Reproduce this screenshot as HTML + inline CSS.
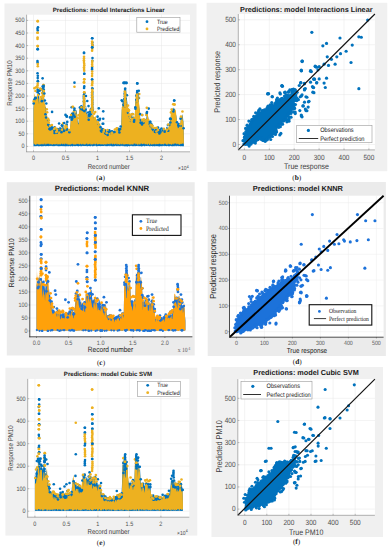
<!DOCTYPE html><html><head><meta charset="utf-8"><style>html,body{margin:0;padding:0;background:#fff;width:392px;height:550px;overflow:hidden}svg{display:block}#w{width:392px;height:550px}text{text-rendering:geometricPrecision}</style></head><body>
<div id="w"><svg width="392" height="550" viewBox="0 0 392 550">
<rect x="4.5" y="3.5" width="192" height="167.5" fill="#f0f0f0"/><rect x="26.6" y="14.7" width="163.4" height="137.1" fill="#ffffff"/><line x1="26.6" y1="146.4" x2="190" y2="146.4" stroke="#e6e6e6" stroke-width="0.5"/><line x1="26.6" y1="133.8" x2="190" y2="133.8" stroke="#e6e6e6" stroke-width="0.5"/><line x1="26.6" y1="121.2" x2="190" y2="121.2" stroke="#e6e6e6" stroke-width="0.5"/><line x1="26.6" y1="108.6" x2="190" y2="108.6" stroke="#e6e6e6" stroke-width="0.5"/><line x1="26.6" y1="96" x2="190" y2="96" stroke="#e6e6e6" stroke-width="0.5"/><line x1="26.6" y1="83.4" x2="190" y2="83.4" stroke="#e6e6e6" stroke-width="0.5"/><line x1="26.6" y1="70.8" x2="190" y2="70.8" stroke="#e6e6e6" stroke-width="0.5"/><line x1="26.6" y1="58.2" x2="190" y2="58.2" stroke="#e6e6e6" stroke-width="0.5"/><line x1="26.6" y1="45.6" x2="190" y2="45.6" stroke="#e6e6e6" stroke-width="0.5"/><line x1="26.6" y1="33" x2="190" y2="33" stroke="#e6e6e6" stroke-width="0.5"/><line x1="26.6" y1="20.4" x2="190" y2="20.4" stroke="#e6e6e6" stroke-width="0.5"/><line x1="33.5" y1="14.7" x2="33.5" y2="151.8" stroke="#e6e6e6" stroke-width="0.5"/><line x1="65.5" y1="14.7" x2="65.5" y2="151.8" stroke="#e6e6e6" stroke-width="0.5"/><line x1="97.5" y1="14.7" x2="97.5" y2="151.8" stroke="#e6e6e6" stroke-width="0.5"/><line x1="129.5" y1="14.7" x2="129.5" y2="151.8" stroke="#e6e6e6" stroke-width="0.5"/><line x1="161.5" y1="14.7" x2="161.5" y2="151.8" stroke="#e6e6e6" stroke-width="0.5"/><path fill="#0072BD" d="M33.5 108.89 L34 97.76 L34.5 96.99 L35 100.12 L35.51 99.04 L36.01 99.33 L36.51 96.24 L37.01 100.05 L37.51 95.55 L38.01 96.77 L38.51 93.26 L39.01 94.94 L39.52 102.43 L40.02 101.27 L40.52 102.94 L41.02 96.5 L41.52 95.28 L42.02 98.46 L42.52 89.51 L43.03 91.64 L43.53 93.8 L44.03 95.23 L44.53 105.32 L45.03 106.15 L45.53 107.12 L46.03 107.97 L46.53 114.47 L47.04 118.58 L47.54 121.54 L48.04 120.16 L48.54 121.81 L49.04 124.76 L49.54 127.15 L50.04 126.39 L50.55 127.97 L51.05 129.68 L51.55 127.76 L52.05 127.35 L52.55 129.11 L53.05 130.57 L53.55 130.26 L54.05 130.82 L54.56 130.78 L55.06 130.11 L55.56 131.32 L56.06 130 L56.56 129.36 L57.06 131.27 L57.56 131.22 L58.07 129.61 L58.57 130.82 L59.07 129.21 L59.57 126.4 L60.07 129.09 L60.57 129.1 L61.07 128.62 L61.57 130.31 L62.08 127.78 L62.58 124.86 L63.08 123.79 L63.58 126.99 L64.08 129.22 L64.58 130.45 L65.08 130.13 L65.59 128.68 L66.09 129 L66.59 127.66 L67.09 127.04 L67.59 124.67 L68.09 128.52 L68.59 130.47 L69.09 128.63 L69.6 128.93 L70.1 129.36 L70.6 124.07 L71.1 114.46 L71.6 117.25 L72.1 113.69 L72.6 113.35 L73.11 113.22 L73.61 110.71 L74.11 114.57 L74.61 115 L75.11 112.24 L75.61 113.42 L76.11 109.81 L76.61 110.9 L77.12 114.33 L77.62 120.78 L78.12 122.98 L78.62 122.43 L79.12 116.03 L79.62 106.02 L80.12 106.07 L80.63 105.83 L81.13 111.32 L81.63 111.42 L82.13 108.05 L82.63 106.3 L83.13 107.64 L83.63 111.93 L84.13 105.46 L84.64 106.6 L85.14 110.94 L85.64 109.65 L86.14 105.59 L86.64 112.69 L87.14 113.36 L87.64 117.82 L88.15 112.92 L88.65 117.7 L89.15 112.44 L89.65 116.41 L90.15 117.79 L90.65 112.5 L91.15 115.3 L91.65 115.88 L92.16 113.41 L92.66 117.03 L93.16 117.1 L93.66 116.98 L94.16 118.51 L94.66 117.9 L95.16 117.33 L95.67 119.04 L96.17 119.36 L96.67 120.03 L97.17 121.24 L97.67 124.1 L98.17 123.69 L98.67 121.47 L99.17 123.84 L99.68 123.23 L100.18 126.12 L100.68 127.62 L101.18 127.93 L101.68 129.51 L102.18 128.55 L102.68 129.71 L103.19 130.21 L103.69 130.58 L104.19 130.68 L104.69 130.18 L105.19 129.63 L105.69 130.97 L106.19 130.32 L106.69 132.61 L107.2 132.92 L107.7 133.08 L108.2 131.25 L108.7 133.18 L109.2 131.78 L109.7 131.15 L110.2 132.88 L110.71 132.26 L111.21 130.46 L111.71 132.71 L112.21 131.57 L112.71 132.39 L113.21 130.72 L113.71 131.1 L114.21 132.59 L114.72 130.65 L115.22 132.23 L115.72 129.9 L116.22 131.89 L116.72 131.98 L117.22 131.11 L117.72 130.47 L118.23 129.03 L118.73 131.04 L119.23 129.51 L119.73 130.94 L120.23 128.78 L120.73 130.71 L121.23 126.46 L121.73 110.28 L122.24 106.99 L122.74 103.12 L123.24 101.79 L123.74 103.97 L124.24 101.16 L124.74 104.63 L125.24 104.79 L125.75 101.9 L126.25 96.72 L126.75 97.99 L127.25 101.85 L127.75 107.21 L128.25 107.97 L128.75 115.56 L129.25 114.64 L129.76 117.23 L130.26 118.91 L130.76 119.36 L131.26 117.59 L131.76 119.42 L132.26 117.24 L132.76 118.84 L133.27 120.73 L133.77 120.53 L134.27 119.36 L134.77 117.38 L135.27 100.85 L135.77 99.83 L136.27 100.05 L136.77 101.72 L137.28 100.99 L137.78 94.39 L138.28 101.82 L138.78 101.52 L139.28 107.11 L139.78 110.31 L140.28 119.37 L140.79 121.95 L141.29 121.68 L141.79 122.13 L142.29 120.9 L142.79 119.6 L143.29 118.94 L143.79 119.34 L144.29 121.26 L144.8 118.39 L145.3 119.96 L145.8 123.62 L146.3 118.18 L146.8 115.08 L147.3 115.23 L147.8 115.08 L148.31 117.66 L148.81 122.4 L149.31 122.66 L149.81 125.41 L150.31 126.49 L150.81 127.26 L151.31 126.08 L151.81 126.53 L152.32 127.76 L152.82 127.36 L153.32 129.12 L153.82 129.31 L154.32 129.1 L154.82 131.3 L155.32 129.21 L155.83 129.21 L156.33 130.05 L156.83 130.14 L157.33 129.25 L157.83 129.69 L158.33 131.32 L158.83 129.46 L159.33 130.06 L159.84 131.71 L160.34 129.81 L160.84 129.84 L161.34 130.38 L161.84 130.58 L162.34 129.28 L162.84 129.01 L163.35 131.75 L163.85 128.87 L164.35 129.78 L164.85 130.29 L165.35 130.01 L165.85 129.97 L166.35 126.79 L166.85 126.95 L167.36 126.38 L167.86 128.52 L168.36 127.26 L168.86 128.84 L169.36 125.53 L169.86 123.25 L170.36 118.64 L170.87 117.02 L171.37 109.33 L171.87 108.42 L172.37 108.31 L172.87 111.86 L173.37 107.01 L173.87 111.42 L174.37 111.8 L174.88 112.84 L175.38 111.21 L175.88 113.67 L176.38 115.9 L176.88 120.71 L177.38 122.37 L177.88 124.67 L178.39 123.61 L178.89 124.78 L179.39 124.97 L179.89 125.14 L180.39 124.44 L180.89 116.89 L181.39 115.71 L181.89 117.4 L182.4 113.92 L182.9 116.49 L183.4 121.99 L183.9 138.71 L183.9 146.3 L183.4 146.15 L182.9 146.21 L182.4 146.24 L181.89 145.93 L181.39 146.18 L180.89 146.32 L180.39 146.37 L179.89 145.99 L179.39 146.12 L178.89 146.37 L178.39 146.05 L177.88 145.82 L177.38 145.89 L176.88 145.8 L176.38 146.28 L175.88 146.23 L175.38 145.81 L174.88 145.87 L174.37 146.37 L173.87 146.13 L173.37 146.03 L172.87 146.15 L172.37 146.22 L171.87 145.95 L171.37 146.32 L170.87 145.93 L170.36 145.87 L169.86 146.18 L169.36 146.21 L168.86 146.09 L168.36 146.38 L167.86 145.83 L167.36 145.96 L166.85 146.08 L166.35 146.32 L165.85 146.07 L165.35 146.03 L164.85 145.8 L164.35 146.23 L163.85 145.79 L163.35 146.11 L162.84 145.81 L162.34 146.27 L161.84 146.33 L161.34 146.11 L160.84 146.22 L160.34 145.96 L159.84 146.23 L159.33 146.39 L158.83 146.21 L158.33 146.24 L157.83 146.35 L157.33 146.01 L156.83 145.97 L156.33 146.16 L155.83 145.79 L155.32 146.27 L154.82 146.23 L154.32 146.24 L153.82 146.36 L153.32 146.06 L152.82 145.93 L152.32 146.4 L151.81 145.97 L151.31 146 L150.81 145.87 L150.31 146.17 L149.81 146.38 L149.31 145.96 L148.81 145.84 L148.31 145.88 L147.8 145.87 L147.3 146.07 L146.8 145.89 L146.3 146 L145.8 145.87 L145.3 145.99 L144.8 146.31 L144.29 146.19 L143.79 145.85 L143.29 145.99 L142.79 146.07 L142.29 146.25 L141.79 146.39 L141.29 146.15 L140.79 146.23 L140.28 146.08 L139.78 146.08 L139.28 146.16 L138.78 146.18 L138.28 145.79 L137.78 146.06 L137.28 145.79 L136.77 146.12 L136.27 146.11 L135.77 146.25 L135.27 145.98 L134.77 145.87 L134.27 146.3 L133.77 145.93 L133.27 146.32 L132.76 146.18 L132.26 146 L131.76 145.88 L131.26 145.78 L130.76 146.08 L130.26 145.87 L129.76 146.13 L129.25 146.33 L128.75 146.1 L128.25 146.05 L127.75 146.39 L127.25 146.39 L126.75 146.29 L126.25 146.22 L125.75 146.21 L125.24 146.27 L124.74 146.3 L124.24 146.25 L123.74 146.32 L123.24 145.82 L122.74 146.19 L122.24 145.86 L121.73 145.86 L121.23 145.89 L120.73 145.81 L120.23 146.13 L119.73 146.36 L119.23 145.96 L118.73 145.82 L118.23 146.24 L117.72 145.83 L117.22 146.32 L116.72 145.91 L116.22 146.23 L115.72 145.79 L115.22 145.78 L114.72 146.08 L114.21 146.19 L113.71 146.12 L113.21 146.39 L112.71 146.2 L112.21 146.19 L111.71 146.13 L111.21 145.88 L110.71 146.09 L110.2 145.8 L109.7 145.79 L109.2 146.31 L108.7 145.95 L108.2 145.83 L107.7 145.98 L107.2 146.25 L106.69 146.12 L106.19 146.31 L105.69 145.81 L105.19 146.24 L104.69 145.85 L104.19 145.81 L103.69 146.06 L103.19 145.96 L102.68 146.08 L102.18 146.12 L101.68 145.92 L101.18 146.08 L100.68 146.23 L100.18 146.05 L99.68 145.91 L99.17 146.07 L98.67 146.05 L98.17 146.1 L97.67 145.9 L97.17 146.28 L96.67 146.39 L96.17 146.06 L95.67 145.82 L95.16 145.83 L94.66 146.11 L94.16 145.83 L93.66 146.14 L93.16 146.03 L92.66 146.22 L92.16 146.27 L91.65 145.85 L91.15 145.81 L90.65 145.99 L90.15 146.39 L89.65 146.05 L89.15 145.99 L88.65 145.88 L88.15 145.89 L87.64 146.3 L87.14 146.29 L86.64 145.8 L86.14 146.15 L85.64 145.9 L85.14 145.9 L84.64 146.1 L84.13 145.91 L83.63 145.98 L83.13 145.9 L82.63 146.1 L82.13 145.83 L81.63 146.27 L81.13 146.26 L80.63 146.17 L80.12 145.78 L79.62 146.12 L79.12 145.96 L78.62 146.22 L78.12 146.38 L77.62 146.07 L77.12 145.93 L76.61 145.89 L76.11 145.78 L75.61 146.26 L75.11 145.91 L74.61 145.91 L74.11 146.17 L73.61 145.96 L73.11 145.78 L72.6 146.38 L72.1 146.31 L71.6 145.8 L71.1 146.3 L70.6 146.23 L70.1 146.34 L69.6 146.1 L69.09 145.77 L68.59 146.32 L68.09 146.18 L67.59 146.31 L67.09 145.85 L66.59 146.17 L66.09 146.3 L65.59 146.37 L65.08 146.3 L64.58 146.36 L64.08 146 L63.58 146.15 L63.08 145.9 L62.58 145.91 L62.08 146.37 L61.57 146.01 L61.07 145.96 L60.57 146.04 L60.07 146.14 L59.57 146.23 L59.07 146.09 L58.57 146.25 L58.07 146.3 L57.56 145.84 L57.06 146.14 L56.56 145.86 L56.06 145.84 L55.56 146.12 L55.06 145.85 L54.56 146.24 L54.05 145.92 L53.55 146.33 L53.05 146.11 L52.55 145.98 L52.05 146.22 L51.55 145.77 L51.05 145.96 L50.55 145.98 L50.04 145.8 L49.54 146.11 L49.04 146.03 L48.54 146.2 L48.04 146.04 L47.54 145.98 L47.04 146.09 L46.53 145.92 L46.03 146.33 L45.53 146.22 L45.03 145.85 L44.53 146.04 L44.03 145.96 L43.53 146.21 L43.03 146.03 L42.52 146.13 L42.02 146.27 L41.52 146.36 L41.02 146.17 L40.52 146.03 L40.02 145.89 L39.52 146.33 L39.01 146.22 L38.51 146.37 L38.01 146.15 L37.51 145.8 L37.01 146.26 L36.51 145.88 L36.01 146.34 L35.51 146.13 L35 146.08 L34.5 146.17 L34 146.35 L33.5 146.3 Z"/><path fill="#EDB120" d="M33.5 110.28 L34 98.9 L34.5 93.08 L35 95.58 L35.51 97.73 L36.01 96.19 L36.51 98.33 L37.01 94.95 L37.51 93.92 L38.01 98.09 L38.51 99 L39.01 104.38 L39.52 94.35 L40.02 99.03 L40.52 96.24 L41.02 100.23 L41.52 96.48 L42.02 88.55 L42.52 86.96 L43.03 97.26 L43.53 88.66 L44.03 96.87 L44.53 103.87 L45.03 103.64 L45.53 105.45 L46.03 115.23 L46.53 113.85 L47.04 114.1 L47.54 118.38 L48.04 122.03 L48.54 127.1 L49.04 127.36 L49.54 127.37 L50.04 130 L50.55 127.85 L51.05 130.5 L51.55 128.7 L52.05 129.45 L52.55 128.85 L53.05 130.24 L53.55 128.19 L54.05 128.64 L54.56 131.16 L55.06 128.88 L55.56 131.24 L56.06 130.73 L56.56 131.21 L57.06 130.62 L57.56 132.4 L58.07 132.14 L58.57 129.69 L59.07 127.71 L59.57 127.19 L60.07 125.99 L60.57 128.06 L61.07 131.74 L61.57 131.69 L62.08 128.93 L62.58 128.26 L63.08 125.08 L63.58 128.85 L64.08 129.56 L64.58 131.09 L65.08 131.85 L65.59 127.23 L66.09 126.65 L66.59 124.83 L67.09 127.12 L67.59 124.53 L68.09 127.45 L68.59 131.04 L69.09 131.73 L69.6 130.24 L70.1 126.76 L70.6 121.7 L71.1 117.61 L71.6 112.15 L72.1 118.39 L72.6 114.67 L73.11 116.08 L73.61 110.69 L74.11 113.66 L74.61 110.95 L75.11 117.43 L75.61 109.51 L76.11 110.31 L76.61 114.59 L77.12 113.82 L77.62 121.09 L78.12 123.65 L78.62 124.67 L79.12 112.01 L79.62 106.3 L80.12 111.79 L80.63 106 L81.13 110.1 L81.63 109.62 L82.13 105.87 L82.63 106.59 L83.13 106.35 L83.63 107.8 L84.13 110.17 L84.64 106.32 L85.14 111.32 L85.64 110.65 L86.14 114.56 L86.64 113.43 L87.14 112.58 L87.64 117.37 L88.15 119.11 L88.65 114.28 L89.15 117.64 L89.65 114.81 L90.15 114.05 L90.65 114.55 L91.15 113.54 L91.65 115.15 L92.16 114.11 L92.66 117.52 L93.16 118.44 L93.66 115.08 L94.16 117.11 L94.66 117.15 L95.16 116.27 L95.67 116.26 L96.17 119.76 L96.67 118.69 L97.17 124.79 L97.67 124.49 L98.17 120.25 L98.67 120.95 L99.17 121.73 L99.68 125.18 L100.18 122.92 L100.68 126.68 L101.18 130.61 L101.68 131.82 L102.18 131.41 L102.68 130.13 L103.19 133.36 L103.69 130.43 L104.19 131.86 L104.69 130.49 L105.19 133.47 L105.69 132.09 L106.19 131.5 L106.69 133.38 L107.2 132.58 L107.7 133.11 L108.2 133.27 L108.7 133.29 L109.2 131.88 L109.7 133.26 L110.2 132.08 L110.71 134.93 L111.21 132.7 L111.71 132.64 L112.21 132.34 L112.71 134.38 L113.21 131.55 L113.71 133.56 L114.21 132.17 L114.72 133.01 L115.22 131.41 L115.72 133 L116.22 130.32 L116.72 132.3 L117.22 129.64 L117.72 130.84 L118.23 129.33 L118.73 129.21 L119.23 129.26 L119.73 129.19 L120.23 130.31 L120.73 128.71 L121.23 128.79 L121.73 106.63 L122.24 107.4 L122.74 100.45 L123.24 108.28 L123.74 99.25 L124.24 98.11 L124.74 99.71 L125.24 99 L125.75 100.62 L126.25 99.68 L126.75 98.18 L127.25 107.17 L127.75 105 L128.25 107.74 L128.75 113.84 L129.25 117.57 L129.76 121.98 L130.26 122.28 L130.76 118.92 L131.26 118.08 L131.76 117.44 L132.26 118.55 L132.76 118.48 L133.27 115.98 L133.77 116.3 L134.27 116.82 L134.77 117.29 L135.27 103.93 L135.77 93.31 L136.27 94.79 L136.77 104.16 L137.28 95.82 L137.78 94.99 L138.28 96.05 L138.78 99.32 L139.28 105.64 L139.78 110.04 L140.28 121.93 L140.79 121.88 L141.29 118.69 L141.79 122.2 L142.29 122.91 L142.79 119.58 L143.29 118.66 L143.79 120.31 L144.29 123.78 L144.8 120.49 L145.3 119.92 L145.8 119.32 L146.3 121.36 L146.8 117.04 L147.3 111.15 L147.8 113.26 L148.31 118.79 L148.81 122.71 L149.31 124.87 L149.81 127.77 L150.31 124.8 L150.81 125.98 L151.31 128.73 L151.81 126.88 L152.32 131.38 L152.82 130.85 L153.32 130.82 L153.82 130.08 L154.32 130.01 L154.82 132.04 L155.32 131.52 L155.83 132.36 L156.33 129.45 L156.83 130.98 L157.33 133.23 L157.83 130.5 L158.33 130.28 L158.83 129.49 L159.33 131.8 L159.84 133.04 L160.34 131.25 L160.84 132.99 L161.34 133.5 L161.84 129.75 L162.34 132.26 L162.84 131.06 L163.35 129.8 L163.85 131.19 L164.35 132.38 L164.85 128.91 L165.35 132.38 L165.85 128.38 L166.35 128.07 L166.85 129.84 L167.36 129.51 L167.86 128.7 L168.36 126.93 L168.86 126.55 L169.36 125.49 L169.86 120.33 L170.36 119.4 L170.87 110.88 L171.37 109.2 L171.87 113.53 L172.37 109.47 L172.87 109.16 L173.37 108.01 L173.87 112.71 L174.37 109.1 L174.88 108.57 L175.38 109.79 L175.88 110.53 L176.38 116.53 L176.88 119.89 L177.38 126.08 L177.88 128.18 L178.39 127.84 L178.89 128.35 L179.39 127.09 L179.89 129.56 L180.39 122.93 L180.89 118.39 L181.39 119.6 L181.89 117.26 L182.4 115.09 L182.9 121.28 L183.4 120.7 L183.9 139.82 L183.9 144.58 L183.4 143.46 L182.9 143.58 L182.4 143.54 L181.89 143.65 L181.39 144 L180.89 143.77 L180.39 143.93 L179.89 144.83 L179.39 144.67 L178.89 143.48 L178.39 144.85 L177.88 143.51 L177.38 143.95 L176.88 144.42 L176.38 143.79 L175.88 143.59 L175.38 143.62 L174.88 143.41 L174.37 143.84 L173.87 143.52 L173.37 144.39 L172.87 144.39 L172.37 143.46 L171.87 144.53 L171.37 144.86 L170.87 144.56 L170.36 143.92 L169.86 144.1 L169.36 144.23 L168.86 144.49 L168.36 143.61 L167.86 143.75 L167.36 144.83 L166.85 144.73 L166.35 144.2 L165.85 144.18 L165.35 143.61 L164.85 143.81 L164.35 143.54 L163.85 144.43 L163.35 144.62 L162.84 143.92 L162.34 143.97 L161.84 144.67 L161.34 144.06 L160.84 143.71 L160.34 144.53 L159.84 144.08 L159.33 143.52 L158.83 143.78 L158.33 144.22 L157.83 144.36 L157.33 143.91 L156.83 144.49 L156.33 143.71 L155.83 143.92 L155.32 144.66 L154.82 143.47 L154.32 144.17 L153.82 144.58 L153.32 144.01 L152.82 144.35 L152.32 144.35 L151.81 144.85 L151.31 144.54 L150.81 143.53 L150.31 144.23 L149.81 144.66 L149.31 144.89 L148.81 143.88 L148.31 143.4 L147.8 144.5 L147.3 144.81 L146.8 144.62 L146.3 143.73 L145.8 144.02 L145.3 144.49 L144.8 144.29 L144.29 143.39 L143.79 143.55 L143.29 144.05 L142.79 144.34 L142.29 144.09 L141.79 143.7 L141.29 143.53 L140.79 143.47 L140.28 144.61 L139.78 144.41 L139.28 144.49 L138.78 143.5 L138.28 144.67 L137.78 144.47 L137.28 144.65 L136.77 144.36 L136.27 143.48 L135.77 144.64 L135.27 143.44 L134.77 143.4 L134.27 143.66 L133.77 143.38 L133.27 144.68 L132.76 144.32 L132.26 144.81 L131.76 143.71 L131.26 144.76 L130.76 144.83 L130.26 144.22 L129.76 144.24 L129.25 144.73 L128.75 144.62 L128.25 143.71 L127.75 144.53 L127.25 143.95 L126.75 144.23 L126.25 143.89 L125.75 144.01 L125.24 144.43 L124.74 144.06 L124.24 144.71 L123.74 144.83 L123.24 144.04 L122.74 143.53 L122.24 144.51 L121.73 144.31 L121.23 144.28 L120.73 144.61 L120.23 143.61 L119.73 144.55 L119.23 144.65 L118.73 143.95 L118.23 144.3 L117.72 144.81 L117.22 143.41 L116.72 144.7 L116.22 143.43 L115.72 144.15 L115.22 143.49 L114.72 144.46 L114.21 144.13 L113.71 143.95 L113.21 143.51 L112.71 144.05 L112.21 144.64 L111.71 143.55 L111.21 143.65 L110.71 143.52 L110.2 144.58 L109.7 144.59 L109.2 143.38 L108.7 144.26 L108.2 144.03 L107.7 143.45 L107.2 144.46 L106.69 143.84 L106.19 144.75 L105.69 144.06 L105.19 144.73 L104.69 144.06 L104.19 144.58 L103.69 144.61 L103.19 144.39 L102.68 144.58 L102.18 143.98 L101.68 144.58 L101.18 144.33 L100.68 143.95 L100.18 144.73 L99.68 143.71 L99.17 144.21 L98.67 144.33 L98.17 144.01 L97.67 144.6 L97.17 144.44 L96.67 143.51 L96.17 143.65 L95.67 144.73 L95.16 143.9 L94.66 144.54 L94.16 143.39 L93.66 144.39 L93.16 143.55 L92.66 144.52 L92.16 144.59 L91.65 144.32 L91.15 144.44 L90.65 144.7 L90.15 143.61 L89.65 143.87 L89.15 144.26 L88.65 144.21 L88.15 144.13 L87.64 144.76 L87.14 143.39 L86.64 143.41 L86.14 144.05 L85.64 144.79 L85.14 143.75 L84.64 144.77 L84.13 144.34 L83.63 144.39 L83.13 143.72 L82.63 143.77 L82.13 144.61 L81.63 144.14 L81.13 144.51 L80.63 143.45 L80.12 144.17 L79.62 144.85 L79.12 143.93 L78.62 143.75 L78.12 144.47 L77.62 143.8 L77.12 143.96 L76.61 144.48 L76.11 143.53 L75.61 144.5 L75.11 144.79 L74.61 144.83 L74.11 143.66 L73.61 144.84 L73.11 144.34 L72.6 143.5 L72.1 144.17 L71.6 144.23 L71.1 143.65 L70.6 144.57 L70.1 144.7 L69.6 144.36 L69.09 144.88 L68.59 144.39 L68.09 144.32 L67.59 144.84 L67.09 143.47 L66.59 144.39 L66.09 143.38 L65.59 143.55 L65.08 144.29 L64.58 144.81 L64.08 143.42 L63.58 144.29 L63.08 143.45 L62.58 144.26 L62.08 144.6 L61.57 143.45 L61.07 143.74 L60.57 144.54 L60.07 144.42 L59.57 144.58 L59.07 143.77 L58.57 144.59 L58.07 144.25 L57.56 144.84 L57.06 143.49 L56.56 144.5 L56.06 143.87 L55.56 144.86 L55.06 143.82 L54.56 144.51 L54.05 144.17 L53.55 143.91 L53.05 144.19 L52.55 144.87 L52.05 144.55 L51.55 144.01 L51.05 144.78 L50.55 143.83 L50.04 144.51 L49.54 144.43 L49.04 143.5 L48.54 143.71 L48.04 144.05 L47.54 143.73 L47.04 143.8 L46.53 143.86 L46.03 144.65 L45.53 144.51 L45.03 143.59 L44.53 143.49 L44.03 144.89 L43.53 144.17 L43.03 143.82 L42.52 144.86 L42.02 143.6 L41.52 144.21 L41.02 144.51 L40.52 144.56 L40.02 143.94 L39.52 144.7 L39.01 144.47 L38.51 144.38 L38.01 144.1 L37.51 144.26 L37.01 143.55 L36.51 144.5 L36.01 144.75 L35.51 144.75 L35 144.68 L34.5 143.38 L34 144.56 L33.5 143.52 Z"/><g fill="#0072BD"></g><g fill="#0072BD"><circle cx="156.65" cy="129.13" r="1.3"/><circle cx="71.7" cy="119.67" r="1.3"/><circle cx="63.73" cy="129.85" r="1.3"/><circle cx="46.08" cy="117.48" r="1.3"/><circle cx="117.33" cy="129.87" r="1.3"/><circle cx="102.43" cy="129.12" r="1.3"/><circle cx="170.35" cy="122.52" r="1.3"/><circle cx="123.45" cy="104.86" r="1.3"/><circle cx="51.54" cy="127.15" r="1.3"/><circle cx="72.18" cy="114.58" r="1.3"/><circle cx="129.85" cy="116.71" r="1.3"/><circle cx="134.23" cy="120.11" r="1.3"/><circle cx="100.93" cy="130.72" r="1.3"/><circle cx="178.75" cy="123.98" r="1.3"/><circle cx="66.85" cy="129.43" r="1.3"/><circle cx="71.98" cy="116.64" r="1.3"/><circle cx="169.27" cy="124.89" r="1.3"/><circle cx="159.42" cy="133.46" r="1.3"/><circle cx="151.77" cy="127.02" r="1.3"/><circle cx="130.76" cy="116.24" r="1.3"/><circle cx="41.89" cy="101.14" r="1.3"/><circle cx="147.04" cy="112.04" r="1.3"/><circle cx="135.3" cy="107.3" r="1.3"/><circle cx="122.46" cy="101.18" r="1.3"/><circle cx="49.36" cy="129.01" r="1.3"/><circle cx="72.15" cy="118.69" r="1.3"/><circle cx="105.89" cy="133.76" r="1.3"/><circle cx="69.36" cy="132.13" r="1.3"/><circle cx="135.42" cy="108.82" r="1.3"/><circle cx="141.37" cy="123.08" r="1.3"/><circle cx="38.92" cy="93.97" r="1.3"/><circle cx="66.67" cy="124.58" r="1.3"/><circle cx="163.86" cy="129.3" r="1.3"/><circle cx="54.52" cy="130.95" r="1.3"/><circle cx="48.09" cy="119.95" r="1.3"/><circle cx="160.17" cy="130.94" r="1.3"/><circle cx="101.53" cy="131.58" r="1.3"/><circle cx="157.29" cy="131.38" r="1.3"/><circle cx="127.98" cy="112.65" r="1.3"/><circle cx="66.84" cy="129.34" r="1.3"/><circle cx="140.84" cy="120.12" r="1.3"/><circle cx="55.26" cy="129.3" r="1.3"/><circle cx="73.57" cy="115.38" r="1.3"/><circle cx="56.92" cy="132.69" r="1.3"/><circle cx="159.77" cy="132.21" r="1.3"/><circle cx="58.74" cy="130.46" r="1.3"/><circle cx="81.34" cy="106.24" r="1.3"/><circle cx="50.67" cy="126.65" r="1.3"/><circle cx="42.05" cy="89.07" r="1.3"/><circle cx="134.01" cy="121.63" r="1.3"/><circle cx="105.31" cy="133.08" r="1.3"/><circle cx="72.27" cy="117.92" r="1.3"/><circle cx="88.29" cy="112.46" r="1.3"/><circle cx="183.61" cy="128.19" r="1.3"/><circle cx="48.17" cy="124.75" r="1.3"/><circle cx="168.29" cy="130.82" r="1.3"/><circle cx="142.76" cy="122.86" r="1.3"/><circle cx="180.69" cy="125.72" r="1.3"/><circle cx="154.88" cy="131.81" r="1.3"/><circle cx="54.58" cy="133.05" r="1.3"/><circle cx="158.67" cy="131.27" r="1.3"/><circle cx="61.45" cy="132.3" r="1.3"/><circle cx="170.66" cy="119.09" r="1.3"/><circle cx="119.43" cy="132.52" r="1.3"/><circle cx="60.59" cy="128.54" r="1.3"/><circle cx="140.53" cy="122.75" r="1.3"/><circle cx="45.42" cy="114.23" r="1.3"/><circle cx="125.03" cy="102.27" r="1.3"/><circle cx="74.69" cy="116.85" r="1.3"/><circle cx="125.61" cy="98.94" r="1.3"/><circle cx="155.56" cy="130.76" r="1.3"/><circle cx="63.92" cy="130.88" r="1.3"/><circle cx="143.7" cy="122.38" r="1.3"/><circle cx="142.04" cy="124.39" r="1.3"/><circle cx="155.42" cy="131.88" r="1.3"/><circle cx="160.12" cy="129.89" r="1.3"/><circle cx="107.65" cy="134.93" r="1.3"/><circle cx="170.4" cy="118.81" r="1.3"/><circle cx="164.65" cy="131.71" r="1.3"/><circle cx="61.48" cy="130.45" r="1.3"/><circle cx="88.71" cy="119.76" r="1.3"/><circle cx="89.32" cy="115.95" r="1.3"/><circle cx="34.2" cy="99.72" r="1.3"/><circle cx="100.54" cy="127.14" r="1.3"/><circle cx="51.66" cy="128.45" r="1.3"/><circle cx="156.31" cy="129.55" r="1.3"/><circle cx="81.78" cy="108.2" r="1.3"/><circle cx="90.86" cy="114.57" r="1.3"/><circle cx="42.71" cy="86.38" r="1.3"/><circle cx="176.99" cy="122.21" r="1.3"/></g><g fill="#0072BD"><circle cx="50.34" cy="129.53" r="1.3"/><circle cx="155.63" cy="128.71" r="1.3"/><circle cx="72.11" cy="113.73" r="1.3"/><circle cx="88.85" cy="115.02" r="1.3"/><circle cx="109.26" cy="130.39" r="1.3"/><circle cx="149.76" cy="123.94" r="1.3"/><circle cx="114.4" cy="131.88" r="1.3"/><circle cx="33.7" cy="103.39" r="1.3"/><circle cx="107.89" cy="132.17" r="1.3"/><circle cx="152" cy="125.26" r="1.3"/><circle cx="102.82" cy="129.37" r="1.3"/><circle cx="82.63" cy="110.05" r="1.3"/><circle cx="99.5" cy="120.1" r="1.3"/><circle cx="52.46" cy="128.11" r="1.3"/><circle cx="61.97" cy="125.62" r="1.3"/><circle cx="91.29" cy="108.75" r="1.3"/><circle cx="124.3" cy="99.06" r="1.3"/><circle cx="170.06" cy="118.77" r="1.3"/><circle cx="142.12" cy="115.02" r="1.3"/><circle cx="138.79" cy="90.81" r="1.3"/><circle cx="151.17" cy="123.79" r="1.3"/><circle cx="126.98" cy="95.29" r="1.3"/><circle cx="173.4" cy="111.47" r="1.3"/><circle cx="57.69" cy="129.02" r="1.3"/><circle cx="111.59" cy="133.06" r="1.3"/><circle cx="136.43" cy="95.72" r="1.3"/><circle cx="67.25" cy="121.91" r="1.3"/><circle cx="112.77" cy="132.26" r="1.3"/><circle cx="150.3" cy="121.74" r="1.3"/><circle cx="178.47" cy="125.33" r="1.3"/><circle cx="158.9" cy="130.35" r="1.3"/><circle cx="158.02" cy="127.62" r="1.3"/><circle cx="54.62" cy="127.25" r="1.3"/><circle cx="35.75" cy="97.9" r="1.3"/><circle cx="54.97" cy="130.39" r="1.3"/><circle cx="85.61" cy="109.53" r="1.3"/><circle cx="152.57" cy="129.08" r="1.3"/><circle cx="125" cy="93.1" r="1.3"/><circle cx="167.94" cy="124.95" r="1.3"/><circle cx="145.08" cy="119.93" r="1.3"/><circle cx="108.43" cy="131.57" r="1.3"/><circle cx="118.11" cy="128.7" r="1.3"/><circle cx="89.89" cy="114.09" r="1.3"/><circle cx="44.84" cy="100.46" r="1.3"/><circle cx="37.79" cy="91.52" r="1.3"/><circle cx="173.6" cy="109.75" r="1.3"/><circle cx="110.3" cy="131.74" r="1.3"/><circle cx="38.6" cy="90.86" r="1.3"/><circle cx="104.87" cy="130.22" r="1.3"/><circle cx="74.36" cy="110.33" r="1.3"/><circle cx="81.19" cy="108.67" r="1.3"/><circle cx="62.07" cy="125.41" r="1.3"/><circle cx="132.47" cy="114.06" r="1.3"/><circle cx="125.51" cy="94.92" r="1.3"/><circle cx="138.24" cy="94.08" r="1.3"/><circle cx="39.06" cy="90.53" r="1.3"/><circle cx="132.12" cy="117.73" r="1.3"/><circle cx="98.27" cy="119.7" r="1.3"/><circle cx="51.37" cy="125.73" r="1.3"/><circle cx="91.73" cy="112.46" r="1.3"/><circle cx="136.34" cy="99.71" r="1.3"/><circle cx="149.91" cy="121.72" r="1.3"/><circle cx="143.25" cy="121.91" r="1.3"/><circle cx="140.17" cy="114.17" r="1.3"/><circle cx="71.71" cy="107.18" r="1.3"/><circle cx="35.21" cy="98.13" r="1.3"/><circle cx="143.21" cy="121.25" r="1.3"/><circle cx="119.97" cy="129.14" r="1.3"/><circle cx="91.51" cy="110.62" r="1.3"/><circle cx="42.62" cy="78.33" r="1.3"/><circle cx="157.94" cy="130.37" r="1.3"/><circle cx="180.51" cy="118.66" r="1.3"/><circle cx="79.91" cy="107.45" r="1.3"/><circle cx="90.15" cy="111.58" r="1.3"/><circle cx="121.73" cy="100.2" r="1.3"/><circle cx="39.86" cy="90.57" r="1.3"/><circle cx="161.52" cy="128.43" r="1.3"/><circle cx="64.57" cy="129.46" r="1.3"/><circle cx="120.67" cy="126.57" r="1.3"/><circle cx="111.99" cy="131.34" r="1.3"/><circle cx="138.94" cy="97.98" r="1.3"/><circle cx="49.46" cy="125.62" r="1.3"/><circle cx="118.8" cy="130.42" r="1.3"/><circle cx="97.56" cy="116.64" r="1.3"/></g><g fill="#EDB120"><circle cx="128.48" cy="111.16" r="1.3"/><circle cx="48.22" cy="118.91" r="1.3"/><circle cx="81.5" cy="107.19" r="1.3"/><circle cx="38.16" cy="94.98" r="1.3"/><circle cx="47.17" cy="112.31" r="1.3"/><circle cx="180.57" cy="124.15" r="1.3"/><circle cx="107.42" cy="130.06" r="1.3"/><circle cx="72.69" cy="106.81" r="1.3"/><circle cx="65.79" cy="125.7" r="1.3"/><circle cx="50.03" cy="126.04" r="1.3"/><circle cx="127.94" cy="105.58" r="1.3"/><circle cx="92.85" cy="109.64" r="1.3"/><circle cx="167.12" cy="129.74" r="1.3"/><circle cx="73.08" cy="107.01" r="1.3"/><circle cx="90.55" cy="109.7" r="1.3"/><circle cx="146.75" cy="113.58" r="1.3"/><circle cx="133.08" cy="114.29" r="1.3"/><circle cx="69.29" cy="130.29" r="1.3"/><circle cx="139.26" cy="94.03" r="1.3"/><circle cx="56.96" cy="131.17" r="1.3"/><circle cx="112.04" cy="132.69" r="1.3"/><circle cx="48.81" cy="120.43" r="1.3"/><circle cx="143.79" cy="119.37" r="1.3"/><circle cx="129.45" cy="120.21" r="1.3"/><circle cx="91.91" cy="117.73" r="1.3"/><circle cx="152.47" cy="126.04" r="1.3"/><circle cx="128.61" cy="110.31" r="1.3"/><circle cx="146.16" cy="120.34" r="1.3"/><circle cx="129.99" cy="117.55" r="1.3"/><circle cx="127.99" cy="109.19" r="1.3"/><circle cx="71.11" cy="114.99" r="1.3"/><circle cx="150.54" cy="124.82" r="1.3"/><circle cx="180.08" cy="127.84" r="1.3"/><circle cx="114.87" cy="129.49" r="1.3"/><circle cx="129.64" cy="114.52" r="1.3"/><circle cx="95.22" cy="112.12" r="1.3"/><circle cx="51.91" cy="125.07" r="1.3"/><circle cx="42.02" cy="92.95" r="1.3"/><circle cx="35.5" cy="90.96" r="1.3"/><circle cx="138.52" cy="97.83" r="1.3"/><circle cx="92.45" cy="116.05" r="1.3"/><circle cx="104.06" cy="129.72" r="1.3"/><circle cx="156.64" cy="127.92" r="1.3"/><circle cx="77.77" cy="118.16" r="1.3"/><circle cx="73.72" cy="111.99" r="1.3"/><circle cx="97.59" cy="122.4" r="1.3"/><circle cx="142.06" cy="119.84" r="1.3"/><circle cx="78.89" cy="115.12" r="1.3"/><circle cx="129.35" cy="114.67" r="1.3"/><circle cx="173.18" cy="104.25" r="1.3"/><circle cx="132.16" cy="118.74" r="1.3"/><circle cx="63.18" cy="123.35" r="1.3"/><circle cx="116.98" cy="131.01" r="1.3"/><circle cx="54.46" cy="128.87" r="1.3"/><circle cx="103.75" cy="131.57" r="1.3"/><circle cx="34.49" cy="88.17" r="1.3"/><circle cx="84.43" cy="101.5" r="1.3"/><circle cx="65.19" cy="128.52" r="1.3"/><circle cx="116.83" cy="128.41" r="1.3"/><circle cx="157.99" cy="130.03" r="1.3"/><circle cx="131.95" cy="114.18" r="1.3"/><circle cx="128.98" cy="110.26" r="1.3"/><circle cx="142.19" cy="115.01" r="1.3"/><circle cx="40.97" cy="97.09" r="1.3"/><circle cx="65.46" cy="126.67" r="1.3"/><circle cx="148.21" cy="120.06" r="1.3"/><circle cx="151.8" cy="125.7" r="1.3"/><circle cx="78.93" cy="115.25" r="1.3"/><circle cx="41.71" cy="89.59" r="1.3"/><circle cx="171.66" cy="109.6" r="1.3"/><circle cx="181.01" cy="116.61" r="1.3"/><circle cx="48.85" cy="122.68" r="1.3"/><circle cx="56.33" cy="132" r="1.3"/><circle cx="46.76" cy="109.32" r="1.3"/><circle cx="36.17" cy="87.19" r="1.3"/><circle cx="143.83" cy="121.34" r="1.3"/><circle cx="156.43" cy="131.47" r="1.3"/><circle cx="106.64" cy="132.97" r="1.3"/><circle cx="55.29" cy="127.76" r="1.3"/><circle cx="130.49" cy="115.95" r="1.3"/><circle cx="151.51" cy="125.22" r="1.3"/><circle cx="168.28" cy="124.6" r="1.3"/><circle cx="33.75" cy="101.15" r="1.3"/><circle cx="163.93" cy="128.88" r="1.3"/><circle cx="170.93" cy="112.38" r="1.3"/><circle cx="116.77" cy="128.57" r="1.3"/><circle cx="146.33" cy="114.93" r="1.3"/><circle cx="124.78" cy="94.78" r="1.3"/><circle cx="152.57" cy="127.48" r="1.3"/><circle cx="154.81" cy="127.96" r="1.3"/><circle cx="61.95" cy="129.78" r="1.3"/><circle cx="94.03" cy="113.81" r="1.3"/><circle cx="40.21" cy="88.59" r="1.3"/><circle cx="56.99" cy="129.54" r="1.3"/><circle cx="111.63" cy="133.39" r="1.3"/><circle cx="182.46" cy="111.57" r="1.3"/></g><g fill="#EDB120"><circle cx="37.73" cy="21.16" r="1.3"/><circle cx="37.74" cy="21.16" r="1.3"/></g><g fill="#0072BD"><circle cx="37.74" cy="30.48" r="1.3"/><circle cx="37.48" cy="28.84" r="1.3"/><circle cx="37.96" cy="27.2" r="1.3"/></g><g fill="#EDB120"><circle cx="37.58" cy="32.75" r="1.3"/><circle cx="37.56" cy="32.75" r="1.3"/></g><g fill="#EDB120"><circle cx="37.52" cy="39.05" r="1.3"/><circle cx="37.6" cy="37.54" r="1.3"/></g><g fill="#EDB120"><circle cx="37.89" cy="46.1" r="1.3"/><circle cx="37.48" cy="46.1" r="1.3"/></g><g fill="#0072BD"><circle cx="37.52" cy="49.13" r="1.3"/><circle cx="37.83" cy="49.13" r="1.3"/></g><g fill="#0072BD"><circle cx="37.57" cy="62.48" r="1.3"/><circle cx="37.48" cy="60.97" r="1.3"/></g><g fill="#EDB120"><circle cx="37.77" cy="66.26" r="1.3"/><circle cx="37.76" cy="64" r="1.3"/></g><g fill="#0072BD"><circle cx="37.74" cy="78.11" r="1.3"/><circle cx="37.83" cy="75.71" r="1.3"/><circle cx="37.52" cy="73.32" r="1.3"/></g><g fill="#0072BD"><circle cx="37.91" cy="81.13" r="1.3"/><circle cx="37.84" cy="81.13" r="1.3"/></g><g fill="#EDB120"><circle cx="37.49" cy="87.43" r="1.3"/><circle cx="37.53" cy="85.54" r="1.3"/><circle cx="37.72" cy="83.65" r="1.3"/></g><g fill="#0072BD"><circle cx="37.72" cy="92.22" r="1.3"/><circle cx="37.61" cy="89.7" r="1.3"/></g><g fill="#EDB120"><circle cx="43.42" cy="85.16" r="1.3"/><circle cx="43.56" cy="85.16" r="1.3"/></g><g fill="#0072BD"><circle cx="43.43" cy="93.48" r="1.3"/><circle cx="43.66" cy="91.59" r="1.3"/><circle cx="43.8" cy="89.7" r="1.3"/><circle cx="43.43" cy="87.81" r="1.3"/><circle cx="43.65" cy="85.92" r="1.3"/></g><g fill="#EDB120"><circle cx="43.74" cy="96" r="1.3"/><circle cx="43.44" cy="94.32" r="1.3"/><circle cx="43.78" cy="92.64" r="1.3"/><circle cx="43.84" cy="90.96" r="1.3"/></g><g fill="#0072BD"><circle cx="84" cy="52.91" r="1.3"/><circle cx="84.02" cy="52.91" r="1.3"/></g><g fill="#EDB120"><circle cx="84.23" cy="70.8" r="1.3"/><circle cx="84.07" cy="69.04" r="1.3"/><circle cx="84.01" cy="67.27" r="1.3"/><circle cx="84.29" cy="65.51" r="1.3"/><circle cx="84.2" cy="63.74" r="1.3"/><circle cx="83.98" cy="61.98" r="1.3"/><circle cx="83.93" cy="60.22" r="1.3"/><circle cx="83.98" cy="58.45" r="1.3"/><circle cx="84.03" cy="56.69" r="1.3"/></g><g fill="#0072BD"><circle cx="84.31" cy="73.82" r="1.3"/><circle cx="84.22" cy="73.82" r="1.3"/></g><g fill="#EDB120"><circle cx="84.27" cy="79.37" r="1.3"/><circle cx="84.22" cy="79.37" r="1.3"/></g><g fill="#EDB120"><circle cx="84.24" cy="82.39" r="1.3"/><circle cx="83.83" cy="82.39" r="1.3"/></g><g fill="#0072BD"><circle cx="84.07" cy="87.94" r="1.3"/><circle cx="84.29" cy="86.42" r="1.3"/></g><g fill="#0072BD"><circle cx="84.28" cy="111.12" r="1.3"/><circle cx="83.93" cy="109.52" r="1.3"/><circle cx="84.02" cy="107.91" r="1.3"/><circle cx="84.13" cy="106.31" r="1.3"/><circle cx="83.99" cy="104.71" r="1.3"/><circle cx="84.08" cy="103.1" r="1.3"/><circle cx="83.84" cy="101.5" r="1.3"/><circle cx="84.03" cy="99.89" r="1.3"/><circle cx="84.06" cy="98.29" r="1.3"/><circle cx="83.81" cy="96.69" r="1.3"/><circle cx="83.88" cy="95.08" r="1.3"/><circle cx="84.3" cy="93.48" r="1.3"/></g><g fill="#EDB120"><circle cx="84.2" cy="92.22" r="1.3"/><circle cx="84.28" cy="92.22" r="1.3"/></g><g fill="#EDB120"><circle cx="84.13" cy="108.6" r="1.3"/><circle cx="84.22" cy="106.8" r="1.3"/><circle cx="84.26" cy="105" r="1.3"/><circle cx="84.26" cy="103.2" r="1.3"/><circle cx="83.82" cy="101.4" r="1.3"/><circle cx="84.13" cy="99.6" r="1.3"/><circle cx="83.94" cy="97.8" r="1.3"/><circle cx="84.15" cy="96" r="1.3"/></g><g fill="#0072BD"><circle cx="92.14" cy="38.29" r="1.3"/><circle cx="92.27" cy="38.29" r="1.3"/></g><g fill="#0072BD"><circle cx="92.47" cy="45.1" r="1.3"/><circle cx="92.31" cy="42.58" r="1.3"/></g><g fill="#EDB120"><circle cx="92.12" cy="50.64" r="1.3"/><circle cx="92.26" cy="48.83" r="1.3"/><circle cx="92.22" cy="47.01" r="1.3"/><circle cx="92.48" cy="45.2" r="1.3"/><circle cx="92.14" cy="43.38" r="1.3"/><circle cx="92.15" cy="41.57" r="1.3"/></g><g fill="#0072BD"><circle cx="92.33" cy="47.36" r="1.3"/><circle cx="92.06" cy="47.36" r="1.3"/></g><g fill="#0072BD"><circle cx="92.3" cy="60.72" r="1.3"/><circle cx="92.49" cy="57.95" r="1.3"/></g><g fill="#EDB120"><circle cx="92.26" cy="66.26" r="1.3"/><circle cx="92.13" cy="64.5" r="1.3"/><circle cx="92.23" cy="62.74" r="1.3"/><circle cx="92.27" cy="60.97" r="1.3"/></g><g fill="#0072BD"><circle cx="92.07" cy="69.54" r="1.3"/><circle cx="92.06" cy="68.03" r="1.3"/></g><g fill="#EDB120"><circle cx="92.06" cy="76.09" r="1.3"/><circle cx="92.15" cy="73.82" r="1.3"/><circle cx="92.2" cy="71.56" r="1.3"/></g><g fill="#0072BD"><circle cx="92.14" cy="79.62" r="1.3"/><circle cx="92.12" cy="79.62" r="1.3"/></g><g fill="#EDB120"><circle cx="92.04" cy="85.16" r="1.3"/><circle cx="92.28" cy="83.4" r="1.3"/><circle cx="92.43" cy="81.64" r="1.3"/></g><g fill="#0072BD"><circle cx="92.31" cy="88.44" r="1.3"/><circle cx="92.29" cy="88.44" r="1.3"/></g><g fill="#0072BD"><circle cx="92.33" cy="111.12" r="1.3"/><circle cx="92.1" cy="109.4" r="1.3"/><circle cx="92.36" cy="107.68" r="1.3"/><circle cx="92.23" cy="105.97" r="1.3"/><circle cx="92.28" cy="104.25" r="1.3"/><circle cx="92.31" cy="102.53" r="1.3"/><circle cx="92.24" cy="100.81" r="1.3"/><circle cx="92.15" cy="99.09" r="1.3"/><circle cx="92.12" cy="97.37" r="1.3"/><circle cx="92.11" cy="95.66" r="1.3"/><circle cx="92.26" cy="93.94" r="1.3"/><circle cx="92.19" cy="92.22" r="1.3"/></g><g fill="#EDB120"><circle cx="92.3" cy="112.38" r="1.3"/><circle cx="92" cy="110.76" r="1.3"/><circle cx="92.18" cy="109.14" r="1.3"/><circle cx="92.44" cy="107.52" r="1.3"/><circle cx="92.12" cy="105.9" r="1.3"/><circle cx="92.28" cy="104.28" r="1.3"/><circle cx="92.25" cy="102.66" r="1.3"/><circle cx="92.14" cy="101.04" r="1.3"/><circle cx="92.5" cy="99.42" r="1.3"/><circle cx="92.15" cy="97.8" r="1.3"/><circle cx="92.39" cy="96.18" r="1.3"/><circle cx="92.08" cy="94.56" r="1.3"/><circle cx="92.03" cy="92.94" r="1.3"/><circle cx="92.44" cy="91.32" r="1.3"/><circle cx="92.22" cy="89.7" r="1.3"/></g><g fill="#0072BD"><circle cx="124.8" cy="82.9" r="1.3"/><circle cx="124.96" cy="82.9" r="1.3"/></g><g fill="#0072BD"><circle cx="124.99" cy="106.08" r="1.3"/><circle cx="125.14" cy="104.48" r="1.3"/><circle cx="124.82" cy="102.87" r="1.3"/><circle cx="124.88" cy="101.27" r="1.3"/><circle cx="125.26" cy="99.67" r="1.3"/><circle cx="125.14" cy="98.06" r="1.3"/><circle cx="124.84" cy="96.46" r="1.3"/><circle cx="124.94" cy="94.85" r="1.3"/><circle cx="124.94" cy="93.25" r="1.3"/><circle cx="125.11" cy="91.65" r="1.3"/><circle cx="125.08" cy="90.04" r="1.3"/><circle cx="125.2" cy="88.44" r="1.3"/></g><g fill="#EDB120"><circle cx="125.18" cy="106.08" r="1.3"/><circle cx="125.03" cy="104.46" r="1.3"/><circle cx="125.14" cy="102.83" r="1.3"/><circle cx="125.14" cy="101.21" r="1.3"/><circle cx="125.15" cy="99.58" r="1.3"/><circle cx="125.01" cy="97.96" r="1.3"/><circle cx="125.17" cy="96.34" r="1.3"/><circle cx="125.13" cy="94.71" r="1.3"/><circle cx="125.23" cy="93.09" r="1.3"/><circle cx="124.83" cy="91.46" r="1.3"/></g><g fill="#0072BD"><circle cx="123.93" cy="82.9" r="1.3"/><circle cx="123.49" cy="82.9" r="1.3"/></g><g fill="#0072BD"><circle cx="126.44" cy="82.9" r="1.3"/><circle cx="126.34" cy="82.9" r="1.3"/></g><g fill="#0072BD"><circle cx="137.18" cy="83.4" r="1.3"/><circle cx="137.42" cy="83.4" r="1.3"/></g><g fill="#0072BD"><circle cx="137.22" cy="101.04" r="1.3"/><circle cx="137.14" cy="99.36" r="1.3"/><circle cx="137.33" cy="97.68" r="1.3"/><circle cx="137.37" cy="96" r="1.3"/><circle cx="137.23" cy="94.32" r="1.3"/><circle cx="137.12" cy="92.64" r="1.3"/><circle cx="137.16" cy="90.96" r="1.3"/></g><g fill="#EDB120"><circle cx="137.16" cy="101.04" r="1.3"/><circle cx="137.29" cy="99.4" r="1.3"/><circle cx="137.07" cy="97.76" r="1.3"/><circle cx="137.12" cy="96.13" r="1.3"/><circle cx="137.21" cy="94.49" r="1.3"/></g><g fill="#0072BD"><circle cx="174.24" cy="100.54" r="1.3"/><circle cx="174.21" cy="100.54" r="1.3"/></g><g fill="#EDB120"><circle cx="174.45" cy="104.57" r="1.3"/><circle cx="174.48" cy="104.57" r="1.3"/></g><g fill="#0072BD"><circle cx="85.98" cy="96" r="1.3"/><circle cx="87.26" cy="101.04" r="1.3"/><circle cx="88.54" cy="106.08" r="1.3"/><circle cx="103.26" cy="111.37" r="1.3"/><circle cx="103.26" cy="118.68" r="1.3"/><circle cx="103.26" cy="123.72" r="1.3"/><circle cx="98.78" cy="108.35" r="1.3"/><circle cx="146.78" cy="112.88" r="1.3"/><circle cx="73.18" cy="113.64" r="1.3"/><circle cx="69.98" cy="117.42" r="1.3"/><circle cx="66.78" cy="116.16" r="1.3"/><circle cx="52.06" cy="111.88" r="1.3"/><circle cx="59.1" cy="123.47" r="1.3"/><circle cx="64.22" cy="122.96" r="1.3"/><circle cx="65.5" cy="114.9" r="1.3"/><circle cx="66.78" cy="116.66" r="1.3"/><circle cx="74.46" cy="82.64" r="1.3"/><circle cx="74.46" cy="108.6" r="1.3"/><circle cx="100.06" cy="118.68" r="1.3"/><circle cx="102.62" cy="123.72" r="1.3"/><circle cx="148.7" cy="108.6" r="1.3"/><circle cx="43.1" cy="86.42" r="1.3"/><circle cx="44.38" cy="93.48" r="1.3"/><circle cx="46.3" cy="103.56" r="1.3"/></g><g fill="#EDB120"><circle cx="74.46" cy="86.68" r="1.3"/><circle cx="146.78" cy="107.84" r="1.3"/></g><line x1="26.6" y1="14.7" x2="26.6" y2="152.1" stroke="#808080" stroke-width="0.6"/><line x1="26.3" y1="151.8" x2="190" y2="151.8" stroke="#808080" stroke-width="0.6"/><line x1="26.6" y1="146.4" x2="28.1" y2="146.4" stroke="#808080" stroke-width="0.5"/><text transform="translate(24.5 148.38) scale(1 1.15)" font-size="5.5" text-anchor="end" fill="#4d4d4d" font-family="Liberation Sans, sans-serif" >0</text><line x1="26.6" y1="133.8" x2="28.1" y2="133.8" stroke="#808080" stroke-width="0.5"/><text transform="translate(24.5 135.78) scale(1 1.15)" font-size="5.5" text-anchor="end" fill="#4d4d4d" font-family="Liberation Sans, sans-serif" >50</text><line x1="26.6" y1="121.2" x2="28.1" y2="121.2" stroke="#808080" stroke-width="0.5"/><text transform="translate(24.5 123.18) scale(1 1.15)" font-size="5.5" text-anchor="end" fill="#4d4d4d" font-family="Liberation Sans, sans-serif" >100</text><line x1="26.6" y1="108.6" x2="28.1" y2="108.6" stroke="#808080" stroke-width="0.5"/><text transform="translate(24.5 110.58) scale(1 1.15)" font-size="5.5" text-anchor="end" fill="#4d4d4d" font-family="Liberation Sans, sans-serif" >150</text><line x1="26.6" y1="96" x2="28.1" y2="96" stroke="#808080" stroke-width="0.5"/><text transform="translate(24.5 97.98) scale(1 1.15)" font-size="5.5" text-anchor="end" fill="#4d4d4d" font-family="Liberation Sans, sans-serif" >200</text><line x1="26.6" y1="83.4" x2="28.1" y2="83.4" stroke="#808080" stroke-width="0.5"/><text transform="translate(24.5 85.38) scale(1 1.15)" font-size="5.5" text-anchor="end" fill="#4d4d4d" font-family="Liberation Sans, sans-serif" >250</text><line x1="26.6" y1="70.8" x2="28.1" y2="70.8" stroke="#808080" stroke-width="0.5"/><text transform="translate(24.5 72.78) scale(1 1.15)" font-size="5.5" text-anchor="end" fill="#4d4d4d" font-family="Liberation Sans, sans-serif" >300</text><line x1="26.6" y1="58.2" x2="28.1" y2="58.2" stroke="#808080" stroke-width="0.5"/><text transform="translate(24.5 60.18) scale(1 1.15)" font-size="5.5" text-anchor="end" fill="#4d4d4d" font-family="Liberation Sans, sans-serif" >350</text><line x1="26.6" y1="45.6" x2="28.1" y2="45.6" stroke="#808080" stroke-width="0.5"/><text transform="translate(24.5 47.58) scale(1 1.15)" font-size="5.5" text-anchor="end" fill="#4d4d4d" font-family="Liberation Sans, sans-serif" >400</text><line x1="26.6" y1="33" x2="28.1" y2="33" stroke="#808080" stroke-width="0.5"/><text transform="translate(24.5 34.98) scale(1 1.15)" font-size="5.5" text-anchor="end" fill="#4d4d4d" font-family="Liberation Sans, sans-serif" >450</text><line x1="26.6" y1="20.4" x2="28.1" y2="20.4" stroke="#808080" stroke-width="0.5"/><text transform="translate(24.5 22.38) scale(1 1.15)" font-size="5.5" text-anchor="end" fill="#4d4d4d" font-family="Liberation Sans, sans-serif" >500</text><line x1="33.5" y1="151.8" x2="33.5" y2="150.3" stroke="#808080" stroke-width="0.5"/><text transform="translate(33.5 160) scale(1 1.15)" font-size="5.5" text-anchor="middle" fill="#4d4d4d" font-family="Liberation Sans, sans-serif" >0</text><line x1="65.5" y1="151.8" x2="65.5" y2="150.3" stroke="#808080" stroke-width="0.5"/><text transform="translate(65.5 160) scale(1 1.15)" font-size="5.5" text-anchor="middle" fill="#4d4d4d" font-family="Liberation Sans, sans-serif" >0.5</text><line x1="97.5" y1="151.8" x2="97.5" y2="150.3" stroke="#808080" stroke-width="0.5"/><text transform="translate(97.5 160) scale(1 1.15)" font-size="5.5" text-anchor="middle" fill="#4d4d4d" font-family="Liberation Sans, sans-serif" >1</text><line x1="129.5" y1="151.8" x2="129.5" y2="150.3" stroke="#808080" stroke-width="0.5"/><text transform="translate(129.5 160) scale(1 1.15)" font-size="5.5" text-anchor="middle" fill="#4d4d4d" font-family="Liberation Sans, sans-serif" >1.5</text><line x1="161.5" y1="151.8" x2="161.5" y2="150.3" stroke="#808080" stroke-width="0.5"/><text transform="translate(161.5 160) scale(1 1.15)" font-size="5.5" text-anchor="middle" fill="#4d4d4d" font-family="Liberation Sans, sans-serif" >2</text><text x="108.7" y="11.6" font-size="6.15" text-anchor="middle" font-weight="bold" fill="#1a1a1a" font-family="Liberation Sans, sans-serif" >Predictions: model Interactions Linear</text><text transform="translate(108.7 169) scale(1 1.15)" font-size="6.1" text-anchor="middle" fill="#404040" font-family="Liberation Sans, sans-serif" >Record number</text><text x="0" y="0" font-size="6.15" text-anchor="middle" fill="#404040" font-family="Liberation Sans, sans-serif" transform="translate(12.2 83) rotate(-90) scale(1 1.15)">Response PM10</text><text transform="translate(178 170) scale(1 1.15)" font-size="5" text-anchor="start" fill="#4d4d4d" font-family="Liberation Sans, sans-serif" >×10</text><text transform="translate(186.75 167.5) scale(1 1.15)" font-size="3.5" text-anchor="start" fill="#4d4d4d" font-family="Liberation Sans, sans-serif" >4</text><rect x="136.8" y="17.6" width="43.2" height="14.6" fill="#ffffff" stroke="#9a9a9a" stroke-width="0.6"/><g fill="#0072BD"><circle cx="147" cy="21.7" r="1.4"/></g><g fill="#EDB120"><circle cx="147" cy="28.9" r="1.4"/></g><text transform="translate(157 23.61) scale(1 1.15)" font-size="5.3" text-anchor="start" fill="#222" font-family="Liberation Sans, sans-serif" >True</text><text transform="translate(157 30.81) scale(1 1.15)" font-size="5.3" text-anchor="start" fill="#222" font-family="Liberation Sans, sans-serif" >Predicted</text><text x="100.6" y="179.8" font-size="7.4" text-anchor="middle" fill="#222" font-family="Liberation Serif, serif">(<tspan font-weight="bold">a</tspan>)</text><rect x="6.8" y="182.2" width="187.9" height="173.3" fill="#ebebeb"/><rect x="29.8" y="195.8" width="162.6" height="141" fill="#ffffff"/><line x1="29.8" y1="331" x2="192.4" y2="331" stroke="#ececec" stroke-width="0.5"/><line x1="29.8" y1="317.98" x2="192.4" y2="317.98" stroke="#ececec" stroke-width="0.5"/><line x1="29.8" y1="304.96" x2="192.4" y2="304.96" stroke="#ececec" stroke-width="0.5"/><line x1="29.8" y1="291.94" x2="192.4" y2="291.94" stroke="#ececec" stroke-width="0.5"/><line x1="29.8" y1="278.92" x2="192.4" y2="278.92" stroke="#ececec" stroke-width="0.5"/><line x1="29.8" y1="265.9" x2="192.4" y2="265.9" stroke="#ececec" stroke-width="0.5"/><line x1="29.8" y1="252.88" x2="192.4" y2="252.88" stroke="#ececec" stroke-width="0.5"/><line x1="29.8" y1="239.86" x2="192.4" y2="239.86" stroke="#ececec" stroke-width="0.5"/><line x1="29.8" y1="226.84" x2="192.4" y2="226.84" stroke="#ececec" stroke-width="0.5"/><line x1="29.8" y1="213.82" x2="192.4" y2="213.82" stroke="#ececec" stroke-width="0.5"/><line x1="29.8" y1="200.8" x2="192.4" y2="200.8" stroke="#ececec" stroke-width="0.5"/><line x1="36.5" y1="195.8" x2="36.5" y2="336.8" stroke="#ececec" stroke-width="0.5"/><line x1="68.6" y1="195.8" x2="68.6" y2="336.8" stroke="#ececec" stroke-width="0.5"/><line x1="100.7" y1="195.8" x2="100.7" y2="336.8" stroke="#ececec" stroke-width="0.5"/><line x1="132.8" y1="195.8" x2="132.8" y2="336.8" stroke="#ececec" stroke-width="0.5"/><line x1="164.9" y1="195.8" x2="164.9" y2="336.8" stroke="#ececec" stroke-width="0.5"/><path fill="#1F74D6" d="M36.5 282.96 L37 285.82 L37.5 285.96 L38 281.31 L38.51 277.6 L39.01 278.08 L39.51 276.6 L40.01 281.78 L40.51 285.82 L41.01 279.84 L41.51 276.94 L42.02 281.61 L42.52 282.57 L43.02 281.67 L43.52 285.6 L44.02 286.38 L44.52 284.07 L45.03 290.13 L45.53 286.6 L46.03 283.58 L46.53 278.32 L47.03 282.15 L47.53 276.29 L48.03 284.79 L48.54 291.65 L49.04 288.74 L49.54 294.8 L50.04 294.41 L50.54 297.31 L51.04 299.31 L51.54 305.75 L52.05 306.05 L52.55 309.77 L53.05 310.07 L53.55 311.42 L54.05 310.46 L54.55 311.53 L55.06 312.11 L55.56 313.45 L56.06 310.38 L56.56 311.23 L57.06 312.05 L57.56 313.08 L58.06 312.27 L58.57 312.28 L59.07 314.1 L59.57 311.97 L60.07 314.49 L60.57 313.14 L61.07 312.95 L61.57 315 L62.08 312.67 L62.58 313 L63.08 314.98 L63.58 315.34 L64.08 313.85 L64.58 314.41 L65.09 315.84 L65.59 314.24 L66.09 314.83 L66.59 315.57 L67.09 313.53 L67.59 315.6 L68.09 313.57 L68.6 312.28 L69.1 310.74 L69.6 311.37 L70.1 309.6 L70.6 311.47 L71.1 310.95 L71.6 312.1 L72.11 311.83 L72.61 309.63 L73.11 311.42 L73.61 311.72 L74.11 312.41 L74.61 310.93 L75.12 304.04 L75.62 299.25 L76.12 298.53 L76.62 295.68 L77.12 299.35 L77.62 299.92 L78.12 294.93 L78.63 297.77 L79.13 295.43 L79.63 298.65 L80.13 298.63 L80.63 301.93 L81.13 302.48 L81.63 304.3 L82.14 303.09 L82.64 302.22 L83.14 305.24 L83.64 304.11 L84.14 302.88 L84.64 304.94 L85.15 306.37 L85.65 299.16 L86.15 292.32 L86.65 293.71 L87.15 295.37 L87.65 294.25 L88.15 295.91 L88.66 293.93 L89.16 294.44 L89.66 294.33 L90.16 295.77 L90.66 294.55 L91.16 289.66 L91.66 289.86 L92.17 297.98 L92.67 301.17 L93.17 298.79 L93.67 300.51 L94.17 298.84 L94.67 298.06 L95.17 299.56 L95.68 302.89 L96.18 299.19 L96.68 303.6 L97.18 302.97 L97.68 302.24 L98.18 303.97 L98.69 300.48 L99.19 299.41 L99.69 301.04 L100.19 304.11 L100.69 305.98 L101.19 303.92 L101.69 307.12 L102.2 304.7 L102.7 309.07 L103.2 309.14 L103.7 309.06 L104.2 306.96 L104.7 307.65 L105.2 307.68 L105.71 303.31 L106.21 306.89 L106.71 314.1 L107.21 315.36 L107.71 316.34 L108.21 318.53 L108.72 317.78 L109.22 316.47 L109.72 316.91 L110.22 317.06 L110.72 318.21 L111.22 316.37 L111.72 317.48 L112.23 318.74 L112.73 317.82 L113.23 318.08 L113.73 317.05 L114.23 318.27 L114.73 317.55 L115.23 316.45 L115.74 318.11 L116.24 318.52 L116.74 318.02 L117.24 317.46 L117.74 318.45 L118.24 317.33 L118.75 316.83 L119.25 318.09 L119.75 316.95 L120.25 317.36 L120.75 316.51 L121.25 315.27 L121.75 315.19 L122.26 314.6 L122.76 315.13 L123.26 311.44 L123.76 314.2 L124.26 280.9 L124.76 288.98 L125.26 285.82 L125.77 284.69 L126.27 281.03 L126.77 283.68 L127.27 283.34 L127.77 287.11 L128.27 289.1 L128.78 281.24 L129.28 287.4 L129.78 280.96 L130.28 288.58 L130.78 296.85 L131.28 302.55 L131.78 299.56 L132.29 302.3 L132.79 302.29 L133.29 303.07 L133.79 301.11 L134.29 299.59 L134.79 299.08 L135.29 301.54 L135.8 280.67 L136.3 276.24 L136.8 275.37 L137.3 278.38 L137.8 282.54 L138.3 279.02 L138.8 276.26 L139.31 275.31 L139.81 276.22 L140.31 281.88 L140.81 279.73 L141.31 281.88 L141.81 279.58 L142.32 293.92 L142.82 301.63 L143.32 300.07 L143.82 302.45 L144.32 301.76 L144.82 297.89 L145.32 298.66 L145.83 298.18 L146.33 299.22 L146.83 300.15 L147.33 302.55 L147.83 298.71 L148.33 300.65 L148.83 302.58 L149.34 304.56 L149.84 300.8 L150.34 304.41 L150.84 302.82 L151.34 302.67 L151.84 301.91 L152.35 304.63 L152.85 300.25 L153.35 304.84 L153.85 304.13 L154.35 306.82 L154.85 312.81 L155.35 318.3 L155.86 318.6 L156.36 317.36 L156.86 317.83 L157.36 317.75 L157.86 317.46 L158.36 316.92 L158.86 316.31 L159.37 318.63 L159.87 317.87 L160.37 316.39 L160.87 316.87 L161.37 316.87 L161.87 318.27 L162.38 318.85 L162.88 318.34 L163.38 317.05 L163.88 316.58 L164.38 316.62 L164.88 316.5 L165.38 318.16 L165.89 317.39 L166.39 316.13 L166.89 317.4 L167.39 315.29 L167.89 315 L168.39 315.03 L168.89 314.87 L169.4 315.95 L169.9 313.81 L170.4 315.08 L170.9 312.58 L171.4 314.76 L171.9 314.47 L172.41 313.91 L172.91 311.18 L173.41 307.03 L173.91 300.42 L174.41 297.47 L174.91 294.88 L175.41 299.1 L175.92 298.17 L176.42 296.32 L176.92 300.56 L177.42 297.41 L177.92 298.89 L178.42 296.61 L178.92 296.58 L179.43 303.56 L179.93 304.97 L180.43 304.76 L180.93 306.94 L181.43 305.39 L181.93 305.8 L182.44 307.79 L182.94 306.09 L183.44 305.43 L183.94 307.59 L184.44 307.7 L184.94 315.01 L185.44 320.56 L185.44 330.44 L184.94 330.48 L184.44 330.6 L183.94 330.66 L183.44 330.23 L182.94 330.73 L182.44 330.44 L181.93 330.56 L181.43 330.44 L180.93 330.55 L180.43 330.72 L179.93 330.27 L179.43 330.57 L178.92 330.42 L178.42 330.53 L177.92 330.66 L177.42 330.54 L176.92 330.31 L176.42 330.72 L175.92 330.28 L175.41 330.66 L174.91 330.73 L174.41 330.32 L173.91 330.46 L173.41 330.66 L172.91 330.38 L172.41 330.45 L171.9 330.32 L171.4 330.73 L170.9 330.44 L170.4 330.51 L169.9 330.61 L169.4 330.26 L168.89 330.32 L168.39 330.69 L167.89 330.72 L167.39 330.25 L166.89 330.55 L166.39 330.31 L165.89 330.34 L165.38 330.35 L164.88 330.29 L164.38 330.45 L163.88 330.42 L163.38 330.52 L162.88 330.58 L162.38 330.43 L161.87 330.55 L161.37 330.71 L160.87 330.67 L160.37 330.45 L159.87 330.65 L159.37 330.31 L158.86 330.36 L158.36 330.68 L157.86 330.37 L157.36 330.29 L156.86 330.7 L156.36 330.7 L155.86 330.47 L155.35 330.44 L154.85 330.45 L154.35 330.61 L153.85 330.69 L153.35 330.29 L152.85 330.45 L152.35 330.65 L151.84 330.53 L151.34 330.46 L150.84 330.44 L150.34 330.4 L149.84 330.51 L149.34 330.64 L148.83 330.28 L148.33 330.58 L147.83 330.49 L147.33 330.44 L146.83 330.42 L146.33 330.71 L145.83 330.42 L145.32 330.23 L144.82 330.27 L144.32 330.5 L143.82 330.7 L143.32 330.56 L142.82 330.51 L142.32 330.65 L141.81 330.31 L141.31 330.51 L140.81 330.52 L140.31 330.4 L139.81 330.52 L139.31 330.29 L138.8 330.74 L138.3 330.64 L137.8 330.72 L137.3 330.23 L136.8 330.65 L136.3 330.7 L135.8 330.58 L135.29 330.48 L134.79 330.25 L134.29 330.37 L133.79 330.41 L133.29 330.72 L132.79 330.31 L132.29 330.45 L131.78 330.57 L131.28 330.64 L130.78 330.35 L130.28 330.33 L129.78 330.26 L129.28 330.41 L128.78 330.59 L128.27 330.34 L127.77 330.67 L127.27 330.61 L126.77 330.25 L126.27 330.4 L125.77 330.74 L125.26 330.64 L124.76 330.48 L124.26 330.45 L123.76 330.37 L123.26 330.35 L122.76 330.73 L122.26 330.65 L121.75 330.5 L121.25 330.68 L120.75 330.37 L120.25 330.59 L119.75 330.63 L119.25 330.59 L118.75 330.31 L118.24 330.5 L117.74 330.39 L117.24 330.34 L116.74 330.31 L116.24 330.45 L115.74 330.28 L115.23 330.56 L114.73 330.51 L114.23 330.61 L113.73 330.39 L113.23 330.67 L112.73 330.63 L112.23 330.55 L111.72 330.61 L111.22 330.41 L110.72 330.46 L110.22 330.32 L109.72 330.72 L109.22 330.67 L108.72 330.47 L108.21 330.38 L107.71 330.5 L107.21 330.31 L106.71 330.38 L106.21 330.52 L105.71 330.69 L105.2 330.31 L104.7 330.53 L104.2 330.69 L103.7 330.26 L103.2 330.33 L102.7 330.61 L102.2 330.42 L101.69 330.72 L101.19 330.34 L100.69 330.74 L100.19 330.38 L99.69 330.61 L99.19 330.44 L98.69 330.65 L98.18 330.58 L97.68 330.54 L97.18 330.64 L96.68 330.72 L96.18 330.37 L95.68 330.26 L95.17 330.64 L94.67 330.56 L94.17 330.61 L93.67 330.4 L93.17 330.56 L92.67 330.39 L92.17 330.6 L91.66 330.29 L91.16 330.34 L90.66 330.53 L90.16 330.37 L89.66 330.62 L89.16 330.71 L88.66 330.48 L88.15 330.45 L87.65 330.39 L87.15 330.3 L86.65 330.69 L86.15 330.58 L85.65 330.4 L85.15 330.34 L84.64 330.46 L84.14 330.68 L83.64 330.63 L83.14 330.61 L82.64 330.43 L82.14 330.6 L81.63 330.67 L81.13 330.62 L80.63 330.24 L80.13 330.24 L79.63 330.36 L79.13 330.66 L78.63 330.3 L78.12 330.67 L77.62 330.6 L77.12 330.37 L76.62 330.56 L76.12 330.72 L75.62 330.59 L75.12 330.61 L74.61 330.31 L74.11 330.71 L73.61 330.54 L73.11 330.68 L72.61 330.59 L72.11 330.64 L71.6 330.65 L71.1 330.33 L70.6 330.28 L70.1 330.62 L69.6 330.54 L69.1 330.24 L68.6 330.24 L68.09 330.58 L67.59 330.27 L67.09 330.29 L66.59 330.72 L66.09 330.42 L65.59 330.24 L65.09 330.28 L64.58 330.54 L64.08 330.56 L63.58 330.27 L63.08 330.6 L62.58 330.56 L62.08 330.57 L61.57 330.73 L61.07 330.32 L60.57 330.31 L60.07 330.65 L59.57 330.68 L59.07 330.66 L58.57 330.53 L58.06 330.22 L57.56 330.4 L57.06 330.45 L56.56 330.64 L56.06 330.43 L55.56 330.58 L55.06 330.38 L54.55 330.33 L54.05 330.72 L53.55 330.22 L53.05 330.43 L52.55 330.64 L52.05 330.48 L51.54 330.59 L51.04 330.52 L50.54 330.22 L50.04 330.38 L49.54 330.68 L49.04 330.31 L48.54 330.57 L48.03 330.31 L47.53 330.56 L47.03 330.41 L46.53 330.49 L46.03 330.28 L45.53 330.45 L45.03 330.54 L44.52 330.47 L44.02 330.25 L43.52 330.43 L43.02 330.54 L42.52 330.47 L42.02 330.22 L41.51 330.34 L41.01 330.48 L40.51 330.71 L40.01 330.27 L39.51 330.63 L39.01 330.3 L38.51 330.57 L38 330.69 L37.5 330.44 L37 330.58 L36.5 330.51 Z"/><path fill="#FFA10A" d="M36.5 286.19 L37 271.54 L37.5 284.71 L38 274.77 L38.51 281.99 L39.01 289.6 L39.51 276.31 L40.01 271.26 L40.51 290.5 L41.01 277.24 L41.51 281.32 L42.02 284.61 L42.52 297.75 L43.02 292.26 L43.52 288.7 L44.02 295.44 L44.52 293.48 L45.03 301.17 L45.53 290.79 L46.03 286.33 L46.53 295.59 L47.03 291.22 L47.53 278.57 L48.03 276.25 L48.54 281.24 L49.04 304.33 L49.54 296.44 L50.04 303.02 L50.54 303.68 L51.04 310.96 L51.54 299.85 L52.05 311.97 L52.55 314.78 L53.05 310.39 L53.55 314.23 L54.05 312.05 L54.55 311.69 L55.06 310.83 L55.56 312.59 L56.06 310.3 L56.56 315.74 L57.06 317.34 L57.56 310.1 L58.06 309.73 L58.57 316.46 L59.07 313.27 L59.57 313.12 L60.07 319.13 L60.57 319.31 L61.07 317.05 L61.57 314.58 L62.08 316.05 L62.58 311.34 L63.08 310.81 L63.58 314.93 L64.08 317.75 L64.58 319.27 L65.09 313.78 L65.59 313.44 L66.09 316.29 L66.59 316.26 L67.09 315.95 L67.59 314.74 L68.09 314.57 L68.6 311.78 L69.1 309.67 L69.6 313.15 L70.1 312.51 L70.6 316.84 L71.1 313.42 L71.6 310.04 L72.11 307.53 L72.61 310.69 L73.11 318.33 L73.61 318.25 L74.11 313.62 L74.61 305.75 L75.12 311.11 L75.62 295.33 L76.12 306.07 L76.62 294.14 L77.12 289.73 L77.62 297.47 L78.12 294.11 L78.63 303.83 L79.13 307.51 L79.63 308.19 L80.13 302.76 L80.63 309.97 L81.13 306.77 L81.63 299.25 L82.14 310.9 L82.64 310.52 L83.14 311.06 L83.64 303.2 L84.14 310.41 L84.64 311.63 L85.15 312.49 L85.65 293.95 L86.15 290.36 L86.65 300.9 L87.15 296.58 L87.65 303.2 L88.15 294.03 L88.66 294.45 L89.16 302.31 L89.66 299.3 L90.16 287.6 L90.66 287.59 L91.16 300.59 L91.66 304.07 L92.17 307.21 L92.67 307.23 L93.17 309.31 L93.67 299.49 L94.17 305.84 L94.67 299.13 L95.17 294.04 L95.68 307.85 L96.18 300.07 L96.68 303.59 L97.18 305.01 L97.68 311.06 L98.18 307.12 L98.69 310.09 L99.19 309.99 L99.69 310.04 L100.19 311.53 L100.69 307.81 L101.19 310.31 L101.69 302.13 L102.2 312.77 L102.7 303.69 L103.2 312.72 L103.7 313.15 L104.2 315.76 L104.7 312.1 L105.2 312.88 L105.71 301.56 L106.21 310.69 L106.71 315.65 L107.21 314.64 L107.71 319.38 L108.21 319.8 L108.72 320.24 L109.22 320.08 L109.72 315.39 L110.22 318.6 L110.72 321.15 L111.22 320.32 L111.72 321.51 L112.23 316.7 L112.73 316.15 L113.23 317.92 L113.73 318.3 L114.23 320.74 L114.73 322.54 L115.23 316.62 L115.74 318.72 L116.24 321.28 L116.74 317.52 L117.24 317.77 L117.74 319.22 L118.24 318.05 L118.75 318.36 L119.25 320.92 L119.75 320.25 L120.25 318.22 L120.75 317.36 L121.25 319.43 L121.75 312.4 L122.26 315.96 L122.76 312.48 L123.26 318.34 L123.76 315.25 L124.26 279.97 L124.76 278.64 L125.26 292.23 L125.77 279.91 L126.27 297.48 L126.77 298.47 L127.27 280 L127.77 289.9 L128.27 291.33 L128.78 282.88 L129.28 288.93 L129.78 280.76 L130.28 284.35 L130.78 301.63 L131.28 306.53 L131.78 306.36 L132.29 309.14 L132.79 311 L133.29 300.46 L133.79 307.28 L134.29 298.29 L134.79 301.96 L135.29 309.12 L135.8 271.39 L136.3 285.54 L136.8 283.64 L137.3 275.16 L137.8 285.24 L138.3 272.47 L138.8 286.45 L139.31 269.24 L139.81 267.99 L140.31 287.62 L140.81 289.09 L141.31 276.35 L141.81 284.66 L142.32 291.3 L142.82 310.53 L143.32 304.05 L143.82 297.1 L144.32 304.05 L144.82 304.74 L145.32 303.58 L145.83 300.81 L146.33 305.67 L146.83 300.86 L147.33 299.31 L147.83 310.21 L148.33 310.79 L148.83 310.57 L149.34 300.08 L149.84 311.27 L150.34 301.08 L150.84 311.43 L151.34 306.35 L151.84 296.08 L152.35 298.6 L152.85 307.95 L153.35 312.25 L153.85 309.02 L154.35 311.97 L154.85 310.94 L155.35 319.34 L155.86 322.33 L156.36 316.5 L156.86 316.59 L157.36 321.49 L157.86 319.14 L158.36 319.69 L158.86 318.78 L159.37 317.05 L159.87 316.06 L160.37 322.33 L160.87 319.17 L161.37 318.93 L161.87 321.03 L162.38 320.91 L162.88 317.04 L163.38 319.76 L163.88 319.83 L164.38 322.3 L164.88 318.35 L165.38 316.18 L165.89 318.06 L166.39 314.88 L166.89 315.61 L167.39 316.41 L167.89 319.31 L168.39 314.16 L168.89 312.98 L169.4 320 L169.9 313.6 L170.4 316.92 L170.9 318.06 L171.4 313.59 L171.9 319.15 L172.41 319.02 L172.91 314.94 L173.41 307.8 L173.91 304.35 L174.41 293.43 L174.91 293.99 L175.41 295.04 L175.92 303.29 L176.42 303.62 L176.92 306.43 L177.42 308.48 L177.92 297.28 L178.42 298.42 L178.92 295.53 L179.43 295.92 L179.93 298.55 L180.43 310.82 L180.93 303.93 L181.43 300.95 L181.93 308.07 L182.44 306.35 L182.94 313.29 L183.44 311.08 L183.94 302.37 L184.44 304.97 L184.94 315.35 L185.44 322.64 L185.44 330.26 L184.94 330.24 L184.44 330.97 L183.94 330.82 L183.44 330.3 L182.94 330.89 L182.44 330.58 L181.93 330.33 L181.43 330.93 L180.93 330.61 L180.43 330.73 L179.93 330.59 L179.43 330.22 L178.92 330.9 L178.42 330.91 L177.92 330.66 L177.42 330.64 L176.92 330.57 L176.42 330.5 L175.92 330.97 L175.41 330.23 L174.91 330.88 L174.41 330.75 L173.91 330.88 L173.41 330.75 L172.91 330.82 L172.41 330.35 L171.9 330.46 L171.4 330.88 L170.9 330.29 L170.4 330.49 L169.9 330.26 L169.4 330.93 L168.89 330.84 L168.39 330.89 L167.89 330.84 L167.39 330.47 L166.89 330.61 L166.39 330.56 L165.89 330.86 L165.38 330.94 L164.88 330.96 L164.38 330.66 L163.88 330.31 L163.38 330.27 L162.88 330.54 L162.38 330.44 L161.87 330.38 L161.37 330.75 L160.87 330.68 L160.37 330.75 L159.87 330.57 L159.37 330.84 L158.86 330.71 L158.36 330.62 L157.86 330.71 L157.36 330.96 L156.86 330.8 L156.36 330.37 L155.86 330.76 L155.35 330.67 L154.85 330.57 L154.35 330.8 L153.85 330.8 L153.35 330.23 L152.85 330.6 L152.35 330.89 L151.84 330.36 L151.34 330.54 L150.84 330.46 L150.34 330.62 L149.84 330.47 L149.34 330.56 L148.83 330.93 L148.33 330.36 L147.83 330.83 L147.33 330.4 L146.83 330.57 L146.33 330.97 L145.83 330.42 L145.32 330.36 L144.82 330.62 L144.32 330.3 L143.82 330.68 L143.32 330.64 L142.82 330.54 L142.32 330.41 L141.81 330.61 L141.31 330.7 L140.81 330.94 L140.31 330.48 L139.81 330.44 L139.31 330.85 L138.8 330.55 L138.3 330.72 L137.8 330.49 L137.3 330.77 L136.8 330.71 L136.3 330.97 L135.8 330.52 L135.29 330.67 L134.79 330.33 L134.29 330.93 L133.79 330.81 L133.29 330.79 L132.79 330.86 L132.29 330.55 L131.78 330.99 L131.28 330.73 L130.78 330.81 L130.28 330.71 L129.78 330.88 L129.28 330.38 L128.78 330.65 L128.27 330.22 L127.77 330.93 L127.27 330.59 L126.77 330.72 L126.27 330.8 L125.77 330.9 L125.26 330.35 L124.76 330.97 L124.26 330.3 L123.76 330.5 L123.26 330.36 L122.76 330.81 L122.26 330.59 L121.75 330.59 L121.25 330.89 L120.75 330.63 L120.25 330.44 L119.75 330.29 L119.25 330.52 L118.75 330.58 L118.24 330.75 L117.74 330.52 L117.24 330.69 L116.74 330.7 L116.24 330.51 L115.74 330.22 L115.23 330.6 L114.73 330.42 L114.23 330.24 L113.73 330.57 L113.23 330.75 L112.73 330.96 L112.23 330.39 L111.72 330.91 L111.22 330.81 L110.72 330.52 L110.22 330.28 L109.72 331 L109.22 330.89 L108.72 330.7 L108.21 330.24 L107.71 330.75 L107.21 330.44 L106.71 330.23 L106.21 330.57 L105.71 330.49 L105.2 330.99 L104.7 330.57 L104.2 330.6 L103.7 330.95 L103.2 330.86 L102.7 330.43 L102.2 330.24 L101.69 330.73 L101.19 330.61 L100.69 330.91 L100.19 330.42 L99.69 330.46 L99.19 330.67 L98.69 330.62 L98.18 330.31 L97.68 330.23 L97.18 330.92 L96.68 330.82 L96.18 330.97 L95.68 330.38 L95.17 330.97 L94.67 330.31 L94.17 330.28 L93.67 330.93 L93.17 330.87 L92.67 330.43 L92.17 330.29 L91.66 330.24 L91.16 330.98 L90.66 330.22 L90.16 330.86 L89.66 330.39 L89.16 330.31 L88.66 330.31 L88.15 330.65 L87.65 330.47 L87.15 330.3 L86.65 330.74 L86.15 330.36 L85.65 330.79 L85.15 330.33 L84.64 330.56 L84.14 330.22 L83.64 330.5 L83.14 330.84 L82.64 330.66 L82.14 330.8 L81.63 330.51 L81.13 330.28 L80.63 330.56 L80.13 330.32 L79.63 330.5 L79.13 330.43 L78.63 330.29 L78.12 330.64 L77.62 330.73 L77.12 330.61 L76.62 330.81 L76.12 330.98 L75.62 330.28 L75.12 330.86 L74.61 330.71 L74.11 330.86 L73.61 330.61 L73.11 330.9 L72.61 330.93 L72.11 330.82 L71.6 330.72 L71.1 330.49 L70.6 330.99 L70.1 330.26 L69.6 330.78 L69.1 330.24 L68.6 330.76 L68.09 330.4 L67.59 330.8 L67.09 330.74 L66.59 330.49 L66.09 330.54 L65.59 330.67 L65.09 330.93 L64.58 330.89 L64.08 330.93 L63.58 330.43 L63.08 330.96 L62.58 330.56 L62.08 330.99 L61.57 330.8 L61.07 330.61 L60.57 330.51 L60.07 330.68 L59.57 330.74 L59.07 330.68 L58.57 330.41 L58.06 330.83 L57.56 330.5 L57.06 330.58 L56.56 330.89 L56.06 330.32 L55.56 330.94 L55.06 330.25 L54.55 330.85 L54.05 330.32 L53.55 330.84 L53.05 330.83 L52.55 330.79 L52.05 330.98 L51.54 330.78 L51.04 330.62 L50.54 330.32 L50.04 330.4 L49.54 330.23 L49.04 330.86 L48.54 330.54 L48.03 330.73 L47.53 330.57 L47.03 330.76 L46.53 330.95 L46.03 330.76 L45.53 330.65 L45.03 330.32 L44.52 330.89 L44.02 330.82 L43.52 330.71 L43.02 330.23 L42.52 330.74 L42.02 330.68 L41.51 330.73 L41.01 330.6 L40.51 330.4 L40.01 330.47 L39.51 330.32 L39.01 330.78 L38.51 330.5 L38 330.4 L37.5 330.4 L37 330.97 L36.5 330.25 Z"/><g fill="#1F74D6"><circle cx="131.28" cy="330.26" r="1.12"/><circle cx="101.98" cy="330.93" r="1.12"/><circle cx="144.41" cy="330.94" r="1.12"/><circle cx="106.6" cy="330.58" r="1.12"/><circle cx="136.72" cy="330.26" r="1.12"/><circle cx="72.22" cy="330.32" r="1.12"/><circle cx="139.57" cy="330.51" r="1.12"/><circle cx="57.62" cy="330.05" r="1.12"/><circle cx="125.73" cy="330.93" r="1.12"/><circle cx="72.04" cy="329.97" r="1.12"/><circle cx="70.57" cy="330.59" r="1.12"/><circle cx="153.88" cy="330.14" r="1.12"/><circle cx="130.92" cy="330.23" r="1.12"/><circle cx="42.2" cy="330.9" r="1.12"/><circle cx="181.89" cy="330.16" r="1.12"/><circle cx="42.17" cy="330.95" r="1.12"/><circle cx="72.31" cy="330.03" r="1.12"/><circle cx="69.21" cy="330.3" r="1.12"/><circle cx="175.07" cy="330.33" r="1.12"/><circle cx="173.42" cy="330.73" r="1.12"/><circle cx="59.35" cy="330.98" r="1.12"/><circle cx="149.27" cy="330.89" r="1.12"/><circle cx="181.45" cy="330.26" r="1.12"/><circle cx="64.34" cy="330.16" r="1.12"/><circle cx="60.75" cy="330.47" r="1.12"/><circle cx="52.26" cy="330.18" r="1.12"/><circle cx="169.01" cy="330.05" r="1.12"/><circle cx="36.84" cy="330.11" r="1.12"/><circle cx="119.3" cy="330.14" r="1.12"/><circle cx="111.34" cy="330.35" r="1.12"/><circle cx="125.06" cy="330.17" r="1.12"/><circle cx="48.06" cy="330.94" r="1.12"/><circle cx="117.74" cy="330.7" r="1.12"/><circle cx="95.62" cy="330.99" r="1.12"/><circle cx="147.46" cy="330.97" r="1.12"/><circle cx="160.07" cy="330.15" r="1.12"/><circle cx="104.71" cy="330.87" r="1.12"/><circle cx="133.32" cy="330.78" r="1.12"/><circle cx="100.4" cy="330.89" r="1.12"/><circle cx="181.94" cy="330.43" r="1.12"/><circle cx="89.01" cy="330.9" r="1.12"/><circle cx="145.25" cy="330.11" r="1.12"/><circle cx="162.85" cy="330.89" r="1.12"/><circle cx="91.25" cy="330.68" r="1.12"/><circle cx="150.06" cy="330.85" r="1.12"/><circle cx="126.82" cy="329.98" r="1.12"/><circle cx="151.01" cy="330.99" r="1.12"/><circle cx="47.67" cy="330.88" r="1.12"/><circle cx="139.64" cy="330.38" r="1.12"/><circle cx="113.97" cy="330.53" r="1.12"/><circle cx="97.18" cy="330.36" r="1.12"/><circle cx="133.1" cy="330.05" r="1.12"/><circle cx="145.63" cy="330.17" r="1.12"/><circle cx="172.47" cy="330.13" r="1.12"/><circle cx="143.24" cy="330.97" r="1.12"/><circle cx="137.91" cy="330.11" r="1.12"/><circle cx="100.66" cy="330.09" r="1.12"/><circle cx="63.28" cy="330.02" r="1.12"/><circle cx="102.29" cy="330.26" r="1.12"/><circle cx="74.13" cy="330.69" r="1.12"/><circle cx="88.4" cy="330.66" r="1.12"/><circle cx="50.61" cy="330.54" r="1.12"/><circle cx="182.6" cy="330.32" r="1.12"/><circle cx="175.35" cy="330.21" r="1.12"/><circle cx="161.14" cy="329.96" r="1.12"/><circle cx="148.61" cy="330.71" r="1.12"/><circle cx="73.7" cy="330.57" r="1.12"/><circle cx="39.62" cy="330.76" r="1.12"/><circle cx="168.51" cy="330.04" r="1.12"/><circle cx="85.46" cy="330.2" r="1.12"/><circle cx="151.93" cy="330.07" r="1.12"/><circle cx="154.85" cy="330.45" r="1.12"/><circle cx="52.12" cy="330.14" r="1.12"/><circle cx="83.22" cy="330.35" r="1.12"/></g><g fill="#1F74D6"><circle cx="91.18" cy="293.88" r="1.4"/><circle cx="180.33" cy="308.99" r="1.4"/><circle cx="115.58" cy="318.21" r="1.4"/><circle cx="116.69" cy="317.16" r="1.4"/><circle cx="97.2" cy="298.72" r="1.4"/><circle cx="139.24" cy="273.48" r="1.4"/><circle cx="49.85" cy="300.54" r="1.4"/><circle cx="79.3" cy="295.07" r="1.4"/><circle cx="38.53" cy="286.79" r="1.4"/><circle cx="143.12" cy="297.51" r="1.4"/><circle cx="62.76" cy="315.29" r="1.4"/><circle cx="138.81" cy="277.37" r="1.4"/><circle cx="147.62" cy="300.59" r="1.4"/><circle cx="73.51" cy="314.34" r="1.4"/><circle cx="40.62" cy="279.47" r="1.4"/><circle cx="67.66" cy="317.3" r="1.4"/><circle cx="180.13" cy="304.59" r="1.4"/><circle cx="124.55" cy="284.8" r="1.4"/><circle cx="125.55" cy="284.08" r="1.4"/><circle cx="81.76" cy="308.73" r="1.4"/><circle cx="46.47" cy="291.33" r="1.4"/><circle cx="90.34" cy="298.2" r="1.4"/><circle cx="53.31" cy="312.03" r="1.4"/><circle cx="180.91" cy="305.16" r="1.4"/><circle cx="77.23" cy="295.76" r="1.4"/><circle cx="63" cy="316.95" r="1.4"/><circle cx="81.65" cy="306.06" r="1.4"/><circle cx="139.2" cy="281.32" r="1.4"/><circle cx="144.98" cy="305.65" r="1.4"/><circle cx="175.36" cy="300.89" r="1.4"/><circle cx="160.46" cy="320.47" r="1.4"/><circle cx="159.94" cy="319.76" r="1.4"/><circle cx="163.85" cy="317.66" r="1.4"/><circle cx="136.4" cy="282.26" r="1.4"/><circle cx="37.96" cy="288.07" r="1.4"/></g><g fill="#1F74D6"><circle cx="103.47" cy="307.98" r="1.4"/><circle cx="118.65" cy="316.2" r="1.4"/><circle cx="176.74" cy="297.8" r="1.4"/><circle cx="169.15" cy="316.62" r="1.4"/><circle cx="109.24" cy="316.19" r="1.4"/><circle cx="139.12" cy="278.89" r="1.4"/><circle cx="169.14" cy="316.3" r="1.4"/><circle cx="71.34" cy="309.45" r="1.4"/><circle cx="128.58" cy="278.03" r="1.4"/><circle cx="173.65" cy="306.84" r="1.4"/><circle cx="72.97" cy="309.36" r="1.4"/><circle cx="181.87" cy="299.77" r="1.4"/><circle cx="107.95" cy="316.7" r="1.4"/><circle cx="171.76" cy="311.13" r="1.4"/><circle cx="66.15" cy="313.48" r="1.4"/><circle cx="153.66" cy="304.36" r="1.4"/><circle cx="88.51" cy="293.95" r="1.4"/><circle cx="159.89" cy="315.62" r="1.4"/><circle cx="147.46" cy="296.38" r="1.4"/><circle cx="124.43" cy="282.63" r="1.4"/><circle cx="179.63" cy="299.75" r="1.4"/><circle cx="53.75" cy="307.12" r="1.4"/><circle cx="109.87" cy="315.73" r="1.4"/><circle cx="142.31" cy="295.22" r="1.4"/><circle cx="154.71" cy="309.07" r="1.4"/><circle cx="125.1" cy="276.82" r="1.4"/><circle cx="68.32" cy="313.79" r="1.4"/><circle cx="138.22" cy="281.4" r="1.4"/><circle cx="63.92" cy="314.59" r="1.4"/><circle cx="90.47" cy="293.22" r="1.4"/><circle cx="183.74" cy="306.08" r="1.4"/><circle cx="51.53" cy="301.65" r="1.4"/><circle cx="113.04" cy="317.81" r="1.4"/><circle cx="129.44" cy="281.4" r="1.4"/><circle cx="90.39" cy="288.1" r="1.4"/><circle cx="92.48" cy="294.35" r="1.4"/><circle cx="181.9" cy="307.12" r="1.4"/><circle cx="148.37" cy="296.09" r="1.4"/><circle cx="56.9" cy="308.56" r="1.4"/><circle cx="58.03" cy="311.07" r="1.4"/><circle cx="43.45" cy="281.9" r="1.4"/><circle cx="132.05" cy="301.53" r="1.4"/><circle cx="182.19" cy="302.5" r="1.4"/><circle cx="137.26" cy="275.24" r="1.4"/><circle cx="60.61" cy="312.11" r="1.4"/><circle cx="171.86" cy="312.66" r="1.4"/><circle cx="119.72" cy="315.49" r="1.4"/><circle cx="77.52" cy="296.08" r="1.4"/><circle cx="115.34" cy="318.16" r="1.4"/><circle cx="46.91" cy="277.12" r="1.4"/><circle cx="137.49" cy="274.86" r="1.4"/><circle cx="53.07" cy="310.85" r="1.4"/><circle cx="180.57" cy="302.61" r="1.4"/><circle cx="151.87" cy="301.35" r="1.4"/><circle cx="111.29" cy="315.95" r="1.4"/><circle cx="122.56" cy="313.68" r="1.4"/><circle cx="77.28" cy="290.99" r="1.4"/><circle cx="161.38" cy="318.69" r="1.4"/><circle cx="148.82" cy="299.7" r="1.4"/><circle cx="170.37" cy="312.23" r="1.4"/><circle cx="141.37" cy="272.84" r="1.4"/><circle cx="77.47" cy="299.13" r="1.4"/><circle cx="69.84" cy="311.89" r="1.4"/><circle cx="140.68" cy="282.34" r="1.4"/><circle cx="84.93" cy="307.43" r="1.4"/><circle cx="102.88" cy="305.25" r="1.4"/><circle cx="154.68" cy="311.58" r="1.4"/><circle cx="99.64" cy="304.11" r="1.4"/><circle cx="165.73" cy="314.72" r="1.4"/><circle cx="179.69" cy="301.84" r="1.4"/><circle cx="104.12" cy="305.51" r="1.4"/><circle cx="76.06" cy="293.58" r="1.4"/><circle cx="181.42" cy="301.72" r="1.4"/><circle cx="173.52" cy="302.34" r="1.4"/><circle cx="165.12" cy="316.29" r="1.4"/><circle cx="152.3" cy="300.78" r="1.4"/><circle cx="74.03" cy="313.88" r="1.4"/><circle cx="142.28" cy="288.34" r="1.4"/><circle cx="38.42" cy="282.22" r="1.4"/><circle cx="92.94" cy="302.01" r="1.4"/><circle cx="84.66" cy="302.45" r="1.4"/><circle cx="66.27" cy="314.33" r="1.4"/></g><g fill="#FFA10A"><circle cx="134.29" cy="303.6" r="1.4"/><circle cx="63.14" cy="311.77" r="1.4"/><circle cx="46.84" cy="277.17" r="1.4"/><circle cx="105.22" cy="310.49" r="1.4"/><circle cx="50.98" cy="298.05" r="1.4"/><circle cx="122.59" cy="313.91" r="1.4"/><circle cx="135.27" cy="302.58" r="1.4"/><circle cx="166.59" cy="316.21" r="1.4"/><circle cx="50.5" cy="293.33" r="1.4"/><circle cx="110.4" cy="317.19" r="1.4"/><circle cx="106.18" cy="309.24" r="1.4"/><circle cx="111.98" cy="317.85" r="1.4"/><circle cx="96.63" cy="301.46" r="1.4"/><circle cx="72.23" cy="308.21" r="1.4"/><circle cx="59.39" cy="313.35" r="1.4"/><circle cx="95.07" cy="298.09" r="1.4"/><circle cx="142.37" cy="300.44" r="1.4"/><circle cx="125.74" cy="274.58" r="1.4"/><circle cx="87.45" cy="286.35" r="1.4"/><circle cx="97.86" cy="299.94" r="1.4"/><circle cx="59.03" cy="312.79" r="1.4"/><circle cx="66.02" cy="315.4" r="1.4"/><circle cx="136.7" cy="268.82" r="1.4"/><circle cx="153.34" cy="297.57" r="1.4"/><circle cx="74.03" cy="309.25" r="1.4"/><circle cx="65.99" cy="314.24" r="1.4"/><circle cx="159.49" cy="317.7" r="1.4"/><circle cx="133.68" cy="296.54" r="1.4"/><circle cx="37.17" cy="278.81" r="1.4"/><circle cx="52.97" cy="307.28" r="1.4"/><circle cx="126.57" cy="281.84" r="1.4"/><circle cx="128.74" cy="283.74" r="1.4"/><circle cx="76.87" cy="292.35" r="1.4"/><circle cx="134.95" cy="296.8" r="1.4"/><circle cx="127.39" cy="275.43" r="1.4"/><circle cx="110.92" cy="315.55" r="1.4"/><circle cx="60.66" cy="312.38" r="1.4"/><circle cx="62.62" cy="310.8" r="1.4"/><circle cx="157.05" cy="318.3" r="1.4"/><circle cx="169.63" cy="313.17" r="1.4"/><circle cx="171.62" cy="312.57" r="1.4"/><circle cx="138.31" cy="273.04" r="1.4"/><circle cx="148.18" cy="303.73" r="1.4"/><circle cx="79.87" cy="294.92" r="1.4"/><circle cx="142.21" cy="288.33" r="1.4"/><circle cx="154.71" cy="311.1" r="1.4"/><circle cx="113.35" cy="315.85" r="1.4"/><circle cx="146.47" cy="302.14" r="1.4"/><circle cx="44.47" cy="284.84" r="1.4"/><circle cx="180.52" cy="300.05" r="1.4"/><circle cx="82.58" cy="299.11" r="1.4"/><circle cx="84.3" cy="303.79" r="1.4"/><circle cx="75.26" cy="300.48" r="1.4"/><circle cx="180.02" cy="304.06" r="1.4"/><circle cx="131.39" cy="297.05" r="1.4"/><circle cx="59.15" cy="310.59" r="1.4"/><circle cx="75.18" cy="298.13" r="1.4"/><circle cx="159.62" cy="317.07" r="1.4"/><circle cx="176.5" cy="298.39" r="1.4"/><circle cx="147.08" cy="300.72" r="1.4"/><circle cx="156.51" cy="317.92" r="1.4"/><circle cx="166.32" cy="316.19" r="1.4"/><circle cx="136.2" cy="265.86" r="1.4"/><circle cx="86.95" cy="295.07" r="1.4"/><circle cx="133.14" cy="296.15" r="1.4"/><circle cx="159.27" cy="318.22" r="1.4"/><circle cx="181.69" cy="301.3" r="1.4"/><circle cx="57.17" cy="312.5" r="1.4"/><circle cx="42.4" cy="273.72" r="1.4"/><circle cx="69.93" cy="308.62" r="1.4"/><circle cx="85.81" cy="291.97" r="1.4"/><circle cx="156.96" cy="317.18" r="1.4"/><circle cx="152.39" cy="304.65" r="1.4"/><circle cx="144.41" cy="297.87" r="1.4"/><circle cx="112.77" cy="316.98" r="1.4"/><circle cx="47.13" cy="277.51" r="1.4"/><circle cx="104.22" cy="307.96" r="1.4"/><circle cx="96.51" cy="300.7" r="1.4"/><circle cx="146.12" cy="298.92" r="1.4"/><circle cx="65.95" cy="313.04" r="1.4"/><circle cx="45.84" cy="285.29" r="1.4"/><circle cx="75.79" cy="295.65" r="1.4"/><circle cx="130.67" cy="288.09" r="1.4"/><circle cx="43.09" cy="284.51" r="1.4"/><circle cx="170.4" cy="311.9" r="1.4"/><circle cx="51.71" cy="306.15" r="1.4"/><circle cx="172.3" cy="310.49" r="1.4"/><circle cx="158.92" cy="318.78" r="1.4"/><circle cx="120.42" cy="315.44" r="1.4"/><circle cx="101.55" cy="302.67" r="1.4"/><circle cx="157.42" cy="316" r="1.4"/><circle cx="153.58" cy="301.14" r="1.4"/><circle cx="168.91" cy="314.32" r="1.4"/><circle cx="108.67" cy="316.78" r="1.4"/><circle cx="72.75" cy="308.26" r="1.4"/><circle cx="51.99" cy="303.68" r="1.4"/></g><g fill="#1F74D6"><circle cx="41.33" cy="199.76" r="1.4"/><circle cx="40.95" cy="199.76" r="1.4"/></g><g fill="#1F74D6"><circle cx="41.2" cy="206.79" r="1.4"/><circle cx="41.17" cy="206.79" r="1.4"/></g><g fill="#FFA10A"><circle cx="41.21" cy="212" r="1.4"/><circle cx="40.96" cy="209.39" r="1.4"/></g><g fill="#1F74D6"><circle cx="40.94" cy="216.42" r="1.4"/><circle cx="40.92" cy="216.42" r="1.4"/></g><g fill="#FFA10A"><circle cx="41.37" cy="217.99" r="1.4"/><circle cx="41.06" cy="217.99" r="1.4"/></g><g fill="#1F74D6"><circle cx="41.2" cy="229.44" r="1.4"/><circle cx="41.16" cy="229.44" r="1.4"/></g><g fill="#FFA10A"><circle cx="40.98" cy="237" r="1.4"/><circle cx="40.9" cy="237" r="1.4"/></g><g fill="#1F74D6"><circle cx="40.87" cy="245.85" r="1.4"/><circle cx="41.3" cy="244.16" r="1.4"/><circle cx="40.93" cy="242.46" r="1.4"/></g><g fill="#1F74D6"><circle cx="41.36" cy="254.44" r="1.4"/><circle cx="41.05" cy="254.44" r="1.4"/></g><g fill="#1F74D6"><circle cx="41.24" cy="258.87" r="1.4"/><circle cx="40.94" cy="258.87" r="1.4"/></g><g fill="#FFA10A"><circle cx="41.27" cy="263.04" r="1.4"/><circle cx="40.99" cy="261.34" r="1.4"/><circle cx="41.05" cy="259.65" r="1.4"/></g><g fill="#FFA10A"><circle cx="41.13" cy="275.27" r="1.4"/><circle cx="40.92" cy="273.32" r="1.4"/><circle cx="40.99" cy="271.37" r="1.4"/><circle cx="41.27" cy="269.42" r="1.4"/><circle cx="41.01" cy="267.46" r="1.4"/></g><g fill="#1F74D6"><circle cx="41.06" cy="268.5" r="1.4"/><circle cx="41.26" cy="268.5" r="1.4"/></g><g fill="#FFA10A"><circle cx="45.99" cy="262.25" r="1.4"/><circle cx="45.97" cy="262.25" r="1.4"/></g><g fill="#1F74D6"><circle cx="45.99" cy="270.07" r="1.4"/><circle cx="46.07" cy="268.37" r="1.4"/><circle cx="46.06" cy="266.68" r="1.4"/></g><g fill="#FFA10A"><circle cx="46.2" cy="280.48" r="1.4"/><circle cx="46.12" cy="278.75" r="1.4"/><circle cx="46.32" cy="277.01" r="1.4"/><circle cx="45.9" cy="275.27" r="1.4"/></g><g fill="#1F74D6"><circle cx="87.17" cy="232.83" r="1.4"/><circle cx="87.26" cy="232.83" r="1.4"/></g><g fill="#1F74D6"><circle cx="86.95" cy="238.56" r="1.4"/><circle cx="86.85" cy="238.56" r="1.4"/></g><g fill="#FFA10A"><circle cx="87.06" cy="246.11" r="1.4"/><circle cx="86.89" cy="244.03" r="1.4"/><circle cx="87.07" cy="241.94" r="1.4"/></g><g fill="#1F74D6"><circle cx="87.2" cy="252.88" r="1.4"/><circle cx="86.88" cy="252.88" r="1.4"/></g><g fill="#FFA10A"><circle cx="86.89" cy="266.16" r="1.4"/><circle cx="87.08" cy="266.16" r="1.4"/></g><g fill="#1F74D6"><circle cx="86.92" cy="271.89" r="1.4"/><circle cx="86.95" cy="270.07" r="1.4"/></g><g fill="#1F74D6"><circle cx="87.06" cy="277.62" r="1.4"/><circle cx="86.89" cy="277.62" r="1.4"/></g><g fill="#FFA10A"><circle cx="86.87" cy="279.18" r="1.4"/><circle cx="87.02" cy="279.18" r="1.4"/></g><g fill="#1F74D6"><circle cx="87.07" cy="281.78" r="1.4"/><circle cx="87.31" cy="281.78" r="1.4"/></g><g fill="#1F74D6"><circle cx="95.34" cy="217.47" r="1.4"/><circle cx="95.09" cy="217.47" r="1.4"/></g><g fill="#1F74D6"><circle cx="95.16" cy="222.93" r="1.4"/><circle cx="95.43" cy="222.93" r="1.4"/></g><g fill="#1F74D6"><circle cx="95.34" cy="228.66" r="1.4"/><circle cx="95.5" cy="228.66" r="1.4"/></g><g fill="#FFA10A"><circle cx="95.54" cy="247.67" r="1.4"/><circle cx="95.49" cy="245.94" r="1.4"/><circle cx="95.11" cy="244.2" r="1.4"/><circle cx="95.54" cy="242.46" r="1.4"/><circle cx="95.32" cy="240.73" r="1.4"/><circle cx="95.17" cy="238.99" r="1.4"/><circle cx="95.14" cy="237.26" r="1.4"/><circle cx="95.49" cy="235.52" r="1.4"/><circle cx="95.16" cy="233.78" r="1.4"/><circle cx="95.09" cy="232.05" r="1.4"/></g><g fill="#1F74D6"><circle cx="95.19" cy="235.43" r="1.4"/><circle cx="95.53" cy="235.43" r="1.4"/></g><g fill="#1F74D6"><circle cx="95.29" cy="242.46" r="1.4"/><circle cx="95.43" cy="242.46" r="1.4"/></g><g fill="#1F74D6"><circle cx="95.09" cy="251.84" r="1.4"/><circle cx="95.28" cy="251.84" r="1.4"/></g><g fill="#FFA10A"><circle cx="95.21" cy="277.62" r="1.4"/><circle cx="95.16" cy="275.96" r="1.4"/><circle cx="95.39" cy="274.29" r="1.4"/><circle cx="95.24" cy="272.63" r="1.4"/><circle cx="95.11" cy="270.97" r="1.4"/><circle cx="95.56" cy="269.31" r="1.4"/><circle cx="95.3" cy="267.64" r="1.4"/><circle cx="95.14" cy="265.98" r="1.4"/><circle cx="95.06" cy="264.32" r="1.4"/><circle cx="95.39" cy="262.66" r="1.4"/><circle cx="95.31" cy="260.99" r="1.4"/><circle cx="95.06" cy="259.33" r="1.4"/><circle cx="95.29" cy="257.67" r="1.4"/><circle cx="95.43" cy="256" r="1.4"/></g><g fill="#1F74D6"><circle cx="95.33" cy="259.39" r="1.4"/><circle cx="95.17" cy="259.39" r="1.4"/></g><g fill="#1F74D6"><circle cx="95.31" cy="280.22" r="1.4"/><circle cx="95.36" cy="280.22" r="1.4"/></g><g fill="#1F74D6"><circle cx="126.46" cy="278.92" r="1.4"/><circle cx="126.2" cy="277.19" r="1.4"/><circle cx="126.54" cy="275.47" r="1.4"/><circle cx="126.61" cy="273.74" r="1.4"/><circle cx="126.5" cy="272.02" r="1.4"/><circle cx="126.56" cy="270.29" r="1.4"/><circle cx="126.31" cy="268.57" r="1.4"/><circle cx="126.59" cy="266.84" r="1.4"/><circle cx="126.22" cy="265.12" r="1.4"/></g><g fill="#FFA10A"><circle cx="126.24" cy="281.52" r="1.4"/><circle cx="126.43" cy="279.9" r="1.4"/><circle cx="126.59" cy="278.27" r="1.4"/><circle cx="126.17" cy="276.64" r="1.4"/><circle cx="126.23" cy="275.01" r="1.4"/></g><g fill="#1F74D6"><circle cx="138.34" cy="278.92" r="1.4"/><circle cx="138.55" cy="277.19" r="1.4"/><circle cx="138.39" cy="275.47" r="1.4"/><circle cx="138.42" cy="273.74" r="1.4"/><circle cx="138.71" cy="272.02" r="1.4"/><circle cx="138.62" cy="270.29" r="1.4"/><circle cx="138.8" cy="268.57" r="1.4"/><circle cx="138.53" cy="266.84" r="1.4"/><circle cx="138.67" cy="265.12" r="1.4"/></g><g fill="#FFA10A"><circle cx="138.33" cy="280.22" r="1.4"/><circle cx="138.81" cy="278.59" r="1.4"/><circle cx="138.44" cy="276.97" r="1.4"/><circle cx="138.57" cy="275.34" r="1.4"/><circle cx="138.58" cy="273.71" r="1.4"/></g><g fill="#1F74D6"><circle cx="177.97" cy="291.94" r="1.4"/><circle cx="177.74" cy="289.99" r="1.4"/><circle cx="177.99" cy="288.03" r="1.4"/><circle cx="177.8" cy="286.08" r="1.4"/><circle cx="177.59" cy="284.13" r="1.4"/></g><g fill="#FFA10A"><circle cx="177.91" cy="289.34" r="1.4"/><circle cx="177.59" cy="289.34" r="1.4"/></g><g fill="#1F74D6"><circle cx="77.97" cy="264.34" r="1.4"/><circle cx="55.76" cy="294.54" r="1.4"/><circle cx="55.12" cy="290.64" r="1.4"/><circle cx="65.39" cy="299.75" r="1.4"/><circle cx="68.6" cy="302.36" r="1.4"/><circle cx="76.3" cy="281.52" r="1.4"/><circle cx="49.34" cy="272.41" r="1.4"/><circle cx="48.06" cy="281.52" r="1.4"/><circle cx="103.91" cy="297.15" r="1.4"/><circle cx="106.48" cy="302.36" r="1.4"/><circle cx="119.96" cy="310.17" r="1.4"/><circle cx="152.06" cy="294.54" r="1.4"/><circle cx="180.95" cy="294.54" r="1.4"/></g><g fill="#FFA10A"><circle cx="77.97" cy="283.35" r="1.4"/><circle cx="46.13" cy="268.5" r="1.4"/><circle cx="47.41" cy="276.32" r="1.4"/></g><line x1="29.8" y1="195.8" x2="29.8" y2="337.25" stroke="#3a3a3a" stroke-width="0.9"/><line x1="29.35" y1="336.8" x2="192.4" y2="336.8" stroke="#3a3a3a" stroke-width="0.9"/><line x1="29.8" y1="331" x2="28.6" y2="331" stroke="#3a3a3a" stroke-width="0.5"/><text transform="translate(27.6 332.98) scale(1 1.15)" font-size="5.5" text-anchor="end" fill="#5a5a5a" font-family="Liberation Sans, sans-serif" >0</text><line x1="29.8" y1="317.98" x2="28.6" y2="317.98" stroke="#3a3a3a" stroke-width="0.5"/><text transform="translate(27.6 319.96) scale(1 1.15)" font-size="5.5" text-anchor="end" fill="#5a5a5a" font-family="Liberation Sans, sans-serif" >50</text><line x1="29.8" y1="304.96" x2="28.6" y2="304.96" stroke="#3a3a3a" stroke-width="0.5"/><text transform="translate(27.6 306.94) scale(1 1.15)" font-size="5.5" text-anchor="end" fill="#5a5a5a" font-family="Liberation Sans, sans-serif" >100</text><line x1="29.8" y1="291.94" x2="28.6" y2="291.94" stroke="#3a3a3a" stroke-width="0.5"/><text transform="translate(27.6 293.92) scale(1 1.15)" font-size="5.5" text-anchor="end" fill="#5a5a5a" font-family="Liberation Sans, sans-serif" >150</text><line x1="29.8" y1="278.92" x2="28.6" y2="278.92" stroke="#3a3a3a" stroke-width="0.5"/><text transform="translate(27.6 280.9) scale(1 1.15)" font-size="5.5" text-anchor="end" fill="#5a5a5a" font-family="Liberation Sans, sans-serif" >200</text><line x1="29.8" y1="265.9" x2="28.6" y2="265.9" stroke="#3a3a3a" stroke-width="0.5"/><text transform="translate(27.6 267.88) scale(1 1.15)" font-size="5.5" text-anchor="end" fill="#5a5a5a" font-family="Liberation Sans, sans-serif" >250</text><line x1="29.8" y1="252.88" x2="28.6" y2="252.88" stroke="#3a3a3a" stroke-width="0.5"/><text transform="translate(27.6 254.86) scale(1 1.15)" font-size="5.5" text-anchor="end" fill="#5a5a5a" font-family="Liberation Sans, sans-serif" >300</text><line x1="29.8" y1="239.86" x2="28.6" y2="239.86" stroke="#3a3a3a" stroke-width="0.5"/><text transform="translate(27.6 241.84) scale(1 1.15)" font-size="5.5" text-anchor="end" fill="#5a5a5a" font-family="Liberation Sans, sans-serif" >350</text><line x1="29.8" y1="226.84" x2="28.6" y2="226.84" stroke="#3a3a3a" stroke-width="0.5"/><text transform="translate(27.6 228.82) scale(1 1.15)" font-size="5.5" text-anchor="end" fill="#5a5a5a" font-family="Liberation Sans, sans-serif" >400</text><line x1="29.8" y1="213.82" x2="28.6" y2="213.82" stroke="#3a3a3a" stroke-width="0.5"/><text transform="translate(27.6 215.8) scale(1 1.15)" font-size="5.5" text-anchor="end" fill="#5a5a5a" font-family="Liberation Sans, sans-serif" >450</text><line x1="29.8" y1="200.8" x2="28.6" y2="200.8" stroke="#3a3a3a" stroke-width="0.5"/><text transform="translate(27.6 202.78) scale(1 1.15)" font-size="5.5" text-anchor="end" fill="#5a5a5a" font-family="Liberation Sans, sans-serif" >500</text><line x1="36.5" y1="336.8" x2="36.5" y2="338" stroke="#3a3a3a" stroke-width="0.5"/><text transform="translate(36.5 345) scale(1 1.15)" font-size="5.5" text-anchor="middle" fill="#5a5a5a" font-family="Liberation Sans, sans-serif" >0.0</text><line x1="68.6" y1="336.8" x2="68.6" y2="338" stroke="#3a3a3a" stroke-width="0.5"/><text transform="translate(68.6 345) scale(1 1.15)" font-size="5.5" text-anchor="middle" fill="#5a5a5a" font-family="Liberation Sans, sans-serif" >0.5</text><line x1="100.7" y1="336.8" x2="100.7" y2="338" stroke="#3a3a3a" stroke-width="0.5"/><text transform="translate(100.7 345) scale(1 1.15)" font-size="5.5" text-anchor="middle" fill="#5a5a5a" font-family="Liberation Sans, sans-serif" >1.0</text><line x1="132.8" y1="336.8" x2="132.8" y2="338" stroke="#3a3a3a" stroke-width="0.5"/><text transform="translate(132.8 345) scale(1 1.15)" font-size="5.5" text-anchor="middle" fill="#5a5a5a" font-family="Liberation Sans, sans-serif" >1.5</text><line x1="164.9" y1="336.8" x2="164.9" y2="338" stroke="#3a3a3a" stroke-width="0.5"/><text transform="translate(164.9 345) scale(1 1.15)" font-size="5.5" text-anchor="middle" fill="#5a5a5a" font-family="Liberation Sans, sans-serif" >2.0</text><text x="102" y="191.3" font-size="7.75" text-anchor="middle" font-weight="bold" fill="#1a1a1a" font-family="Liberation Sans, sans-serif" >Predictions: model KNNR</text><text transform="translate(110.5 352) scale(1 1.15)" font-size="6.6" text-anchor="middle" fill="#222" font-family="Liberation Sans, sans-serif" >Record number</text><text x="0" y="0" font-size="6.6" text-anchor="middle" fill="#222" font-family="Liberation Sans, sans-serif" transform="translate(14.3 262.8) rotate(-90) scale(1 1.15)">Response PM10</text><text transform="translate(177.7 352.3) scale(1 1.15)" font-size="5.6" text-anchor="start" fill="#5a5a5a" font-family="Liberation Serif, serif" >x 10</text><text transform="translate(188.34 349.5) scale(1 1.15)" font-size="3.92" text-anchor="start" fill="#5a5a5a" font-family="Liberation Serif, serif" >4</text><rect x="132.4" y="214.8" width="48.6" height="20.6" fill="#ffffff" stroke="#111" stroke-width="1.1"/><g fill="#1F74D6"><circle cx="140.9" cy="221.3" r="1.4"/></g><g fill="#FFA10A"><circle cx="140.9" cy="228.5" r="1.4"/></g><text transform="translate(146 223.46) scale(1 1.15)" font-size="6" text-anchor="start" fill="#222" font-family="Liberation Serif, serif" >True</text><text transform="translate(146 230.66) scale(1 1.15)" font-size="6" text-anchor="start" fill="#222" font-family="Liberation Serif, serif" >Predicted</text><text x="101" y="364.8" font-size="7.4" text-anchor="middle" fill="#222" font-family="Liberation Serif, serif">(<tspan font-weight="bold">c</tspan>)</text><rect x="5.4" y="367.7" width="191.9" height="167.9" fill="#f0f0f0"/><rect x="27.7" y="378.9" width="161.6" height="138.3" fill="#ffffff"/><line x1="27.7" y1="511.2" x2="189.3" y2="511.2" stroke="#e6e6e6" stroke-width="0.5"/><line x1="27.7" y1="488.7" x2="189.3" y2="488.7" stroke="#e6e6e6" stroke-width="0.5"/><line x1="27.7" y1="466.2" x2="189.3" y2="466.2" stroke="#e6e6e6" stroke-width="0.5"/><line x1="27.7" y1="443.7" x2="189.3" y2="443.7" stroke="#e6e6e6" stroke-width="0.5"/><line x1="27.7" y1="421.2" x2="189.3" y2="421.2" stroke="#e6e6e6" stroke-width="0.5"/><line x1="27.7" y1="398.7" x2="189.3" y2="398.7" stroke="#e6e6e6" stroke-width="0.5"/><line x1="34.9" y1="378.9" x2="34.9" y2="517.2" stroke="#e6e6e6" stroke-width="0.5"/><line x1="66.4" y1="378.9" x2="66.4" y2="517.2" stroke="#e6e6e6" stroke-width="0.5"/><line x1="97.9" y1="378.9" x2="97.9" y2="517.2" stroke="#e6e6e6" stroke-width="0.5"/><line x1="129.4" y1="378.9" x2="129.4" y2="517.2" stroke="#e6e6e6" stroke-width="0.5"/><line x1="160.9" y1="378.9" x2="160.9" y2="517.2" stroke="#e6e6e6" stroke-width="0.5"/><path fill="#0072BD" d="M34.9 474.87 L35.4 477.15 L35.9 473.45 L36.4 470.27 L36.9 470.81 L37.4 469.21 L37.9 470.42 L38.4 467.68 L38.9 464.46 L39.4 468.19 L39.9 468.04 L40.4 468.95 L40.9 466.86 L41.4 465.07 L41.9 471.9 L42.4 468.46 L42.9 469.57 L43.4 466.93 L43.9 463.85 L44.4 463.72 L44.9 472.86 L45.4 473.57 L45.9 473.22 L46.4 469.09 L46.9 474.78 L47.4 474.75 L47.9 479.23 L48.4 485.4 L48.9 485.43 L49.4 487.92 L49.91 489.35 L50.41 493.24 L50.91 491.66 L51.41 491.57 L51.91 493.64 L52.41 492.94 L52.91 494.91 L53.41 493.32 L53.91 493.53 L54.41 496.11 L54.91 494.27 L55.41 494.74 L55.91 494.15 L56.41 496.74 L56.91 494.95 L57.41 496.92 L57.91 495.91 L58.41 496.75 L58.91 496.12 L59.41 496.6 L59.91 495.24 L60.41 495.57 L60.91 494.5 L61.41 495.8 L61.91 493.13 L62.41 495.27 L62.91 495.21 L63.41 495.27 L63.91 494.87 L64.41 496.03 L64.91 495.02 L65.41 495.62 L65.91 495.41 L66.41 496.38 L66.91 495.49 L67.41 493.16 L67.91 492.42 L68.41 492.92 L68.91 495.14 L69.41 492.79 L69.91 495.25 L70.41 495.05 L70.91 495.78 L71.41 495.05 L71.91 486.88 L72.41 485.72 L72.91 477.57 L73.41 481.88 L73.91 482.3 L74.41 481.67 L74.91 484.54 L75.41 484.21 L75.91 482.01 L76.41 485.72 L76.91 484.96 L77.41 487.05 L77.91 485.3 L78.41 489.87 L78.91 487.2 L79.42 487.47 L79.92 487.48 L80.42 490.99 L80.92 490.9 L81.42 488.61 L81.92 487.66 L82.42 480.65 L82.92 480.68 L83.42 477.68 L83.92 477.33 L84.42 479.87 L84.92 478.01 L85.42 481.4 L85.92 480.12 L86.42 477.29 L86.92 477.46 L87.42 480.23 L87.92 477.14 L88.42 480.55 L88.92 476.6 L89.42 477.17 L89.92 476.86 L90.42 480.22 L90.92 482.11 L91.42 482.07 L91.92 479.51 L92.42 477.02 L92.92 480.23 L93.42 482.6 L93.92 480.24 L94.42 479.22 L94.92 479.06 L95.42 483.62 L95.92 481.26 L96.42 480.33 L96.92 483.24 L97.42 482.23 L97.92 485.4 L98.42 483.79 L98.92 486.67 L99.42 488.51 L99.92 490.13 L100.42 487.94 L100.92 492.37 L101.42 491.23 L101.92 494.16 L102.42 492.49 L102.92 495.96 L103.42 496.96 L103.92 498.12 L104.42 496.8 L104.92 498.66 L105.42 498.6 L105.92 496.92 L106.42 498.75 L106.92 498.18 L107.42 499.05 L107.92 496.97 L108.42 498.88 L108.93 497.38 L109.43 498.53 L109.93 498.29 L110.43 498.63 L110.93 497.96 L111.43 499.3 L111.93 499.52 L112.43 498.94 L112.93 499.15 L113.43 497.33 L113.93 497.67 L114.43 499.35 L114.93 498.94 L115.43 498.75 L115.93 497.36 L116.43 499.22 L116.93 497.32 L117.43 496.02 L117.93 495.94 L118.43 497.26 L118.93 496.62 L119.43 496.27 L119.93 496.41 L120.43 495.51 L120.93 493.63 L121.43 495.4 L121.93 485.17 L122.43 465.33 L122.93 464.24 L123.43 465.36 L123.93 463.35 L124.43 465.82 L124.93 462.89 L125.43 462.35 L125.93 461.7 L126.43 460.81 L126.93 462.99 L127.43 468.76 L127.93 476.16 L128.43 483.45 L128.93 480.86 L129.43 484.18 L129.93 483.98 L130.43 483.52 L130.93 480.78 L131.43 485.02 L131.93 481.1 L132.43 482.73 L132.93 480.74 L133.43 483.62 L133.93 480.2 L134.43 480.17 L134.93 465.24 L135.43 462.96 L135.93 463.13 L136.43 464.1 L136.93 465.38 L137.43 463.3 L137.93 466.49 L138.43 461.15 L138.94 469.29 L139.44 470.41 L139.94 467 L140.44 476.38 L140.94 484.54 L141.44 483.17 L141.94 486.28 L142.44 483.22 L142.94 482.85 L143.44 485.31 L143.94 483.89 L144.44 486.65 L144.94 486.03 L145.44 486.84 L145.94 485.24 L146.44 487.17 L146.94 482.72 L147.44 483.86 L147.94 483.32 L148.44 484.17 L148.94 486.3 L149.44 487.15 L149.94 485.68 L150.44 486.17 L150.94 492.67 L151.44 497.21 L151.94 497.12 L152.44 497.68 L152.94 498.13 L153.44 497.69 L153.94 497.56 L154.44 498.81 L154.94 496.89 L155.44 498.18 L155.94 497.43 L156.44 497.2 L156.94 498.28 L157.44 496.88 L157.94 496.9 L158.44 498.09 L158.94 496.33 L159.44 496.28 L159.94 498.59 L160.44 496.67 L160.94 498.42 L161.44 496.83 L161.94 497.43 L162.44 497.46 L162.94 497.47 L163.44 495.89 L163.94 497.02 L164.44 497.03 L164.94 496.09 L165.44 496.27 L165.94 495.22 L166.44 494.83 L166.94 494.64 L167.44 493.99 L167.94 495.19 L168.45 493.12 L168.95 493.92 L169.45 493.6 L169.95 490.12 L170.45 487.6 L170.95 480.27 L171.45 478.42 L171.95 481.75 L172.45 478.5 L172.95 481.74 L173.45 481.24 L173.95 480.4 L174.45 484.16 L174.95 480.23 L175.45 482.13 L175.95 484.82 L176.45 484.94 L176.95 487.31 L177.45 483.5 L177.95 487.95 L178.45 485.49 L178.95 486 L179.45 485.98 L179.95 482.82 L180.45 485.13 L180.95 485.51 L181.45 483.28 L181.95 485.42 L182.45 488.81 L182.95 501.68 L182.95 510.96 L182.45 510.68 L181.95 510.91 L181.45 510.97 L180.95 510.81 L180.45 510.94 L179.95 510.8 L179.45 510.85 L178.95 510.68 L178.45 510.86 L177.95 510.94 L177.45 510.73 L176.95 511.04 L176.45 510.91 L175.95 510.66 L175.45 510.78 L174.95 510.73 L174.45 510.92 L173.95 510.66 L173.45 510.79 L172.95 510.95 L172.45 510.91 L171.95 510.8 L171.45 510.76 L170.95 511.08 L170.45 510.7 L169.95 510.91 L169.45 510.93 L168.95 510.93 L168.45 510.65 L167.94 511.05 L167.44 511.02 L166.94 511 L166.44 510.66 L165.94 510.65 L165.44 510.87 L164.94 510.86 L164.44 511 L163.94 510.99 L163.44 510.95 L162.94 510.9 L162.44 511 L161.94 510.74 L161.44 510.64 L160.94 510.88 L160.44 510.78 L159.94 511.06 L159.44 510.89 L158.94 511.06 L158.44 510.71 L157.94 510.77 L157.44 510.75 L156.94 510.82 L156.44 510.68 L155.94 511.01 L155.44 510.97 L154.94 510.75 L154.44 510.93 L153.94 511.05 L153.44 510.86 L152.94 510.96 L152.44 510.82 L151.94 510.73 L151.44 511.02 L150.94 510.67 L150.44 510.66 L149.94 510.68 L149.44 511.08 L148.94 510.67 L148.44 510.7 L147.94 510.84 L147.44 511 L146.94 510.84 L146.44 510.66 L145.94 510.79 L145.44 510.84 L144.94 510.76 L144.44 510.95 L143.94 510.67 L143.44 510.92 L142.94 510.64 L142.44 510.99 L141.94 510.75 L141.44 510.93 L140.94 510.72 L140.44 511.05 L139.94 510.76 L139.44 510.82 L138.94 510.68 L138.43 510.77 L137.93 510.92 L137.43 510.99 L136.93 510.69 L136.43 510.87 L135.93 510.71 L135.43 511.04 L134.93 510.69 L134.43 510.76 L133.93 510.88 L133.43 510.8 L132.93 510.66 L132.43 510.91 L131.93 511 L131.43 511.06 L130.93 510.99 L130.43 511.08 L129.93 511.04 L129.43 510.93 L128.93 510.7 L128.43 510.74 L127.93 510.88 L127.43 510.7 L126.93 510.79 L126.43 510.75 L125.93 511.02 L125.43 510.71 L124.93 510.93 L124.43 510.94 L123.93 511.03 L123.43 510.92 L122.93 510.97 L122.43 510.75 L121.93 510.64 L121.43 510.67 L120.93 510.75 L120.43 510.8 L119.93 510.68 L119.43 511.04 L118.93 510.93 L118.43 510.92 L117.93 510.72 L117.43 510.94 L116.93 510.68 L116.43 510.74 L115.93 510.83 L115.43 510.72 L114.93 511 L114.43 510.75 L113.93 510.94 L113.43 511.02 L112.93 510.88 L112.43 510.98 L111.93 510.72 L111.43 510.66 L110.93 511.03 L110.43 510.77 L109.93 510.96 L109.43 510.66 L108.93 510.68 L108.42 510.75 L107.92 511.03 L107.42 510.98 L106.92 510.94 L106.42 510.74 L105.92 511.01 L105.42 510.85 L104.92 511.06 L104.42 511.03 L103.92 510.96 L103.42 510.65 L102.92 510.91 L102.42 510.89 L101.92 510.75 L101.42 510.95 L100.92 510.88 L100.42 510.68 L99.92 511.07 L99.42 510.8 L98.92 511.04 L98.42 510.67 L97.92 510.89 L97.42 510.74 L96.92 510.87 L96.42 510.99 L95.92 510.97 L95.42 510.91 L94.92 511.04 L94.42 510.85 L93.92 510.92 L93.42 510.86 L92.92 511 L92.42 510.69 L91.92 511.02 L91.42 511.07 L90.92 510.81 L90.42 510.76 L89.92 510.95 L89.42 510.66 L88.92 510.72 L88.42 510.99 L87.92 510.97 L87.42 510.95 L86.92 510.68 L86.42 510.78 L85.92 510.96 L85.42 510.76 L84.92 510.76 L84.42 510.9 L83.92 510.98 L83.42 511.04 L82.92 511 L82.42 510.83 L81.92 511.05 L81.42 510.73 L80.92 510.77 L80.42 510.82 L79.92 510.73 L79.42 510.98 L78.91 510.91 L78.41 511.02 L77.91 510.84 L77.41 511 L76.91 510.93 L76.41 510.73 L75.91 510.77 L75.41 511.05 L74.91 511.05 L74.41 510.97 L73.91 510.9 L73.41 510.85 L72.91 511.02 L72.41 510.67 L71.91 511.08 L71.41 510.77 L70.91 510.98 L70.41 510.77 L69.91 511.09 L69.41 510.96 L68.91 510.85 L68.41 511 L67.91 510.69 L67.41 510.82 L66.91 510.97 L66.41 510.74 L65.91 510.65 L65.41 510.8 L64.91 510.71 L64.41 510.65 L63.91 511.02 L63.41 511.08 L62.91 511.01 L62.41 510.77 L61.91 510.83 L61.41 510.83 L60.91 510.9 L60.41 511.03 L59.91 510.97 L59.41 510.99 L58.91 510.74 L58.41 510.93 L57.91 510.98 L57.41 510.65 L56.91 510.99 L56.41 510.89 L55.91 510.73 L55.41 511.01 L54.91 510.77 L54.41 510.87 L53.91 510.73 L53.41 510.88 L52.91 510.75 L52.41 510.78 L51.91 510.92 L51.41 510.97 L50.91 511.01 L50.41 510.68 L49.91 511 L49.4 510.68 L48.9 510.82 L48.4 510.98 L47.9 510.86 L47.4 510.72 L46.9 510.85 L46.4 510.7 L45.9 510.96 L45.4 511.08 L44.9 510.68 L44.4 510.9 L43.9 510.97 L43.4 510.7 L42.9 510.69 L42.4 510.88 L41.9 511.01 L41.4 511.06 L40.9 510.83 L40.4 511.03 L39.9 510.66 L39.4 510.98 L38.9 510.77 L38.4 510.88 L37.9 510.81 L37.4 510.71 L36.9 510.92 L36.4 510.79 L35.9 510.9 L35.4 510.65 L34.9 510.88 Z"/><path fill="#EDB120" d="M34.9 483.23 L35.4 483.55 L35.9 483.5 L36.4 480.59 L36.9 476.98 L37.4 478.53 L37.9 462.62 L38.4 457.74 L38.9 466.45 L39.4 476.88 L39.9 468.67 L40.4 462.16 L40.9 472.27 L41.4 462.31 L41.9 469.95 L42.4 481.19 L42.9 479.27 L43.4 466.07 L43.9 478.86 L44.4 477.28 L44.9 467.54 L45.4 475.65 L45.9 475.27 L46.4 479.98 L46.9 466.85 L47.4 475.61 L47.9 487.26 L48.4 487.31 L48.9 493.41 L49.4 488.88 L49.91 493.47 L50.41 492.42 L50.91 489.64 L51.41 495.45 L51.91 489.87 L52.41 490.59 L52.91 498.05 L53.41 496.32 L53.91 499.59 L54.41 493.49 L54.91 500.11 L55.41 497.39 L55.91 496.48 L56.41 498.09 L56.91 494.17 L57.41 497.23 L57.91 499.31 L58.41 495.88 L58.91 495.83 L59.41 492.82 L59.91 497.34 L60.41 497.54 L60.91 498.54 L61.41 496 L61.91 492.39 L62.41 492.57 L62.91 499.26 L63.41 496.1 L63.91 496.2 L64.41 493.54 L64.91 495.08 L65.41 499.17 L65.91 494.53 L66.41 495.05 L66.91 494.37 L67.41 499.05 L67.91 493.16 L68.41 493.36 L68.91 496.13 L69.41 490.98 L69.91 495.94 L70.41 492.65 L70.91 496 L71.41 496.63 L71.91 491.09 L72.41 481.8 L72.91 479.64 L73.41 474.83 L73.91 479.36 L74.41 481.4 L74.91 487.61 L75.41 490.75 L75.91 490.48 L76.41 480.65 L76.91 488.42 L77.41 486 L77.91 491.07 L78.41 493.19 L78.91 485.98 L79.42 493.76 L79.92 492.42 L80.42 485.83 L80.92 487.97 L81.42 486.91 L81.92 482.68 L82.42 476.07 L82.92 478.08 L83.42 474.05 L83.92 486.93 L84.42 474.95 L84.92 476.05 L85.42 481.01 L85.92 472.08 L86.42 485.99 L86.92 479.44 L87.42 485.88 L87.92 480.89 L88.42 484.29 L88.92 479.62 L89.42 479.2 L89.92 474.15 L90.42 473.06 L90.92 487.05 L91.42 473.41 L91.92 480.89 L92.42 489.04 L92.92 487.9 L93.42 480.12 L93.92 474.93 L94.42 484.8 L94.92 480.65 L95.42 477.08 L95.92 485.35 L96.42 486.43 L96.92 487.92 L97.42 491.28 L97.92 485.86 L98.42 487.72 L98.92 484.73 L99.42 487.83 L99.92 485.02 L100.42 489.3 L100.92 496.9 L101.42 488.42 L101.92 493.47 L102.42 495.77 L102.92 495.33 L103.42 500.7 L103.92 500.5 L104.42 501.51 L104.92 500.55 L105.42 498.99 L105.92 495.92 L106.42 497.93 L106.92 497.11 L107.42 501.88 L107.92 501.01 L108.42 500.51 L108.93 496.7 L109.43 496.54 L109.93 498.91 L110.43 498.43 L110.93 500.78 L111.43 501.41 L111.93 501.97 L112.43 499.33 L112.93 501.96 L113.43 499.42 L113.93 500.45 L114.43 502.72 L114.93 500.39 L115.43 498.23 L115.93 497.48 L116.43 501.88 L116.93 499.76 L117.43 496.76 L117.93 497.09 L118.43 498.36 L118.93 494.36 L119.43 499.74 L119.93 500.16 L120.43 499.86 L120.93 497.01 L121.43 495.95 L121.93 491.66 L122.43 474.36 L122.93 459.77 L123.43 471.03 L123.93 479.07 L124.43 460.27 L124.93 476.37 L125.43 478.16 L125.93 471.86 L126.43 461.58 L126.93 467.09 L127.43 462.8 L127.93 475.72 L128.43 478.24 L128.93 488.51 L129.43 488.84 L129.93 481.63 L130.43 486.92 L130.93 481.89 L131.43 485.96 L131.93 485.52 L132.43 490.52 L132.93 476.84 L133.43 490.15 L133.93 484.66 L134.43 481.9 L134.93 458.06 L135.43 455.07 L135.93 467.33 L136.43 467.37 L136.93 462.58 L137.43 465.6 L137.93 478.11 L138.43 460.64 L138.94 472.59 L139.44 466.69 L139.94 472.52 L140.44 480.55 L140.94 489.57 L141.44 487.47 L141.94 491.97 L142.44 481.56 L142.94 491.29 L143.44 483.81 L143.94 488.5 L144.44 493.11 L144.94 488.96 L145.44 480.05 L145.94 481.39 L146.44 482.08 L146.94 480.65 L147.44 481.03 L147.94 491.24 L148.44 487.61 L148.94 489.1 L149.44 486.3 L149.94 490.42 L150.44 489.76 L150.94 492.71 L151.44 498.55 L151.94 496.96 L152.44 496.88 L152.94 500.56 L153.44 498.8 L153.94 500.29 L154.44 497.4 L154.94 498.99 L155.44 500.79 L155.94 499.84 L156.44 499.83 L156.94 497.22 L157.44 500.66 L157.94 497.78 L158.44 497.92 L158.94 500.4 L159.44 499.82 L159.94 495.55 L160.44 497.67 L160.94 496.68 L161.44 499.75 L161.94 496.2 L162.44 498.24 L162.94 499.59 L163.44 496.05 L163.94 494.68 L164.44 497.69 L164.94 498.44 L165.44 499.22 L165.94 498.28 L166.44 493.24 L166.94 492.97 L167.44 496.45 L167.94 493.14 L168.45 498.57 L168.95 495.67 L169.45 494.01 L169.95 497.18 L170.45 489.24 L170.95 484.79 L171.45 485.28 L171.95 480.88 L172.45 490.08 L172.95 481.59 L173.45 488.06 L173.95 477.31 L174.45 482.73 L174.95 486.92 L175.45 487.18 L175.95 484.39 L176.45 491.93 L176.95 489.97 L177.45 489.22 L177.95 492.21 L178.45 490.63 L178.95 490.51 L179.45 488.71 L179.95 482.83 L180.45 489.95 L180.95 487.08 L181.45 492.41 L181.95 490.24 L182.45 486.53 L182.95 502.76 L182.95 510.05 L182.45 509.23 L181.95 509.63 L181.45 510.07 L180.95 508.97 L180.45 509.35 L179.95 509.29 L179.45 510.68 L178.95 509.69 L178.45 509.21 L177.95 508.97 L177.45 509.13 L176.95 510 L176.45 510.37 L175.95 509.83 L175.45 509.59 L174.95 510.68 L174.45 509.72 L173.95 510.33 L173.45 509.21 L172.95 510.22 L172.45 509.54 L171.95 510.41 L171.45 509.53 L170.95 509.38 L170.45 510.73 L169.95 510.05 L169.45 510.29 L168.95 510.03 L168.45 509.12 L167.94 510.08 L167.44 510.4 L166.94 509.15 L166.44 510.15 L165.94 509.09 L165.44 510.47 L164.94 509 L164.44 509.99 L163.94 509.19 L163.44 509.14 L162.94 509.87 L162.44 510.09 L161.94 509.42 L161.44 510.55 L160.94 510.34 L160.44 509.01 L159.94 509.81 L159.44 510.69 L158.94 510.64 L158.44 509.5 L157.94 509.53 L157.44 509.34 L156.94 510.38 L156.44 509.39 L155.94 510.2 L155.44 509.94 L154.94 509.43 L154.44 509.28 L153.94 510.03 L153.44 510.07 L152.94 509.08 L152.44 509.82 L151.94 509.48 L151.44 510.25 L150.94 510.42 L150.44 510 L149.94 509.84 L149.44 510.35 L148.94 509.83 L148.44 510.14 L147.94 509.82 L147.44 509.73 L146.94 509.59 L146.44 509.69 L145.94 509.34 L145.44 510.18 L144.94 509.18 L144.44 510.67 L143.94 509.54 L143.44 510.54 L142.94 509.18 L142.44 509.6 L141.94 509.44 L141.44 510.74 L140.94 508.99 L140.44 509.47 L139.94 509.5 L139.44 509.45 L138.94 510.65 L138.43 510.55 L137.93 509.46 L137.43 508.99 L136.93 509.49 L136.43 510.52 L135.93 510.5 L135.43 509.28 L134.93 510.22 L134.43 509.86 L133.93 510.4 L133.43 509.85 L132.93 509.09 L132.43 509.77 L131.93 510.47 L131.43 509.51 L130.93 510.35 L130.43 510.27 L129.93 508.96 L129.43 510.59 L128.93 510.03 L128.43 510.74 L127.93 510.59 L127.43 509.97 L126.93 510.45 L126.43 509.46 L125.93 510.57 L125.43 509.84 L124.93 509.62 L124.43 509.58 L123.93 510.53 L123.43 510.45 L122.93 509.48 L122.43 510.17 L121.93 510.47 L121.43 509.06 L120.93 510.19 L120.43 509.58 L119.93 510.15 L119.43 510.62 L118.93 509.66 L118.43 509.84 L117.93 509.25 L117.43 510.35 L116.93 510.15 L116.43 509.89 L115.93 510.32 L115.43 510.31 L114.93 510.32 L114.43 510.65 L113.93 509.77 L113.43 509.74 L112.93 509.84 L112.43 509.31 L111.93 510.48 L111.43 510.5 L110.93 509.13 L110.43 509.76 L109.93 510.46 L109.43 509.63 L108.93 508.96 L108.42 509.56 L107.92 510.48 L107.42 509.41 L106.92 508.98 L106.42 510.63 L105.92 510.02 L105.42 510.17 L104.92 509.17 L104.42 509.07 L103.92 509.25 L103.42 510.39 L102.92 509.27 L102.42 509.13 L101.92 510.73 L101.42 510.19 L100.92 509.98 L100.42 510.75 L99.92 509.53 L99.42 509.08 L98.92 509.55 L98.42 510.54 L97.92 510.38 L97.42 510.73 L96.92 509 L96.42 509.01 L95.92 509.66 L95.42 509.54 L94.92 509.77 L94.42 509.04 L93.92 509.52 L93.42 509.74 L92.92 510.24 L92.42 510.38 L91.92 510.19 L91.42 510.06 L90.92 509.7 L90.42 508.98 L89.92 510.09 L89.42 510.46 L88.92 509.38 L88.42 510.09 L87.92 509.86 L87.42 510.5 L86.92 510.02 L86.42 509.52 L85.92 509.09 L85.42 509.27 L84.92 510.33 L84.42 509.52 L83.92 509.11 L83.42 509.95 L82.92 509.79 L82.42 509.36 L81.92 509.65 L81.42 510.35 L80.92 510.3 L80.42 509.9 L79.92 510.46 L79.42 509.85 L78.91 510.53 L78.41 510.5 L77.91 509.07 L77.41 509.44 L76.91 509.91 L76.41 510.69 L75.91 509.22 L75.41 509.89 L74.91 509.28 L74.41 510.07 L73.91 510.51 L73.41 509.78 L72.91 510.65 L72.41 510.49 L71.91 510.54 L71.41 509.04 L70.91 509.2 L70.41 509.38 L69.91 509.72 L69.41 508.95 L68.91 509.09 L68.41 510.25 L67.91 510.36 L67.41 509.86 L66.91 509.58 L66.41 510.29 L65.91 509.95 L65.41 510.55 L64.91 510.56 L64.41 510.59 L63.91 509.98 L63.41 509.12 L62.91 509.38 L62.41 509.39 L61.91 510.6 L61.41 510.25 L60.91 509.21 L60.41 509.65 L59.91 509.39 L59.41 509.51 L58.91 509.27 L58.41 509.32 L57.91 510.27 L57.41 510.18 L56.91 509.08 L56.41 509.02 L55.91 509.44 L55.41 509.55 L54.91 509.31 L54.41 509.82 L53.91 509.31 L53.41 509.51 L52.91 510.43 L52.41 509.74 L51.91 509.2 L51.41 510.04 L50.91 509.67 L50.41 509.94 L49.91 509.33 L49.4 510.69 L48.9 509.8 L48.4 509.42 L47.9 510.48 L47.4 510.43 L46.9 508.96 L46.4 510.33 L45.9 510.05 L45.4 508.99 L44.9 509 L44.4 509.65 L43.9 510.46 L43.4 509.62 L42.9 510.71 L42.4 510.65 L41.9 508.99 L41.4 509.39 L40.9 510.58 L40.4 509.2 L39.9 510.4 L39.4 509.08 L38.9 509.09 L38.4 509.05 L37.9 509.45 L37.4 510.28 L36.9 510.34 L36.4 509.3 L35.9 510.4 L35.4 509.51 L34.9 509.27 Z"/><g fill="#0072BD"></g><g fill="#0072BD"><circle cx="94" cy="484.34" r="1.3"/><circle cx="139.76" cy="466.69" r="1.3"/><circle cx="150.27" cy="486.67" r="1.3"/><circle cx="123.61" cy="462.61" r="1.3"/><circle cx="155.18" cy="498.26" r="1.3"/><circle cx="83.18" cy="475.43" r="1.3"/><circle cx="89.84" cy="483.71" r="1.3"/><circle cx="84.24" cy="477.52" r="1.3"/><circle cx="172.78" cy="481.21" r="1.3"/><circle cx="132.98" cy="480.12" r="1.3"/><circle cx="150.06" cy="487.26" r="1.3"/><circle cx="103.27" cy="495.28" r="1.3"/><circle cx="81.94" cy="490.05" r="1.3"/><circle cx="126.64" cy="462.11" r="1.3"/><circle cx="71.65" cy="492.05" r="1.3"/><circle cx="167.04" cy="497.3" r="1.3"/><circle cx="55" cy="496" r="1.3"/><circle cx="84.4" cy="475.23" r="1.3"/><circle cx="182.46" cy="490" r="1.3"/><circle cx="152.32" cy="498.01" r="1.3"/><circle cx="60.58" cy="492.85" r="1.3"/><circle cx="60.73" cy="497.2" r="1.3"/><circle cx="101.9" cy="496.12" r="1.3"/><circle cx="106.08" cy="499.18" r="1.3"/><circle cx="176.19" cy="486.37" r="1.3"/><circle cx="160.71" cy="497.45" r="1.3"/><circle cx="121.7" cy="496.66" r="1.3"/><circle cx="80.03" cy="490.09" r="1.3"/><circle cx="93.39" cy="480.1" r="1.3"/><circle cx="109.72" cy="500.15" r="1.3"/><circle cx="124.74" cy="460.89" r="1.3"/><circle cx="64.89" cy="497.58" r="1.3"/><circle cx="36.68" cy="473.67" r="1.3"/><circle cx="43.11" cy="470.89" r="1.3"/><circle cx="158.75" cy="497.76" r="1.3"/><circle cx="177.93" cy="484.17" r="1.3"/><circle cx="121.64" cy="495.1" r="1.3"/><circle cx="36.76" cy="469.55" r="1.3"/><circle cx="73.64" cy="481.18" r="1.3"/><circle cx="44.59" cy="468.99" r="1.3"/><circle cx="90.5" cy="480.34" r="1.3"/><circle cx="94.77" cy="485.39" r="1.3"/><circle cx="143.2" cy="483.85" r="1.3"/><circle cx="123.46" cy="473.06" r="1.3"/><circle cx="123.6" cy="463.27" r="1.3"/><circle cx="180.97" cy="484.14" r="1.3"/><circle cx="41.68" cy="466" r="1.3"/><circle cx="133.36" cy="485.54" r="1.3"/><circle cx="171.12" cy="478.79" r="1.3"/><circle cx="167.42" cy="496.57" r="1.3"/><circle cx="120.32" cy="496.89" r="1.3"/><circle cx="78.72" cy="487.37" r="1.3"/><circle cx="126.18" cy="468.76" r="1.3"/><circle cx="115.29" cy="498.08" r="1.3"/><circle cx="118.8" cy="495.67" r="1.3"/><circle cx="118.7" cy="495.43" r="1.3"/><circle cx="39.21" cy="466.75" r="1.3"/><circle cx="116.66" cy="497.98" r="1.3"/><circle cx="178.32" cy="485.66" r="1.3"/><circle cx="105.67" cy="498.29" r="1.3"/><circle cx="113.87" cy="498.86" r="1.3"/><circle cx="175.1" cy="487.57" r="1.3"/><circle cx="82.33" cy="480.51" r="1.3"/><circle cx="43.73" cy="465.81" r="1.3"/><circle cx="39.47" cy="464.05" r="1.3"/><circle cx="153.39" cy="499.5" r="1.3"/><circle cx="91.34" cy="483.09" r="1.3"/><circle cx="139.24" cy="466.95" r="1.3"/><circle cx="124.56" cy="469.75" r="1.3"/><circle cx="121.76" cy="493.25" r="1.3"/><circle cx="150.26" cy="484.34" r="1.3"/><circle cx="71.5" cy="494.62" r="1.3"/><circle cx="92" cy="482.24" r="1.3"/><circle cx="153.84" cy="499.74" r="1.3"/><circle cx="117.59" cy="497.13" r="1.3"/><circle cx="173.4" cy="486.83" r="1.3"/><circle cx="74.98" cy="483.18" r="1.3"/><circle cx="173.53" cy="485.66" r="1.3"/><circle cx="159.38" cy="498.9" r="1.3"/><circle cx="116" cy="497.73" r="1.3"/><circle cx="44.41" cy="471.2" r="1.3"/><circle cx="57.97" cy="499.54" r="1.3"/><circle cx="79.85" cy="488.63" r="1.3"/><circle cx="120.83" cy="497.73" r="1.3"/><circle cx="153.56" cy="498.48" r="1.3"/><circle cx="56.1" cy="495.38" r="1.3"/><circle cx="156.42" cy="499.58" r="1.3"/><circle cx="174" cy="480.44" r="1.3"/></g><g fill="#0072BD"><circle cx="146.34" cy="484.02" r="1.3"/><circle cx="107.99" cy="498.31" r="1.3"/><circle cx="84.57" cy="474.6" r="1.3"/><circle cx="76.94" cy="487.75" r="1.3"/><circle cx="89.59" cy="480.1" r="1.3"/><circle cx="58.88" cy="495.42" r="1.3"/><circle cx="151.85" cy="497.2" r="1.3"/><circle cx="67.43" cy="491.09" r="1.3"/><circle cx="64.14" cy="496.39" r="1.3"/><circle cx="137.62" cy="464.58" r="1.3"/><circle cx="110.34" cy="498.9" r="1.3"/><circle cx="54.74" cy="494.07" r="1.3"/><circle cx="54.85" cy="495.01" r="1.3"/><circle cx="115.76" cy="497.6" r="1.3"/><circle cx="157.8" cy="496.75" r="1.3"/><circle cx="88.79" cy="476.43" r="1.3"/><circle cx="125.49" cy="468.34" r="1.3"/><circle cx="160.12" cy="498.33" r="1.3"/><circle cx="111.99" cy="500" r="1.3"/><circle cx="100.05" cy="485.87" r="1.3"/><circle cx="78.22" cy="487.69" r="1.3"/><circle cx="168.94" cy="490.76" r="1.3"/><circle cx="172.07" cy="475.82" r="1.3"/><circle cx="68.61" cy="494.61" r="1.3"/><circle cx="116.65" cy="496.93" r="1.3"/><circle cx="176.49" cy="485.3" r="1.3"/><circle cx="157.96" cy="498.05" r="1.3"/><circle cx="109.11" cy="499.83" r="1.3"/><circle cx="65.95" cy="496.06" r="1.3"/><circle cx="141.86" cy="484.17" r="1.3"/><circle cx="48.87" cy="486.08" r="1.3"/><circle cx="106.32" cy="497.95" r="1.3"/><circle cx="153.14" cy="498.02" r="1.3"/><circle cx="116.65" cy="496.98" r="1.3"/><circle cx="162.63" cy="494.86" r="1.3"/><circle cx="155.59" cy="497.28" r="1.3"/><circle cx="56.95" cy="497.16" r="1.3"/><circle cx="99.99" cy="487.93" r="1.3"/><circle cx="40.57" cy="458.65" r="1.3"/><circle cx="114.54" cy="499.25" r="1.3"/><circle cx="105.96" cy="499.11" r="1.3"/><circle cx="137.24" cy="465.86" r="1.3"/><circle cx="143.43" cy="486.38" r="1.3"/><circle cx="103.23" cy="495.2" r="1.3"/><circle cx="138.11" cy="457.46" r="1.3"/><circle cx="65.84" cy="497.59" r="1.3"/><circle cx="81.16" cy="491.24" r="1.3"/><circle cx="61.28" cy="494.02" r="1.3"/><circle cx="95.26" cy="477.22" r="1.3"/><circle cx="89.52" cy="472.42" r="1.3"/><circle cx="36.87" cy="460.95" r="1.3"/><circle cx="79.35" cy="485.54" r="1.3"/><circle cx="65.19" cy="494.69" r="1.3"/><circle cx="154.54" cy="498.58" r="1.3"/><circle cx="41.15" cy="464.86" r="1.3"/><circle cx="64.96" cy="495.51" r="1.3"/><circle cx="97.88" cy="479.23" r="1.3"/><circle cx="39.91" cy="461.23" r="1.3"/><circle cx="79.73" cy="486.73" r="1.3"/><circle cx="111.54" cy="499.55" r="1.3"/><circle cx="159.2" cy="498.86" r="1.3"/><circle cx="44.38" cy="461.42" r="1.3"/><circle cx="130.02" cy="484.12" r="1.3"/><circle cx="110.23" cy="498.19" r="1.3"/><circle cx="90.25" cy="477.41" r="1.3"/><circle cx="75.44" cy="475.91" r="1.3"/><circle cx="182.58" cy="489.85" r="1.3"/><circle cx="117.52" cy="498.46" r="1.3"/><circle cx="60.88" cy="494.59" r="1.3"/><circle cx="63.62" cy="494.8" r="1.3"/><circle cx="105.32" cy="496.66" r="1.3"/><circle cx="41.28" cy="468.72" r="1.3"/><circle cx="137.97" cy="457.93" r="1.3"/><circle cx="62.72" cy="492.03" r="1.3"/><circle cx="159.13" cy="498.08" r="1.3"/><circle cx="140.75" cy="479.3" r="1.3"/><circle cx="165.08" cy="495.87" r="1.3"/><circle cx="153.18" cy="495.64" r="1.3"/><circle cx="50.07" cy="492.3" r="1.3"/><circle cx="91.14" cy="481.7" r="1.3"/><circle cx="90.44" cy="481.56" r="1.3"/><circle cx="49.64" cy="488.18" r="1.3"/><circle cx="178.52" cy="484.65" r="1.3"/><circle cx="166.17" cy="496.02" r="1.3"/><circle cx="38.01" cy="458.88" r="1.3"/><circle cx="137.87" cy="460.58" r="1.3"/></g><g fill="#EDB120"><circle cx="153.29" cy="498.63" r="1.3"/><circle cx="48.36" cy="481.33" r="1.3"/><circle cx="35.22" cy="477.95" r="1.3"/><circle cx="89.52" cy="476.9" r="1.3"/><circle cx="77.73" cy="484.24" r="1.3"/><circle cx="180.26" cy="485.92" r="1.3"/><circle cx="65.92" cy="493.71" r="1.3"/><circle cx="113.66" cy="498.85" r="1.3"/><circle cx="160" cy="497.68" r="1.3"/><circle cx="176.57" cy="484.89" r="1.3"/><circle cx="100.98" cy="490.38" r="1.3"/><circle cx="90.41" cy="474.3" r="1.3"/><circle cx="134.94" cy="459.39" r="1.3"/><circle cx="55.06" cy="493.69" r="1.3"/><circle cx="119.51" cy="496.5" r="1.3"/><circle cx="156.62" cy="496.41" r="1.3"/><circle cx="178.81" cy="481.78" r="1.3"/><circle cx="113.77" cy="496.86" r="1.3"/><circle cx="167.93" cy="494.08" r="1.3"/><circle cx="84.73" cy="480.16" r="1.3"/><circle cx="127.31" cy="466.03" r="1.3"/><circle cx="100.07" cy="486.15" r="1.3"/><circle cx="56.15" cy="494.2" r="1.3"/><circle cx="151.28" cy="495.44" r="1.3"/><circle cx="93.54" cy="480.59" r="1.3"/><circle cx="176.15" cy="483.69" r="1.3"/><circle cx="145.22" cy="480.42" r="1.3"/><circle cx="132.32" cy="481.31" r="1.3"/><circle cx="57.71" cy="494.6" r="1.3"/><circle cx="109.93" cy="497.14" r="1.3"/><circle cx="67.14" cy="494.12" r="1.3"/><circle cx="53.47" cy="491.52" r="1.3"/><circle cx="175.96" cy="484.68" r="1.3"/><circle cx="95.89" cy="478.89" r="1.3"/><circle cx="67.65" cy="491.25" r="1.3"/><circle cx="63.02" cy="494.47" r="1.3"/><circle cx="37.38" cy="456.33" r="1.3"/><circle cx="80.26" cy="486.23" r="1.3"/><circle cx="119.71" cy="494.4" r="1.3"/><circle cx="163.76" cy="497.51" r="1.3"/><circle cx="47.35" cy="476.82" r="1.3"/><circle cx="107.35" cy="498.65" r="1.3"/><circle cx="141.9" cy="486.1" r="1.3"/><circle cx="36.12" cy="469.49" r="1.3"/><circle cx="95.86" cy="475" r="1.3"/><circle cx="110.72" cy="498.43" r="1.3"/><circle cx="148.69" cy="481.26" r="1.3"/><circle cx="103.2" cy="494.18" r="1.3"/><circle cx="117.43" cy="495.29" r="1.3"/><circle cx="159.72" cy="497.15" r="1.3"/><circle cx="132.29" cy="484.68" r="1.3"/><circle cx="83.01" cy="474.78" r="1.3"/><circle cx="53.88" cy="492.42" r="1.3"/><circle cx="151.96" cy="497.81" r="1.3"/><circle cx="44.99" cy="460.08" r="1.3"/><circle cx="142.09" cy="484.08" r="1.3"/><circle cx="93.37" cy="477.88" r="1.3"/><circle cx="53.01" cy="492.48" r="1.3"/><circle cx="178.1" cy="484.65" r="1.3"/><circle cx="68.66" cy="489.93" r="1.3"/><circle cx="130.58" cy="477.57" r="1.3"/><circle cx="146.72" cy="485.34" r="1.3"/><circle cx="75.79" cy="483.49" r="1.3"/><circle cx="70.14" cy="492.68" r="1.3"/><circle cx="44.24" cy="458.34" r="1.3"/><circle cx="79.54" cy="485.69" r="1.3"/><circle cx="90.49" cy="480.33" r="1.3"/><circle cx="37.24" cy="467.29" r="1.3"/><circle cx="46.96" cy="476.29" r="1.3"/><circle cx="96.62" cy="481.56" r="1.3"/><circle cx="49.35" cy="484.55" r="1.3"/><circle cx="123.38" cy="458.15" r="1.3"/><circle cx="141.65" cy="484.76" r="1.3"/><circle cx="62.53" cy="494.43" r="1.3"/><circle cx="121.61" cy="494.66" r="1.3"/><circle cx="108.3" cy="498.91" r="1.3"/><circle cx="181.5" cy="479.45" r="1.3"/><circle cx="155.46" cy="496.57" r="1.3"/><circle cx="49.11" cy="484.81" r="1.3"/><circle cx="92.79" cy="478.36" r="1.3"/><circle cx="94.47" cy="477.71" r="1.3"/><circle cx="150" cy="480.18" r="1.3"/><circle cx="105.27" cy="498" r="1.3"/><circle cx="134.01" cy="483.38" r="1.3"/><circle cx="118.99" cy="496.9" r="1.3"/><circle cx="68.01" cy="490.82" r="1.3"/><circle cx="160.57" cy="497.82" r="1.3"/><circle cx="93.35" cy="482.53" r="1.3"/><circle cx="68.72" cy="493.78" r="1.3"/><circle cx="109.52" cy="499.08" r="1.3"/><circle cx="57.76" cy="496.24" r="1.3"/></g><g fill="#EDB120"><circle cx="38.86" cy="385.2" r="1.3"/><circle cx="38.74" cy="385.2" r="1.3"/></g><g fill="#0072BD"><circle cx="39.18" cy="399.38" r="1.3"/><circle cx="39.16" cy="399.38" r="1.3"/></g><g fill="#0072BD"><circle cx="38.79" cy="407.02" r="1.3"/><circle cx="39.13" cy="404.55" r="1.3"/></g><g fill="#EDB120"><circle cx="39.13" cy="406.35" r="1.3"/><circle cx="39.06" cy="406.35" r="1.3"/></g><g fill="#EDB120"><circle cx="39.16" cy="410.4" r="1.3"/><circle cx="39.24" cy="410.4" r="1.3"/></g><g fill="#0072BD"><circle cx="38.91" cy="413.77" r="1.3"/><circle cx="39.16" cy="413.77" r="1.3"/></g><g fill="#EDB120"><circle cx="39.21" cy="419.4" r="1.3"/><circle cx="38.9" cy="419.4" r="1.3"/></g><g fill="#0072BD"><circle cx="39.09" cy="424.35" r="1.3"/><circle cx="39.09" cy="424.35" r="1.3"/></g><g fill="#EDB120"><circle cx="39.17" cy="425.25" r="1.3"/><circle cx="39.03" cy="425.25" r="1.3"/></g><g fill="#EDB120"><circle cx="38.88" cy="429.3" r="1.3"/><circle cx="38.87" cy="429.3" r="1.3"/></g><g fill="#0072BD"><circle cx="39.02" cy="437.4" r="1.3"/><circle cx="38.81" cy="434.92" r="1.3"/></g><g fill="#EDB120"><circle cx="39.18" cy="438.3" r="1.3"/><circle cx="39.19" cy="438.3" r="1.3"/></g><g fill="#0072BD"><circle cx="38.87" cy="447.3" r="1.3"/><circle cx="39.09" cy="445.72" r="1.3"/></g><g fill="#EDB120"><circle cx="39.08" cy="449.1" r="1.3"/><circle cx="38.8" cy="449.1" r="1.3"/></g><g fill="#0072BD"><circle cx="39.14" cy="452.25" r="1.3"/><circle cx="39.13" cy="452.25" r="1.3"/></g><g fill="#EDB120"><circle cx="38.9" cy="453.82" r="1.3"/><circle cx="38.79" cy="453.82" r="1.3"/></g><g fill="#0072BD"><circle cx="38.89" cy="462.15" r="1.3"/><circle cx="39.13" cy="460.46" r="1.3"/><circle cx="38.98" cy="458.77" r="1.3"/></g><g fill="#EDB120"><circle cx="44.95" cy="453.15" r="1.3"/><circle cx="44.62" cy="453.15" r="1.3"/></g><g fill="#0072BD"><circle cx="44.59" cy="462.15" r="1.3"/><circle cx="44.71" cy="460.52" r="1.3"/><circle cx="44.98" cy="458.89" r="1.3"/><circle cx="44.62" cy="457.26" r="1.3"/><circle cx="44.58" cy="455.62" r="1.3"/></g><g fill="#EDB120"><circle cx="44.92" cy="465.52" r="1.3"/><circle cx="44.59" cy="465.52" r="1.3"/></g><g fill="#0072BD"><circle cx="85.01" cy="427.72" r="1.3"/><circle cx="84.71" cy="427.72" r="1.3"/></g><g fill="#0072BD"><circle cx="84.79" cy="432.67" r="1.3"/><circle cx="85" cy="432.67" r="1.3"/></g><g fill="#EDB120"><circle cx="85.11" cy="441.9" r="1.3"/><circle cx="84.88" cy="440.04" r="1.3"/><circle cx="84.9" cy="438.19" r="1.3"/><circle cx="84.69" cy="436.33" r="1.3"/><circle cx="84.84" cy="434.47" r="1.3"/></g><g fill="#0072BD"><circle cx="84.79" cy="445.5" r="1.3"/><circle cx="85.07" cy="443.7" r="1.3"/></g><g fill="#EDB120"><circle cx="85.03" cy="456.3" r="1.3"/><circle cx="85.07" cy="454.5" r="1.3"/><circle cx="84.94" cy="452.7" r="1.3"/><circle cx="85.02" cy="450.9" r="1.3"/><circle cx="84.73" cy="449.1" r="1.3"/></g><g fill="#0072BD"><circle cx="84.86" cy="465.3" r="1.3"/><circle cx="84.82" cy="463.57" r="1.3"/><circle cx="84.81" cy="461.85" r="1.3"/><circle cx="85.04" cy="460.12" r="1.3"/></g><g fill="#EDB120"><circle cx="92.09" cy="389.47" r="1.3"/><circle cx="92.14" cy="389.47" r="1.3"/></g><g fill="#EDB120"><circle cx="92.12" cy="407.7" r="1.3"/><circle cx="92.41" cy="407.7" r="1.3"/></g><g fill="#0072BD"><circle cx="92.3" cy="414.22" r="1.3"/><circle cx="92.22" cy="414.22" r="1.3"/></g><g fill="#EDB120"><circle cx="92.17" cy="419.17" r="1.3"/><circle cx="92.44" cy="419.17" r="1.3"/></g><g fill="#0072BD"><circle cx="92.45" cy="423.67" r="1.3"/><circle cx="92.2" cy="423.67" r="1.3"/></g><g fill="#0072BD"><circle cx="92.26" cy="428.85" r="1.3"/><circle cx="92.41" cy="428.85" r="1.3"/></g><g fill="#EDB120"><circle cx="92.11" cy="445.5" r="1.3"/><circle cx="92.11" cy="443.88" r="1.3"/><circle cx="92.03" cy="442.25" r="1.3"/><circle cx="92.23" cy="440.62" r="1.3"/><circle cx="92.37" cy="439" r="1.3"/><circle cx="92.06" cy="437.38" r="1.3"/><circle cx="92.2" cy="435.75" r="1.3"/><circle cx="92.48" cy="434.12" r="1.3"/><circle cx="92.22" cy="432.5" r="1.3"/><circle cx="92.17" cy="430.88" r="1.3"/></g><g fill="#0072BD"><circle cx="92.4" cy="443.7" r="1.3"/><circle cx="92.43" cy="443.7" r="1.3"/></g><g fill="#EDB120"><circle cx="92.17" cy="456.3" r="1.3"/><circle cx="92.04" cy="454.68" r="1.3"/><circle cx="92.3" cy="453.06" r="1.3"/><circle cx="92.35" cy="451.44" r="1.3"/><circle cx="92.44" cy="449.82" r="1.3"/><circle cx="92.31" cy="448.2" r="1.3"/></g><g fill="#0072BD"><circle cx="92.13" cy="459" r="1.3"/><circle cx="92.24" cy="459" r="1.3"/></g><g fill="#EDB120"><circle cx="92.12" cy="470.93" r="1.3"/><circle cx="92.2" cy="469.08" r="1.3"/><circle cx="92.21" cy="467.24" r="1.3"/><circle cx="92.44" cy="465.39" r="1.3"/><circle cx="92.43" cy="463.54" r="1.3"/><circle cx="92.44" cy="461.7" r="1.3"/></g><g fill="#0072BD"><circle cx="124.98" cy="466.2" r="1.3"/><circle cx="125.22" cy="464.5" r="1.3"/><circle cx="124.81" cy="462.79" r="1.3"/><circle cx="125.2" cy="461.09" r="1.3"/><circle cx="125.06" cy="459.39" r="1.3"/><circle cx="125.18" cy="457.68" r="1.3"/><circle cx="124.95" cy="455.98" r="1.3"/><circle cx="125.24" cy="454.27" r="1.3"/></g><g fill="#EDB120"><circle cx="124.75" cy="461.7" r="1.3"/><circle cx="125.17" cy="461.7" r="1.3"/></g><g fill="#0072BD"><circle cx="136.49" cy="468.45" r="1.3"/><circle cx="136.27" cy="466.68" r="1.3"/><circle cx="136.5" cy="464.91" r="1.3"/><circle cx="136.19" cy="463.13" r="1.3"/><circle cx="136.46" cy="461.36" r="1.3"/><circle cx="136.31" cy="459.59" r="1.3"/><circle cx="136.29" cy="457.82" r="1.3"/><circle cx="136.18" cy="456.05" r="1.3"/><circle cx="136.48" cy="454.27" r="1.3"/></g><g fill="#EDB120"><circle cx="136.45" cy="462.82" r="1.3"/><circle cx="136.12" cy="462.82" r="1.3"/></g><g fill="#0072BD"><circle cx="173.74" cy="477.45" r="1.3"/><circle cx="173.36" cy="475.76" r="1.3"/><circle cx="173.44" cy="474.07" r="1.3"/><circle cx="173.46" cy="472.39" r="1.3"/><circle cx="173.54" cy="470.7" r="1.3"/></g><g fill="#0072BD"><circle cx="75.79" cy="454.27" r="1.3"/><circle cx="53.8" cy="484.2" r="1.3"/><circle cx="60.1" cy="488.7" r="1.3"/><circle cx="64.51" cy="486.45" r="1.3"/><circle cx="66.4" cy="484.2" r="1.3"/><circle cx="69.55" cy="483.07" r="1.3"/><circle cx="47.5" cy="463.95" r="1.3"/><circle cx="46.24" cy="459.45" r="1.3"/><circle cx="101.05" cy="483.07" r="1.3"/><circle cx="116.8" cy="490.95" r="1.3"/><circle cx="148.3" cy="484.2" r="1.3"/></g><g fill="#EDB120"><circle cx="75.79" cy="422.77" r="1.3"/><circle cx="147.04" cy="479.7" r="1.3"/><circle cx="179.8" cy="481.95" r="1.3"/></g><line x1="27.7" y1="378.9" x2="27.7" y2="517.5" stroke="#808080" stroke-width="0.6"/><line x1="27.4" y1="517.2" x2="189.3" y2="517.2" stroke="#808080" stroke-width="0.6"/><line x1="27.7" y1="511.2" x2="29.2" y2="511.2" stroke="#808080" stroke-width="0.5"/><text transform="translate(25.6 513.18) scale(1 1.15)" font-size="5.5" text-anchor="end" fill="#4d4d4d" font-family="Liberation Sans, sans-serif" >0</text><line x1="27.7" y1="488.7" x2="29.2" y2="488.7" stroke="#808080" stroke-width="0.5"/><text transform="translate(25.6 490.68) scale(1 1.15)" font-size="5.5" text-anchor="end" fill="#4d4d4d" font-family="Liberation Sans, sans-serif" >100</text><line x1="27.7" y1="466.2" x2="29.2" y2="466.2" stroke="#808080" stroke-width="0.5"/><text transform="translate(25.6 468.18) scale(1 1.15)" font-size="5.5" text-anchor="end" fill="#4d4d4d" font-family="Liberation Sans, sans-serif" >200</text><line x1="27.7" y1="443.7" x2="29.2" y2="443.7" stroke="#808080" stroke-width="0.5"/><text transform="translate(25.6 445.68) scale(1 1.15)" font-size="5.5" text-anchor="end" fill="#4d4d4d" font-family="Liberation Sans, sans-serif" >300</text><line x1="27.7" y1="421.2" x2="29.2" y2="421.2" stroke="#808080" stroke-width="0.5"/><text transform="translate(25.6 423.18) scale(1 1.15)" font-size="5.5" text-anchor="end" fill="#4d4d4d" font-family="Liberation Sans, sans-serif" >400</text><line x1="27.7" y1="398.7" x2="29.2" y2="398.7" stroke="#808080" stroke-width="0.5"/><text transform="translate(25.6 400.68) scale(1 1.15)" font-size="5.5" text-anchor="end" fill="#4d4d4d" font-family="Liberation Sans, sans-serif" >500</text><line x1="34.9" y1="517.2" x2="34.9" y2="515.7" stroke="#808080" stroke-width="0.5"/><text transform="translate(34.9 525.6) scale(1 1.15)" font-size="5.5" text-anchor="middle" fill="#4d4d4d" font-family="Liberation Sans, sans-serif" >0</text><line x1="66.4" y1="517.2" x2="66.4" y2="515.7" stroke="#808080" stroke-width="0.5"/><text transform="translate(66.4 525.6) scale(1 1.15)" font-size="5.5" text-anchor="middle" fill="#4d4d4d" font-family="Liberation Sans, sans-serif" >0.5</text><line x1="97.9" y1="517.2" x2="97.9" y2="515.7" stroke="#808080" stroke-width="0.5"/><text transform="translate(97.9 525.6) scale(1 1.15)" font-size="5.5" text-anchor="middle" fill="#4d4d4d" font-family="Liberation Sans, sans-serif" >1</text><line x1="129.4" y1="517.2" x2="129.4" y2="515.7" stroke="#808080" stroke-width="0.5"/><text transform="translate(129.4 525.6) scale(1 1.15)" font-size="5.5" text-anchor="middle" fill="#4d4d4d" font-family="Liberation Sans, sans-serif" >1.5</text><line x1="160.9" y1="517.2" x2="160.9" y2="515.7" stroke="#808080" stroke-width="0.5"/><text transform="translate(160.9 525.6) scale(1 1.15)" font-size="5.5" text-anchor="middle" fill="#4d4d4d" font-family="Liberation Sans, sans-serif" >2</text><text x="108" y="375.9" font-size="6.1" text-anchor="middle" font-weight="bold" fill="#1a1a1a" font-family="Liberation Sans, sans-serif" >Predictions: model Cubic SVM</text><text transform="translate(108.5 534) scale(1 1.15)" font-size="6.1" text-anchor="middle" fill="#404040" font-family="Liberation Sans, sans-serif" >Record number</text><text x="0" y="0" font-size="6.15" text-anchor="middle" fill="#404040" font-family="Liberation Sans, sans-serif" transform="translate(12.5 448) rotate(-90) scale(1 1.15)">Response PM10</text><text transform="translate(177 534.5) scale(1 1.15)" font-size="5" text-anchor="start" fill="#4d4d4d" font-family="Liberation Sans, sans-serif" >×10</text><text transform="translate(185.75 532) scale(1 1.15)" font-size="3.5" text-anchor="start" fill="#4d4d4d" font-family="Liberation Sans, sans-serif" >4</text><rect x="137.5" y="381.3" width="43" height="15.1" fill="#ffffff" stroke="#9a9a9a" stroke-width="0.6"/><g fill="#0072BD"><circle cx="147.7" cy="385.3" r="1.4"/></g><g fill="#EDB120"><circle cx="147.7" cy="392.7" r="1.4"/></g><text transform="translate(157.2 387.21) scale(1 1.15)" font-size="5.3" text-anchor="start" fill="#222" font-family="Liberation Sans, sans-serif" >True</text><text transform="translate(157.2 394.61) scale(1 1.15)" font-size="5.3" text-anchor="start" fill="#222" font-family="Liberation Sans, sans-serif" >Predicted</text><text x="100.8" y="544.5" font-size="7.4" text-anchor="middle" fill="#222" font-family="Liberation Serif, serif">(<tspan font-weight="bold">e</tspan>)</text><rect x="206.6" y="2.8" width="180.7" height="168.4" fill="#f0f0f0"/><rect x="238.3" y="14" width="136.6" height="135.9" fill="#ffffff"/><line x1="238.3" y1="144.5" x2="374.9" y2="144.5" stroke="#e6e6e6" stroke-width="0.5"/><line x1="244.4" y1="14" x2="244.4" y2="149.9" stroke="#e6e6e6" stroke-width="0.5"/><line x1="238.3" y1="119.56" x2="374.9" y2="119.56" stroke="#e6e6e6" stroke-width="0.5"/><line x1="269.3" y1="14" x2="269.3" y2="149.9" stroke="#e6e6e6" stroke-width="0.5"/><line x1="238.3" y1="94.62" x2="374.9" y2="94.62" stroke="#e6e6e6" stroke-width="0.5"/><line x1="294.2" y1="14" x2="294.2" y2="149.9" stroke="#e6e6e6" stroke-width="0.5"/><line x1="238.3" y1="69.68" x2="374.9" y2="69.68" stroke="#e6e6e6" stroke-width="0.5"/><line x1="319.1" y1="14" x2="319.1" y2="149.9" stroke="#e6e6e6" stroke-width="0.5"/><line x1="238.3" y1="44.74" x2="374.9" y2="44.74" stroke="#e6e6e6" stroke-width="0.5"/><line x1="344" y1="14" x2="344" y2="149.9" stroke="#e6e6e6" stroke-width="0.5"/><line x1="238.3" y1="19.8" x2="374.9" y2="19.8" stroke="#e6e6e6" stroke-width="0.5"/><line x1="368.9" y1="14" x2="368.9" y2="149.9" stroke="#e6e6e6" stroke-width="0.5"/><path fill="#0072BD" d="M244.32 142.82 L244.72 137.12 L246.42 132.22 L247.22 127.72 L250.42 124.82 L252.12 120.72 L256.22 116.62 L258.62 111.72 L261.92 110.92 L265.02 109.22 L269.42 107.02 L273.72 104.82 L275.92 102.62 L278.12 100.42 L282.42 98.32 L286.82 97.22 L291.22 95.02 L294.42 91.72 L295.68 94.08 L294.58 99.48 L292.38 108.28 L289.18 112.58 L286.98 116.98 L282.58 122.38 L277.18 126.78 L273.88 132.28 L269.48 137.68 L262.98 139.88 L261.48 137.48 L255.78 140.78 L249.28 143.68 L243.48 144.08 Z"/><g fill="#0072BD"><circle cx="244.94" cy="141.71" r="1.6"/><circle cx="243.98" cy="140.35" r="1.6"/><circle cx="244.67" cy="139.17" r="1.6"/><circle cx="244.61" cy="136.96" r="1.6"/><circle cx="244.5" cy="137.13" r="1.6"/><circle cx="245.45" cy="135.08" r="1.6"/><circle cx="245.45" cy="134.35" r="1.6"/><circle cx="246.76" cy="132.97" r="1.6"/><circle cx="245.94" cy="131.5" r="1.6"/><circle cx="247.12" cy="130.67" r="1.6"/><circle cx="247.35" cy="128.79" r="1.6"/><circle cx="247.83" cy="126.65" r="1.6"/><circle cx="248.56" cy="126.91" r="1.6"/><circle cx="250.26" cy="125.8" r="1.6"/><circle cx="250.07" cy="124.47" r="1.6"/><circle cx="251.02" cy="122.01" r="1.6"/><circle cx="251.27" cy="121.7" r="1.6"/><circle cx="252.49" cy="120.01" r="1.6"/><circle cx="253.01" cy="119.07" r="1.6"/><circle cx="254.95" cy="118.09" r="1.6"/><circle cx="255.92" cy="117.4" r="1.6"/><circle cx="256.48" cy="115.89" r="1.6"/><circle cx="257.5" cy="115.37" r="1.6"/><circle cx="257.9" cy="113.04" r="1.6"/><circle cx="257.9" cy="112.95" r="1.6"/><circle cx="258.57" cy="112.16" r="1.6"/><circle cx="261.82" cy="110.77" r="1.6"/><circle cx="262.52" cy="110.48" r="1.6"/><circle cx="264.41" cy="109.77" r="1.6"/><circle cx="266.03" cy="109.49" r="1.6"/><circle cx="267.12" cy="107.87" r="1.6"/><circle cx="267.62" cy="107.69" r="1.6"/><circle cx="269.07" cy="107.13" r="1.6"/><circle cx="269.98" cy="106.96" r="1.6"/><circle cx="271.29" cy="105.5" r="1.6"/><circle cx="272.06" cy="105.46" r="1.6"/><circle cx="272.35" cy="105.57" r="1.6"/><circle cx="274.72" cy="103.91" r="1.6"/><circle cx="275.83" cy="102.56" r="1.6"/><circle cx="276.62" cy="102.3" r="1.6"/><circle cx="277.01" cy="101.11" r="1.6"/><circle cx="278.07" cy="100.63" r="1.6"/><circle cx="279.99" cy="99.59" r="1.6"/><circle cx="281.45" cy="98.51" r="1.6"/><circle cx="282.26" cy="98.3" r="1.6"/><circle cx="284.74" cy="98.38" r="1.6"/><circle cx="286.07" cy="97.72" r="1.6"/><circle cx="287.14" cy="97.45" r="1.6"/><circle cx="288.39" cy="95.94" r="1.6"/><circle cx="289.01" cy="95.86" r="1.6"/><circle cx="290.53" cy="95.48" r="1.6"/><circle cx="290.96" cy="95.16" r="1.6"/><circle cx="292.23" cy="93.16" r="1.6"/><circle cx="293.29" cy="92.03" r="1.6"/><circle cx="243.94" cy="143.99" r="1.6"/><circle cx="245.41" cy="144.28" r="1.6"/><circle cx="247.24" cy="144.31" r="1.6"/><circle cx="249.05" cy="143.67" r="1.6"/><circle cx="249.27" cy="143.95" r="1.6"/><circle cx="250.89" cy="143.26" r="1.6"/><circle cx="252.48" cy="142.25" r="1.6"/><circle cx="253.53" cy="142.2" r="1.6"/><circle cx="254.94" cy="141.36" r="1.6"/><circle cx="256.15" cy="140.57" r="1.6"/><circle cx="257.67" cy="139.73" r="1.6"/><circle cx="257.84" cy="138.98" r="1.6"/><circle cx="259.41" cy="138.31" r="1.6"/><circle cx="260.76" cy="137.76" r="1.6"/><circle cx="261.68" cy="138.18" r="1.6"/><circle cx="262.77" cy="140.12" r="1.6"/><circle cx="263.3" cy="140.28" r="1.6"/><circle cx="265.29" cy="139.76" r="1.6"/><circle cx="265.9" cy="139.44" r="1.6"/><circle cx="267.45" cy="138.84" r="1.6"/><circle cx="269.28" cy="137.31" r="1.6"/><circle cx="269.85" cy="136.99" r="1.6"/><circle cx="270.78" cy="136.04" r="1.6"/><circle cx="271.9" cy="134.53" r="1.6"/><circle cx="272.8" cy="133.8" r="1.6"/><circle cx="273.79" cy="132.61" r="1.6"/><circle cx="273.67" cy="131.67" r="1.6"/><circle cx="275.03" cy="131.31" r="1.6"/><circle cx="276.05" cy="130.15" r="1.6"/><circle cx="275.99" cy="128.17" r="1.6"/><circle cx="277.13" cy="126.5" r="1.6"/><circle cx="278.11" cy="126.08" r="1.6"/><circle cx="278.87" cy="124.62" r="1.6"/><circle cx="280.06" cy="123.66" r="1.6"/><circle cx="281.16" cy="124.31" r="1.6"/><circle cx="281.3" cy="123.55" r="1.6"/><circle cx="283.27" cy="121.22" r="1.6"/><circle cx="284.36" cy="120.26" r="1.6"/><circle cx="284.18" cy="120.37" r="1.6"/><circle cx="285.86" cy="119.44" r="1.6"/><circle cx="286.2" cy="117.51" r="1.6"/><circle cx="287.24" cy="116.01" r="1.6"/><circle cx="288.18" cy="114.88" r="1.6"/><circle cx="288.47" cy="113.54" r="1.6"/><circle cx="288.72" cy="113.6" r="1.6"/><circle cx="290.11" cy="111.98" r="1.6"/><circle cx="290.98" cy="110.61" r="1.6"/><circle cx="290.59" cy="110.19" r="1.6"/><circle cx="291.58" cy="108.67" r="1.6"/><circle cx="292.65" cy="107.58" r="1.6"/><circle cx="293.19" cy="106.46" r="1.6"/><circle cx="293.38" cy="105.04" r="1.6"/><circle cx="293.61" cy="104.14" r="1.6"/><circle cx="293.5" cy="103.43" r="1.6"/><circle cx="294.78" cy="100.53" r="1.6"/><circle cx="293.86" cy="100.74" r="1.6"/><circle cx="294.96" cy="98.81" r="1.6"/><circle cx="295.07" cy="97.94" r="1.6"/><circle cx="295.5" cy="96.01" r="1.6"/><circle cx="295.85" cy="94.85" r="1.6"/></g><g fill="#0072BD"><circle cx="243" cy="140.71" r="1.6"/><circle cx="244.05" cy="133.67" r="1.6"/><circle cx="245.6" cy="128.42" r="1.6"/><circle cx="247.1" cy="125.21" r="1.6"/><circle cx="248.83" cy="121.08" r="1.6"/><circle cx="251.76" cy="119.61" r="1.6"/><circle cx="253.75" cy="116.44" r="1.6"/><circle cx="255.67" cy="112.79" r="1.6"/><circle cx="258.75" cy="110.35" r="1.6"/><circle cx="259.9" cy="108.83" r="1.6"/><circle cx="268" cy="106" r="1.6"/><circle cx="270.21" cy="104.78" r="1.6"/><circle cx="271.75" cy="102.59" r="1.6"/><circle cx="276.68" cy="99.7" r="1.6"/><circle cx="277.42" cy="98.09" r="1.6"/><circle cx="284.49" cy="96" r="1.6"/><circle cx="287.45" cy="95.3" r="1.6"/><circle cx="291.72" cy="90.33" r="1.6"/><circle cx="249.34" cy="144.62" r="1.6"/><circle cx="249.17" cy="146.08" r="1.6"/><circle cx="255.35" cy="143.03" r="1.6"/><circle cx="251.03" cy="144.06" r="1.6"/><circle cx="260.77" cy="139.18" r="1.6"/><circle cx="262.14" cy="139.85" r="1.6"/><circle cx="264.29" cy="140.71" r="1.6"/><circle cx="270.71" cy="139.5" r="1.6"/><circle cx="265.25" cy="141.29" r="1.6"/><circle cx="272.43" cy="136.5" r="1.6"/><circle cx="275.41" cy="134.51" r="1.6"/><circle cx="275.35" cy="132.68" r="1.6"/><circle cx="276.61" cy="132" r="1.6"/><circle cx="280.33" cy="126.74" r="1.6"/><circle cx="282.56" cy="124.19" r="1.6"/><circle cx="286.97" cy="119.71" r="1.6"/><circle cx="288.93" cy="119.47" r="1.6"/><circle cx="289.35" cy="117.19" r="1.6"/><circle cx="290.88" cy="113.45" r="1.6"/><circle cx="295.45" cy="104.5" r="1.6"/><circle cx="293.9" cy="106.03" r="1.6"/><circle cx="294.23" cy="108.77" r="1.6"/><circle cx="295.95" cy="99.74" r="1.6"/></g><g fill="#0072BD"><circle cx="281.99" cy="85.82" r="1.6"/><circle cx="267.82" cy="94" r="1.6"/><circle cx="272.18" cy="96.72" r="1.6"/><circle cx="280.36" cy="94" r="1.6"/><circle cx="284.72" cy="92.36" r="1.6"/><circle cx="289.08" cy="91.81" r="1.6"/><circle cx="293.44" cy="89.09" r="1.6"/><circle cx="294.53" cy="108.17" r="1.6"/><circle cx="293.44" cy="111.99" r="1.6"/><circle cx="286.9" cy="121.8" r="1.6"/><circle cx="279.81" cy="134.89" r="1.6"/><circle cx="274.91" cy="133.25" r="1.6"/><circle cx="267.27" cy="139.8" r="1.6"/><circle cx="296.72" cy="97.81" r="1.6"/><circle cx="367.68" cy="20.12" r="1.6"/><circle cx="311.84" cy="32.37" r="1.6"/><circle cx="340" cy="38" r="1.6"/><circle cx="358.86" cy="36.78" r="1.6"/><circle cx="361.31" cy="37.27" r="1.6"/><circle cx="326.53" cy="43.39" r="1.6"/><circle cx="322.86" cy="45.84" r="1.6"/><circle cx="352.25" cy="45.1" r="1.6"/><circle cx="346.13" cy="51.23" r="1.6"/><circle cx="340.49" cy="53.68" r="1.6"/><circle cx="336.82" cy="56.86" r="1.6"/><circle cx="331.43" cy="59.31" r="1.6"/><circle cx="327.27" cy="56.86" r="1.6"/><circle cx="302.04" cy="61.02" r="1.6"/><circle cx="351.03" cy="62.49" r="1.6"/><circle cx="335.11" cy="64.21" r="1.6"/><circle cx="328.49" cy="65.43" r="1.6"/><circle cx="324.09" cy="64.21" r="1.6"/><circle cx="319.19" cy="66.66" r="1.6"/><circle cx="315.51" cy="66.66" r="1.6"/><circle cx="317.96" cy="69.84" r="1.6"/><circle cx="311.35" cy="71.56" r="1.6"/><circle cx="301.31" cy="70.82" r="1.6"/><circle cx="304.49" cy="83.8" r="1.6"/><circle cx="300.82" cy="82.58" r="1.6"/><circle cx="314.29" cy="78.9" r="1.6"/><circle cx="319.19" cy="78.9" r="1.6"/><circle cx="326.53" cy="78.17" r="1.6"/><circle cx="324.09" cy="83.07" r="1.6"/><circle cx="316.74" cy="82.58" r="1.6"/><circle cx="325.31" cy="87.48" r="1.6"/><circle cx="313.06" cy="87.48" r="1.6"/><circle cx="304.49" cy="89.92" r="1.6"/><circle cx="358.86" cy="88.7" r="1.6"/><circle cx="282.45" cy="86.25" r="1.6"/><circle cx="289.8" cy="89.92" r="1.6"/><circle cx="292.25" cy="92.37" r="1.6"/><circle cx="294.7" cy="89.92" r="1.6"/><circle cx="297.14" cy="92.37" r="1.6"/><circle cx="286.12" cy="94.82" r="1.6"/><circle cx="302.04" cy="94.82" r="1.6"/><circle cx="306.94" cy="97.27" r="1.6"/><circle cx="298.37" cy="99.72" r="1.6"/><circle cx="304.49" cy="102.17" r="1.6"/><circle cx="308.17" cy="107.07" r="1.6"/><circle cx="293.47" cy="107.07" r="1.6"/><circle cx="302.04" cy="116.87" r="1.6"/><circle cx="306.94" cy="110.74" r="1.6"/><circle cx="279.91" cy="92.92" r="1.6"/><circle cx="285.27" cy="92.16" r="1.6"/><circle cx="288.33" cy="92.16" r="1.6"/><circle cx="292.16" cy="89.86" r="1.6"/><circle cx="295.22" cy="89.86" r="1.6"/><circle cx="282.21" cy="86.03" r="1.6"/><circle cx="267.66" cy="93.69" r="1.6"/><circle cx="272.25" cy="96.75" r="1.6"/><circle cx="276.85" cy="99.82" r="1.6"/><circle cx="282.97" cy="99.05" r="1.6"/><circle cx="290.63" cy="99.82" r="1.6"/><circle cx="296.75" cy="100.58" r="1.6"/><circle cx="301.35" cy="95.99" r="1.6"/><circle cx="305.94" cy="96.75" r="1.6"/><circle cx="309" cy="101.35" r="1.6"/><circle cx="302.88" cy="105.94" r="1.6"/><circle cx="305.94" cy="110.54" r="1.6"/><circle cx="299.82" cy="110.54" r="1.6"/><circle cx="292.16" cy="107.47" r="1.6"/><circle cx="295.22" cy="113.6" r="1.6"/><circle cx="301.35" cy="115.9" r="1.6"/><circle cx="310.54" cy="70.72" r="1.6"/><circle cx="315.13" cy="66.13" r="1.6"/><circle cx="313.6" cy="79.14" r="1.6"/><circle cx="316.66" cy="82.97" r="1.6"/><circle cx="310.54" cy="82.21" r="1.6"/><circle cx="313.6" cy="87.57" r="1.6"/><circle cx="312.83" cy="92.16" r="1.6"/><circle cx="304.41" cy="89.1" r="1.6"/><circle cx="300.58" cy="82.97" r="1.6"/><circle cx="301.35" cy="70.72" r="1.6"/><circle cx="302.11" cy="61.53" r="1.6"/><circle cx="302.29" cy="61.02" r="1.6"/><circle cx="301.27" cy="70.2" r="1.6"/><circle cx="310.45" cy="71.22" r="1.6"/><circle cx="316.57" cy="67.14" r="1.6"/><circle cx="314.53" cy="79.39" r="1.6"/><circle cx="281.88" cy="85.51" r="1.6"/><circle cx="268.61" cy="93.67" r="1.6"/><circle cx="284.94" cy="92.65" r="1.6"/><circle cx="288.61" cy="91.63" r="1.6"/><circle cx="292.08" cy="89.59" r="1.6"/><circle cx="295.14" cy="90.61" r="1.6"/><circle cx="299.22" cy="85.51" r="1.6"/><circle cx="304.33" cy="83.47" r="1.6"/><circle cx="305.35" cy="88.57" r="1.6"/><circle cx="312.49" cy="86.53" r="1.6"/><circle cx="313.92" cy="92.65" r="1.6"/><circle cx="308.41" cy="101.84" r="1.6"/><circle cx="303.31" cy="105.92" r="1.6"/><circle cx="300.24" cy="96.73" r="1.6"/><circle cx="297.18" cy="98.78" r="1.6"/><circle cx="305.35" cy="108.98" r="1.6"/><circle cx="293.1" cy="108.98" r="1.6"/><circle cx="295.14" cy="112.04" r="1.6"/><circle cx="289.02" cy="121.22" r="1.6"/><circle cx="301.27" cy="115.1" r="1.6"/><circle cx="291.06" cy="117.14" r="1.6"/><circle cx="278.82" cy="127.35" r="1.6"/><circle cx="280.86" cy="133.47" r="1.6"/><circle cx="266.57" cy="139.59" r="1.6"/><circle cx="274.73" cy="132.45" r="1.6"/></g><line x1="238.3" y1="149.9" x2="374.9" y2="14" stroke="#141414" stroke-width="1.2"/><line x1="238.3" y1="14" x2="238.3" y2="150.2" stroke="#808080" stroke-width="0.6"/><line x1="238" y1="149.9" x2="374.9" y2="149.9" stroke="#808080" stroke-width="0.6"/><line x1="238.3" y1="144.5" x2="239.8" y2="144.5" stroke="#808080" stroke-width="0.5"/><line x1="244.4" y1="149.9" x2="244.4" y2="148.4" stroke="#808080" stroke-width="0.5"/><text transform="translate(236 146.84) scale(1 1.15)" font-size="6.5" text-anchor="end" fill="#4d4d4d" font-family="Liberation Sans, sans-serif" >0</text><text transform="translate(244.4 159.6) scale(1 1.15)" font-size="6.5" text-anchor="middle" fill="#4d4d4d" font-family="Liberation Sans, sans-serif" >0</text><line x1="238.3" y1="119.56" x2="239.8" y2="119.56" stroke="#808080" stroke-width="0.5"/><line x1="269.3" y1="149.9" x2="269.3" y2="148.4" stroke="#808080" stroke-width="0.5"/><text transform="translate(236 121.9) scale(1 1.15)" font-size="6.5" text-anchor="end" fill="#4d4d4d" font-family="Liberation Sans, sans-serif" >100</text><text transform="translate(269.3 159.6) scale(1 1.15)" font-size="6.5" text-anchor="middle" fill="#4d4d4d" font-family="Liberation Sans, sans-serif" >100</text><line x1="238.3" y1="94.62" x2="239.8" y2="94.62" stroke="#808080" stroke-width="0.5"/><line x1="294.2" y1="149.9" x2="294.2" y2="148.4" stroke="#808080" stroke-width="0.5"/><text transform="translate(236 96.96) scale(1 1.15)" font-size="6.5" text-anchor="end" fill="#4d4d4d" font-family="Liberation Sans, sans-serif" >200</text><text transform="translate(294.2 159.6) scale(1 1.15)" font-size="6.5" text-anchor="middle" fill="#4d4d4d" font-family="Liberation Sans, sans-serif" >200</text><line x1="238.3" y1="69.68" x2="239.8" y2="69.68" stroke="#808080" stroke-width="0.5"/><line x1="319.1" y1="149.9" x2="319.1" y2="148.4" stroke="#808080" stroke-width="0.5"/><text transform="translate(236 72.02) scale(1 1.15)" font-size="6.5" text-anchor="end" fill="#4d4d4d" font-family="Liberation Sans, sans-serif" >300</text><text transform="translate(319.1 159.6) scale(1 1.15)" font-size="6.5" text-anchor="middle" fill="#4d4d4d" font-family="Liberation Sans, sans-serif" >300</text><line x1="238.3" y1="44.74" x2="239.8" y2="44.74" stroke="#808080" stroke-width="0.5"/><line x1="344" y1="149.9" x2="344" y2="148.4" stroke="#808080" stroke-width="0.5"/><text transform="translate(236 47.08) scale(1 1.15)" font-size="6.5" text-anchor="end" fill="#4d4d4d" font-family="Liberation Sans, sans-serif" >400</text><text transform="translate(344 159.6) scale(1 1.15)" font-size="6.5" text-anchor="middle" fill="#4d4d4d" font-family="Liberation Sans, sans-serif" >400</text><line x1="238.3" y1="19.8" x2="239.8" y2="19.8" stroke="#808080" stroke-width="0.5"/><line x1="368.9" y1="149.9" x2="368.9" y2="148.4" stroke="#808080" stroke-width="0.5"/><text transform="translate(236 22.14) scale(1 1.15)" font-size="6.5" text-anchor="end" fill="#4d4d4d" font-family="Liberation Sans, sans-serif" >500</text><text transform="translate(368.9 159.6) scale(1 1.15)" font-size="6.5" text-anchor="middle" fill="#4d4d4d" font-family="Liberation Sans, sans-serif" >500</text><text x="306.3" y="12" font-size="7.27" text-anchor="middle" font-weight="bold" fill="#1a1a1a" font-family="Liberation Sans, sans-serif" >Predictions: model Interactions Linear</text><text transform="translate(306.5 168.8) scale(1 1.15)" font-size="7" text-anchor="middle" fill="#404040" font-family="Liberation Sans, sans-serif" >True response</text><text x="0" y="0" font-size="7.17" text-anchor="middle" fill="#404040" font-family="Liberation Sans, sans-serif" transform="translate(220.4 81.8) rotate(-90) scale(1 1.15)">Predicted response</text><rect x="296.7" y="125.3" width="75.3" height="17.4" fill="#ffffff" stroke="#9a9a9a" stroke-width="0.6"/><g fill="#0072BD"><circle cx="308.4" cy="130.4" r="1.6"/></g><line x1="298.8" y1="138.5" x2="318.2" y2="138.5" stroke="#303030" stroke-width="1"/><text transform="translate(320.2 132.45) scale(1 1.15)" font-size="5.7" text-anchor="start" fill="#222" font-family="Liberation Sans, sans-serif" >Observations</text><text transform="translate(320.2 140.55) scale(1 1.15)" font-size="5.7" text-anchor="start" fill="#222" font-family="Liberation Sans, sans-serif" >Perfect prediction</text><text x="296.7" y="179.8" font-size="7.4" text-anchor="middle" fill="#222" font-family="Liberation Serif, serif">(<tspan font-weight="bold">b</tspan>)</text><rect x="207.7" y="182" width="178.2" height="174" fill="#ebebeb"/><rect x="229.5" y="195.7" width="154.1" height="141.5" fill="#ffffff"/><line x1="229.5" y1="331.7" x2="383.6" y2="331.7" stroke="#ececec" stroke-width="0.5"/><line x1="236.4" y1="195.7" x2="236.4" y2="337.2" stroke="#ececec" stroke-width="0.5"/><line x1="229.5" y1="305.9" x2="383.6" y2="305.9" stroke="#ececec" stroke-width="0.5"/><line x1="264.4" y1="195.7" x2="264.4" y2="337.2" stroke="#ececec" stroke-width="0.5"/><line x1="229.5" y1="280.1" x2="383.6" y2="280.1" stroke="#ececec" stroke-width="0.5"/><line x1="292.4" y1="195.7" x2="292.4" y2="337.2" stroke="#ececec" stroke-width="0.5"/><line x1="229.5" y1="254.3" x2="383.6" y2="254.3" stroke="#ececec" stroke-width="0.5"/><line x1="320.4" y1="195.7" x2="320.4" y2="337.2" stroke="#ececec" stroke-width="0.5"/><line x1="229.5" y1="228.5" x2="383.6" y2="228.5" stroke="#ececec" stroke-width="0.5"/><line x1="348.4" y1="195.7" x2="348.4" y2="337.2" stroke="#ececec" stroke-width="0.5"/><line x1="229.5" y1="202.7" x2="383.6" y2="202.7" stroke="#ececec" stroke-width="0.5"/><line x1="376.4" y1="195.7" x2="376.4" y2="337.2" stroke="#ececec" stroke-width="0.5"/><path fill="#1C72DA" d="M235.99 330.99 L236.89 322.79 L239.19 317.39 L242.79 312.79 L245.49 310.09 L249.19 307.39 L252.79 303.69 L255.49 300.99 L259.19 298.29 L262.79 296.49 L264.99 294.59 L268.39 290.19 L273.29 287.69 L278.29 285.19 L283.19 281.49 L286.89 280.29 L291.89 278.99 L295.59 275.29 L297.99 271.59 L298.51 274.61 L296.01 279.51 L293.61 285.71 L292.31 291.91 L288.61 295.61 L283.71 300.51 L278.81 307.91 L275.01 312.91 L270.11 317.81 L263.91 322.71 L259.91 324.51 L256.31 325.41 L252.61 327.61 L247.21 329.01 L240.81 330.41 L234.51 331.71 Z"/><g fill="#1C72DA"><circle cx="236.56" cy="330.16" r="1.55"/><circle cx="236.28" cy="329" r="1.55"/><circle cx="235.99" cy="326.9" r="1.55"/><circle cx="236.99" cy="325.89" r="1.55"/><circle cx="236.17" cy="324.91" r="1.55"/><circle cx="236.66" cy="324.01" r="1.55"/><circle cx="237.09" cy="322.12" r="1.55"/><circle cx="238.39" cy="320.3" r="1.55"/><circle cx="238.27" cy="319.42" r="1.55"/><circle cx="239.13" cy="317.88" r="1.55"/><circle cx="238.99" cy="317.54" r="1.55"/><circle cx="240.65" cy="315.78" r="1.55"/><circle cx="241.11" cy="314.09" r="1.55"/><circle cx="242.41" cy="313.6" r="1.55"/><circle cx="243.04" cy="312.7" r="1.55"/><circle cx="243.46" cy="311.48" r="1.55"/><circle cx="245.39" cy="310.04" r="1.55"/><circle cx="245.54" cy="309.6" r="1.55"/><circle cx="247.5" cy="309.22" r="1.55"/><circle cx="249.28" cy="307.84" r="1.55"/><circle cx="248.74" cy="306.88" r="1.55"/><circle cx="250.35" cy="306.61" r="1.55"/><circle cx="251.43" cy="304.69" r="1.55"/><circle cx="253.07" cy="303.51" r="1.55"/><circle cx="253.41" cy="303.35" r="1.55"/><circle cx="253.99" cy="302.21" r="1.55"/><circle cx="255.37" cy="301.32" r="1.55"/><circle cx="255.25" cy="301.26" r="1.55"/><circle cx="258.1" cy="299.42" r="1.55"/><circle cx="258.03" cy="298.44" r="1.55"/><circle cx="259.82" cy="297.83" r="1.55"/><circle cx="260.43" cy="297.4" r="1.55"/><circle cx="262.4" cy="296.13" r="1.55"/><circle cx="263.67" cy="295.9" r="1.55"/><circle cx="264.53" cy="294.9" r="1.55"/><circle cx="264.82" cy="294.41" r="1.55"/><circle cx="266.31" cy="293.23" r="1.55"/><circle cx="267.41" cy="290.85" r="1.55"/><circle cx="267.66" cy="290.15" r="1.55"/><circle cx="268.68" cy="290.44" r="1.55"/><circle cx="269.52" cy="289.9" r="1.55"/><circle cx="271.21" cy="288.73" r="1.55"/><circle cx="272.92" cy="287.4" r="1.55"/><circle cx="273.89" cy="286.84" r="1.55"/><circle cx="274.63" cy="286.51" r="1.55"/><circle cx="276.33" cy="286.26" r="1.55"/><circle cx="277.9" cy="285.06" r="1.55"/><circle cx="279.13" cy="285.38" r="1.55"/><circle cx="280.49" cy="283.81" r="1.55"/><circle cx="281.11" cy="282.66" r="1.55"/><circle cx="280.99" cy="283.23" r="1.55"/><circle cx="282.41" cy="282.03" r="1.55"/><circle cx="283.56" cy="281.8" r="1.55"/><circle cx="285.86" cy="280.55" r="1.55"/><circle cx="286.15" cy="280.86" r="1.55"/><circle cx="287.16" cy="279.75" r="1.55"/><circle cx="289.13" cy="280.07" r="1.55"/><circle cx="289.6" cy="279.54" r="1.55"/><circle cx="292.03" cy="278.89" r="1.55"/><circle cx="292.41" cy="278.78" r="1.55"/><circle cx="293.58" cy="277.19" r="1.55"/><circle cx="294.45" cy="277.24" r="1.55"/><circle cx="294.45" cy="275.56" r="1.55"/><circle cx="295.8" cy="274.47" r="1.55"/><circle cx="296.87" cy="273.45" r="1.55"/><circle cx="297.58" cy="271.82" r="1.55"/><circle cx="235.2" cy="331.04" r="1.55"/><circle cx="236.79" cy="331.65" r="1.55"/><circle cx="238.42" cy="330.48" r="1.55"/><circle cx="237.99" cy="331.27" r="1.55"/><circle cx="239.78" cy="330.96" r="1.55"/><circle cx="241.05" cy="330.85" r="1.55"/><circle cx="242.93" cy="329.9" r="1.55"/><circle cx="244.28" cy="330.11" r="1.55"/><circle cx="245.29" cy="329.66" r="1.55"/><circle cx="246.91" cy="328.99" r="1.55"/><circle cx="248.63" cy="328.65" r="1.55"/><circle cx="249.69" cy="328.5" r="1.55"/><circle cx="250.62" cy="328.45" r="1.55"/><circle cx="252.21" cy="328.13" r="1.55"/><circle cx="252.6" cy="327.76" r="1.55"/><circle cx="254.71" cy="326.87" r="1.55"/><circle cx="255.33" cy="325.22" r="1.55"/><circle cx="256.49" cy="325.18" r="1.55"/><circle cx="257.76" cy="324.53" r="1.55"/><circle cx="260.21" cy="324.61" r="1.55"/><circle cx="260.28" cy="324.37" r="1.55"/><circle cx="262.28" cy="324.25" r="1.55"/><circle cx="263.94" cy="322.37" r="1.55"/><circle cx="263.86" cy="322.16" r="1.55"/><circle cx="265.97" cy="321.95" r="1.55"/><circle cx="266.64" cy="319.96" r="1.55"/><circle cx="266.77" cy="319.71" r="1.55"/><circle cx="268.35" cy="319.22" r="1.55"/><circle cx="269.78" cy="317.93" r="1.55"/><circle cx="271.06" cy="317.35" r="1.55"/><circle cx="271.51" cy="316.12" r="1.55"/><circle cx="272.07" cy="315.95" r="1.55"/><circle cx="273.67" cy="315.15" r="1.55"/><circle cx="275.25" cy="313.04" r="1.55"/><circle cx="274.87" cy="313.02" r="1.55"/><circle cx="276.06" cy="310.34" r="1.55"/><circle cx="276.62" cy="310.68" r="1.55"/><circle cx="277.79" cy="309.61" r="1.55"/><circle cx="278.54" cy="307.77" r="1.55"/><circle cx="279.5" cy="307.84" r="1.55"/><circle cx="279.57" cy="306.04" r="1.55"/><circle cx="281.31" cy="305.55" r="1.55"/><circle cx="280.83" cy="305.23" r="1.55"/><circle cx="282.54" cy="302.82" r="1.55"/><circle cx="282.87" cy="302.32" r="1.55"/><circle cx="283.24" cy="301.07" r="1.55"/><circle cx="285.16" cy="300.05" r="1.55"/><circle cx="285.33" cy="298.7" r="1.55"/><circle cx="286.61" cy="297.85" r="1.55"/><circle cx="287.11" cy="296.9" r="1.55"/><circle cx="288.51" cy="295.41" r="1.55"/><circle cx="288.95" cy="295" r="1.55"/><circle cx="289.43" cy="293.86" r="1.55"/><circle cx="291.75" cy="292.79" r="1.55"/><circle cx="292.69" cy="292.62" r="1.55"/><circle cx="292.18" cy="291.28" r="1.55"/><circle cx="293.11" cy="289.66" r="1.55"/><circle cx="292.94" cy="288.46" r="1.55"/><circle cx="292.95" cy="287.57" r="1.55"/><circle cx="293.4" cy="287.01" r="1.55"/><circle cx="294.19" cy="285.46" r="1.55"/><circle cx="294.08" cy="284.35" r="1.55"/><circle cx="294.18" cy="282.21" r="1.55"/><circle cx="294.95" cy="280.82" r="1.55"/><circle cx="296.36" cy="280.21" r="1.55"/><circle cx="295.53" cy="279.6" r="1.55"/><circle cx="296.85" cy="276.98" r="1.55"/><circle cx="297.22" cy="276.64" r="1.55"/><circle cx="298.15" cy="274.13" r="1.55"/></g><g fill="#1C72DA"><circle cx="235.74" cy="324.42" r="1.55"/><circle cx="234.8" cy="327.77" r="1.55"/><circle cx="237.94" cy="316.25" r="1.55"/><circle cx="236.17" cy="319.63" r="1.55"/><circle cx="238.44" cy="315.31" r="1.55"/><circle cx="240.5" cy="312.95" r="1.55"/><circle cx="243.94" cy="309.64" r="1.55"/><circle cx="244.18" cy="308.13" r="1.55"/><circle cx="248.68" cy="303.58" r="1.55"/><circle cx="251.2" cy="301.53" r="1.55"/><circle cx="256.68" cy="297.89" r="1.55"/><circle cx="257.99" cy="296.4" r="1.55"/><circle cx="263.01" cy="293.6" r="1.55"/><circle cx="264.82" cy="290.73" r="1.55"/><circle cx="270.01" cy="287.3" r="1.55"/><circle cx="272.79" cy="285.79" r="1.55"/><circle cx="278.88" cy="281.05" r="1.55"/><circle cx="281.59" cy="279.93" r="1.55"/><circle cx="283.35" cy="280.04" r="1.55"/><circle cx="288.18" cy="277.61" r="1.55"/><circle cx="291.02" cy="276.29" r="1.55"/><circle cx="296.67" cy="270.27" r="1.55"/><circle cx="241.81" cy="331.88" r="1.55"/><circle cx="240.68" cy="332.92" r="1.55"/><circle cx="243.36" cy="331.37" r="1.55"/><circle cx="247.92" cy="329.84" r="1.55"/><circle cx="250.32" cy="330.03" r="1.55"/><circle cx="257.06" cy="327.66" r="1.55"/><circle cx="261.41" cy="326.33" r="1.55"/><circle cx="260.74" cy="325.33" r="1.55"/><circle cx="265.52" cy="323.91" r="1.55"/><circle cx="265.61" cy="324.11" r="1.55"/><circle cx="274.24" cy="315.74" r="1.55"/><circle cx="275.66" cy="314.97" r="1.55"/><circle cx="279.93" cy="309.38" r="1.55"/><circle cx="278.92" cy="311.36" r="1.55"/><circle cx="282.02" cy="307.89" r="1.55"/><circle cx="279.93" cy="308.98" r="1.55"/><circle cx="282.46" cy="307.62" r="1.55"/><circle cx="286.93" cy="298.82" r="1.55"/><circle cx="286.83" cy="300.7" r="1.55"/><circle cx="292.48" cy="293.5" r="1.55"/><circle cx="294.64" cy="288.4" r="1.55"/><circle cx="294.36" cy="290.03" r="1.55"/><circle cx="296.91" cy="285.24" r="1.55"/><circle cx="297.95" cy="282.15" r="1.55"/><circle cx="299.65" cy="277.7" r="1.55"/></g><g fill="#1C72DA"><circle cx="244.09" cy="307.27" r="1.55"/><circle cx="250.91" cy="298.64" r="1.55"/><circle cx="252.27" cy="296.36" r="1.55"/><circle cx="257.27" cy="290.91" r="1.55"/><circle cx="259.55" cy="294.09" r="1.55"/><circle cx="262.73" cy="293.64" r="1.55"/><circle cx="261.36" cy="327.27" r="1.55"/><circle cx="273.58" cy="281.14" r="1.55"/><circle cx="272.96" cy="284.84" r="1.55"/><circle cx="282.22" cy="277.43" r="1.55"/><circle cx="290.25" cy="265.7" r="1.55"/><circle cx="285.93" cy="270.64" r="1.55"/><circle cx="293.95" cy="270.64" r="1.55"/><circle cx="297.04" cy="267.56" r="1.55"/><circle cx="286.54" cy="308.91" r="1.55"/><circle cx="279.14" cy="308.91" r="1.55"/><circle cx="276.05" cy="323.11" r="1.55"/><circle cx="261.23" cy="326.81" r="1.55"/><circle cx="299.51" cy="302.12" r="1.55"/><circle cx="292.1" cy="296.57" r="1.55"/><circle cx="312.36" cy="214.59" r="1.55"/><circle cx="357.45" cy="214.59" r="1.55"/><circle cx="365.68" cy="220.69" r="1.55"/><circle cx="374.96" cy="220.69" r="1.55"/><circle cx="337.03" cy="234.48" r="1.55"/><circle cx="329.6" cy="241.11" r="1.55"/><circle cx="343.66" cy="239.79" r="1.55"/><circle cx="344.46" cy="241.11" r="1.55"/><circle cx="350.29" cy="241.91" r="1.55"/><circle cx="356.92" cy="240.58" r="1.55"/><circle cx="368.33" cy="239.79" r="1.55"/><circle cx="338.89" cy="243.77" r="1.55"/><circle cx="334.38" cy="244.3" r="1.55"/><circle cx="301.22" cy="244.3" r="1.55"/><circle cx="323.77" cy="246.42" r="1.55"/><circle cx="319.26" cy="249.07" r="1.55"/><circle cx="327.75" cy="250.4" r="1.55"/><circle cx="321.11" cy="251.72" r="1.55"/><circle cx="315.81" cy="257.03" r="1.55"/><circle cx="311.83" cy="259.68" r="1.55"/><circle cx="318.46" cy="264.99" r="1.55"/><circle cx="299.89" cy="263.66" r="1.55"/><circle cx="303.87" cy="264.99" r="1.55"/><circle cx="290.61" cy="266.31" r="1.55"/><circle cx="295.92" cy="268.97" r="1.55"/><circle cx="285.31" cy="271.09" r="1.55"/><circle cx="293.26" cy="271.09" r="1.55"/><circle cx="313.16" cy="271.09" r="1.55"/><circle cx="321.11" cy="269.5" r="1.55"/><circle cx="327.75" cy="270.29" r="1.55"/><circle cx="330.4" cy="267.64" r="1.55"/><circle cx="364.88" cy="268.17" r="1.55"/><circle cx="305.2" cy="275.6" r="1.55"/><circle cx="306.53" cy="279.58" r="1.55"/><circle cx="295.92" cy="278.25" r="1.55"/><circle cx="287.96" cy="278.25" r="1.55"/><circle cx="282.65" cy="276.92" r="1.55"/><circle cx="293.26" cy="282.23" r="1.55"/><circle cx="301.22" cy="286.21" r="1.55"/><circle cx="289.28" cy="288.86" r="1.55"/><circle cx="301.22" cy="292.84" r="1.55"/><circle cx="306.53" cy="295.49" r="1.55"/><circle cx="299.89" cy="302.12" r="1.55"/><circle cx="326.42" cy="298.14" r="1.55"/><circle cx="286.63" cy="298.14" r="1.55"/><circle cx="291.94" cy="294.16" r="1.55"/><circle cx="257.3" cy="290.58" r="1.55"/><circle cx="261.89" cy="292.11" r="1.55"/><circle cx="265.72" cy="289.82" r="1.55"/><circle cx="269.55" cy="291.35" r="1.55"/><circle cx="273.38" cy="286.75" r="1.55"/><circle cx="273.38" cy="281.39" r="1.55"/><circle cx="277.97" cy="282.92" r="1.55"/><circle cx="281.8" cy="277.57" r="1.55"/><circle cx="285.63" cy="280.63" r="1.55"/><circle cx="285.63" cy="269.91" r="1.55"/><circle cx="290.22" cy="266.08" r="1.55"/><circle cx="294.05" cy="270.67" r="1.55"/><circle cx="295.58" cy="267.61" r="1.55"/><circle cx="299.41" cy="269.14" r="1.55"/><circle cx="300.18" cy="263.02" r="1.55"/><circle cx="304" cy="264.55" r="1.55"/><circle cx="304" cy="275.27" r="1.55"/><circle cx="306.3" cy="276.03" r="1.55"/><circle cx="307.83" cy="280.63" r="1.55"/><circle cx="300.94" cy="279.86" r="1.55"/><circle cx="297.11" cy="279.86" r="1.55"/><circle cx="293.28" cy="279.1" r="1.55"/><circle cx="290.22" cy="282.16" r="1.55"/><circle cx="294.82" cy="285.22" r="1.55"/><circle cx="300.94" cy="285.99" r="1.55"/><circle cx="300.94" cy="292.11" r="1.55"/><circle cx="307.07" cy="295.94" r="1.55"/><circle cx="300.18" cy="299" r="1.55"/><circle cx="299.41" cy="302.83" r="1.55"/><circle cx="291.75" cy="296.71" r="1.55"/><circle cx="287.16" cy="300.54" r="1.55"/><circle cx="290.22" cy="294.41" r="1.55"/><circle cx="311.66" cy="259.95" r="1.55"/><circle cx="313.96" cy="270.67" r="1.55"/><circle cx="243.29" cy="307.76" r="1.55"/><circle cx="249.41" cy="296.53" r="1.55"/><circle cx="256.55" cy="290.41" r="1.55"/><circle cx="265.73" cy="289.39" r="1.55"/><circle cx="275.94" cy="324.08" r="1.55"/><circle cx="261.65" cy="327.14" r="1.55"/><circle cx="269.82" cy="323.06" r="1.55"/><circle cx="286.14" cy="308.78" r="1.55"/><circle cx="300.43" cy="300.61" r="1.55"/><circle cx="300.43" cy="292.45" r="1.55"/><circle cx="306.55" cy="296.53" r="1.55"/><circle cx="302.47" cy="285.31" r="1.55"/></g><line x1="229.5" y1="337.2" x2="383.6" y2="195.7" stroke="#000" stroke-width="1.9"/><line x1="229.5" y1="195.7" x2="229.5" y2="337.65" stroke="#3a3a3a" stroke-width="0.9"/><line x1="229.05" y1="337.2" x2="383.6" y2="337.2" stroke="#3a3a3a" stroke-width="0.9"/><line x1="229.5" y1="331.7" x2="228.3" y2="331.7" stroke="#3a3a3a" stroke-width="0.5"/><line x1="236.4" y1="337.2" x2="236.4" y2="338.4" stroke="#3a3a3a" stroke-width="0.5"/><text transform="translate(227.6 333.61) scale(1 1.15)" font-size="5.3" text-anchor="end" fill="#5a5a5a" font-family="Liberation Sans, sans-serif" >0</text><text transform="translate(236.4 344.8) scale(1 1.15)" font-size="5.3" text-anchor="middle" fill="#5a5a5a" font-family="Liberation Sans, sans-serif" >0</text><line x1="229.5" y1="305.9" x2="228.3" y2="305.9" stroke="#3a3a3a" stroke-width="0.5"/><line x1="264.4" y1="337.2" x2="264.4" y2="338.4" stroke="#3a3a3a" stroke-width="0.5"/><text transform="translate(227.6 307.81) scale(1 1.15)" font-size="5.3" text-anchor="end" fill="#5a5a5a" font-family="Liberation Sans, sans-serif" >100</text><text transform="translate(264.4 344.8) scale(1 1.15)" font-size="5.3" text-anchor="middle" fill="#5a5a5a" font-family="Liberation Sans, sans-serif" >100</text><line x1="229.5" y1="280.1" x2="228.3" y2="280.1" stroke="#3a3a3a" stroke-width="0.5"/><line x1="292.4" y1="337.2" x2="292.4" y2="338.4" stroke="#3a3a3a" stroke-width="0.5"/><text transform="translate(227.6 282.01) scale(1 1.15)" font-size="5.3" text-anchor="end" fill="#5a5a5a" font-family="Liberation Sans, sans-serif" >200</text><text transform="translate(292.4 344.8) scale(1 1.15)" font-size="5.3" text-anchor="middle" fill="#5a5a5a" font-family="Liberation Sans, sans-serif" >200</text><line x1="229.5" y1="254.3" x2="228.3" y2="254.3" stroke="#3a3a3a" stroke-width="0.5"/><line x1="320.4" y1="337.2" x2="320.4" y2="338.4" stroke="#3a3a3a" stroke-width="0.5"/><text transform="translate(227.6 256.21) scale(1 1.15)" font-size="5.3" text-anchor="end" fill="#5a5a5a" font-family="Liberation Sans, sans-serif" >300</text><text transform="translate(320.4 344.8) scale(1 1.15)" font-size="5.3" text-anchor="middle" fill="#5a5a5a" font-family="Liberation Sans, sans-serif" >300</text><line x1="229.5" y1="228.5" x2="228.3" y2="228.5" stroke="#3a3a3a" stroke-width="0.5"/><line x1="348.4" y1="337.2" x2="348.4" y2="338.4" stroke="#3a3a3a" stroke-width="0.5"/><text transform="translate(227.6 230.41) scale(1 1.15)" font-size="5.3" text-anchor="end" fill="#5a5a5a" font-family="Liberation Sans, sans-serif" >400</text><text transform="translate(348.4 344.8) scale(1 1.15)" font-size="5.3" text-anchor="middle" fill="#5a5a5a" font-family="Liberation Sans, sans-serif" >400</text><line x1="229.5" y1="202.7" x2="228.3" y2="202.7" stroke="#3a3a3a" stroke-width="0.5"/><line x1="376.4" y1="337.2" x2="376.4" y2="338.4" stroke="#3a3a3a" stroke-width="0.5"/><text transform="translate(227.6 204.61) scale(1 1.15)" font-size="5.3" text-anchor="end" fill="#5a5a5a" font-family="Liberation Sans, sans-serif" >500</text><text transform="translate(376.4 344.8) scale(1 1.15)" font-size="5.3" text-anchor="middle" fill="#5a5a5a" font-family="Liberation Sans, sans-serif" >500</text><text x="297.9" y="191.2" font-size="7.41" text-anchor="middle" font-weight="bold" fill="#1a1a1a" font-family="Liberation Sans, sans-serif" >Predictions: model KNNR</text><text transform="translate(306.9 353.2) scale(1 1.15)" font-size="6.3" text-anchor="middle" fill="#222" font-family="Liberation Sans, sans-serif" >True response</text><text x="0" y="0" font-size="7.5" text-anchor="middle" fill="#222" font-family="Liberation Sans, sans-serif" transform="translate(215.5 266.4) rotate(-90) scale(1 1.15)">Predicted response</text><rect x="309.2" y="304.7" width="62.6" height="20.4" fill="#ffffff" stroke="#111" stroke-width="1.1"/><g fill="#1C72DA"><circle cx="319.4" cy="311.4" r="1.4"/></g><line x1="313.9" y1="318.6" x2="326.1" y2="318.6" stroke="#222" stroke-width="0.9"/><text transform="translate(329 313.42) scale(1 1.15)" font-size="5.6" text-anchor="start" fill="#222" font-family="Liberation Serif, serif" >Observation</text><text transform="translate(329 320.62) scale(1 1.15)" font-size="5.6" text-anchor="start" fill="#222" font-family="Liberation Serif, serif" >Perfect prediction</text><text x="297.3" y="364" font-size="7.4" text-anchor="middle" fill="#222" font-family="Liberation Serif, serif">(<tspan font-weight="bold">d</tspan>)</text><rect x="211.5" y="367" width="171.5" height="170" fill="#f0f0f0"/><rect x="237.8" y="379.1" width="137.1" height="136.2" fill="#ffffff"/><line x1="237.8" y1="509.1" x2="374.9" y2="509.1" stroke="#e6e6e6" stroke-width="0.5"/><line x1="244.7" y1="379.1" x2="244.7" y2="515.3" stroke="#e6e6e6" stroke-width="0.5"/><line x1="237.8" y1="486.94" x2="374.9" y2="486.94" stroke="#e6e6e6" stroke-width="0.5"/><line x1="266.8" y1="379.1" x2="266.8" y2="515.3" stroke="#e6e6e6" stroke-width="0.5"/><line x1="237.8" y1="464.78" x2="374.9" y2="464.78" stroke="#e6e6e6" stroke-width="0.5"/><line x1="288.9" y1="379.1" x2="288.9" y2="515.3" stroke="#e6e6e6" stroke-width="0.5"/><line x1="237.8" y1="442.62" x2="374.9" y2="442.62" stroke="#e6e6e6" stroke-width="0.5"/><line x1="311" y1="379.1" x2="311" y2="515.3" stroke="#e6e6e6" stroke-width="0.5"/><line x1="237.8" y1="420.46" x2="374.9" y2="420.46" stroke="#e6e6e6" stroke-width="0.5"/><line x1="333.1" y1="379.1" x2="333.1" y2="515.3" stroke="#e6e6e6" stroke-width="0.5"/><line x1="237.8" y1="398.3" x2="374.9" y2="398.3" stroke="#e6e6e6" stroke-width="0.5"/><line x1="355.2" y1="379.1" x2="355.2" y2="515.3" stroke="#e6e6e6" stroke-width="0.5"/><path fill="#0072BD" d="M244.99 502.09 L247.49 496.29 L249.89 491.39 L253.19 488.59 L255.59 486.49 L258.89 483.29 L261.39 480.79 L264.59 478.39 L268.69 475.09 L272.79 472.59 L274.29 467.79 L277.49 463.39 L281.89 462.39 L287.39 462.39 L292.79 461.29 L294.39 457.99 L296.31 460.41 L294.01 465.81 L290.81 469.11 L288.61 475.61 L285.41 480.01 L281.01 487.61 L276.61 492.01 L273.41 497.41 L269.21 501.71 L264.31 503.31 L259.41 505.01 L255.31 506.61 L249.51 508.21 L244.61 509.11 Z"/><g fill="#0072BD"><circle cx="244.5" cy="502.32" r="1.55"/><circle cx="245.98" cy="499.92" r="1.55"/><circle cx="246.62" cy="499.5" r="1.55"/><circle cx="246.3" cy="498.4" r="1.55"/><circle cx="247.59" cy="497.85" r="1.55"/><circle cx="247.38" cy="495.19" r="1.55"/><circle cx="248.42" cy="495.3" r="1.55"/><circle cx="249.51" cy="492.41" r="1.55"/><circle cx="248.81" cy="493.01" r="1.55"/><circle cx="250.82" cy="490.29" r="1.55"/><circle cx="251.47" cy="489.44" r="1.55"/><circle cx="252.67" cy="489.42" r="1.55"/><circle cx="254.47" cy="487.87" r="1.55"/><circle cx="255.9" cy="487.01" r="1.55"/><circle cx="256.14" cy="485.76" r="1.55"/><circle cx="256.72" cy="484.99" r="1.55"/><circle cx="258.35" cy="483.22" r="1.55"/><circle cx="259.64" cy="483.12" r="1.55"/><circle cx="261.04" cy="481.48" r="1.55"/><circle cx="261.64" cy="480.81" r="1.55"/><circle cx="263.67" cy="479.2" r="1.55"/><circle cx="264.71" cy="478.6" r="1.55"/><circle cx="265.09" cy="477.54" r="1.55"/><circle cx="265.48" cy="477.03" r="1.55"/><circle cx="266.95" cy="476.97" r="1.55"/><circle cx="267.94" cy="475.67" r="1.55"/><circle cx="269.68" cy="474.24" r="1.55"/><circle cx="270.16" cy="473.83" r="1.55"/><circle cx="271.33" cy="473.9" r="1.55"/><circle cx="272.32" cy="472.35" r="1.55"/><circle cx="272.45" cy="471.74" r="1.55"/><circle cx="273.34" cy="471.23" r="1.55"/><circle cx="273.92" cy="469.6" r="1.55"/><circle cx="274.05" cy="467.44" r="1.55"/><circle cx="275.42" cy="466.26" r="1.55"/><circle cx="274.84" cy="466.75" r="1.55"/><circle cx="275.42" cy="465.44" r="1.55"/><circle cx="276.4" cy="464.34" r="1.55"/><circle cx="277.19" cy="463.03" r="1.55"/><circle cx="279.1" cy="462.87" r="1.55"/><circle cx="280.74" cy="462.02" r="1.55"/><circle cx="283.32" cy="462.38" r="1.55"/><circle cx="282.95" cy="462.87" r="1.55"/><circle cx="284.91" cy="462.77" r="1.55"/><circle cx="286.78" cy="462.39" r="1.55"/><circle cx="287.68" cy="462.02" r="1.55"/><circle cx="289.78" cy="462.1" r="1.55"/><circle cx="290.78" cy="461.15" r="1.55"/><circle cx="291.86" cy="461.99" r="1.55"/><circle cx="292.76" cy="460.61" r="1.55"/><circle cx="293.23" cy="459.64" r="1.55"/><circle cx="294.69" cy="458.54" r="1.55"/><circle cx="245.6" cy="508.74" r="1.55"/><circle cx="246.75" cy="508.44" r="1.55"/><circle cx="247.05" cy="508.93" r="1.55"/><circle cx="248.08" cy="508.13" r="1.55"/><circle cx="250.42" cy="508.04" r="1.55"/><circle cx="251.97" cy="507.27" r="1.55"/><circle cx="252.06" cy="507.09" r="1.55"/><circle cx="252.66" cy="507.03" r="1.55"/><circle cx="255.37" cy="506.16" r="1.55"/><circle cx="255.72" cy="506.53" r="1.55"/><circle cx="256.23" cy="506.15" r="1.55"/><circle cx="258.36" cy="505.55" r="1.55"/><circle cx="259.82" cy="504.95" r="1.55"/><circle cx="261.59" cy="504.32" r="1.55"/><circle cx="262.43" cy="504.39" r="1.55"/><circle cx="264.62" cy="503.37" r="1.55"/><circle cx="265.36" cy="503.58" r="1.55"/><circle cx="267.04" cy="502.19" r="1.55"/><circle cx="267.39" cy="501.96" r="1.55"/><circle cx="268.61" cy="502.05" r="1.55"/><circle cx="269.54" cy="501.54" r="1.55"/><circle cx="271.25" cy="500.83" r="1.55"/><circle cx="271.28" cy="499.51" r="1.55"/><circle cx="272.68" cy="498.64" r="1.55"/><circle cx="272.3" cy="497.93" r="1.55"/><circle cx="273.52" cy="496.36" r="1.55"/><circle cx="273.85" cy="495.42" r="1.55"/><circle cx="274.8" cy="494.77" r="1.55"/><circle cx="275.54" cy="493.16" r="1.55"/><circle cx="276.06" cy="493.64" r="1.55"/><circle cx="276.68" cy="491.55" r="1.55"/><circle cx="278.14" cy="490.84" r="1.55"/><circle cx="277.94" cy="489.9" r="1.55"/><circle cx="279.46" cy="488.91" r="1.55"/><circle cx="280.91" cy="487.73" r="1.55"/><circle cx="281.79" cy="486.68" r="1.55"/><circle cx="281.96" cy="485.07" r="1.55"/><circle cx="282.91" cy="484.5" r="1.55"/><circle cx="283.24" cy="484.13" r="1.55"/><circle cx="283.67" cy="483.07" r="1.55"/><circle cx="284.12" cy="482.26" r="1.55"/><circle cx="284.65" cy="480.84" r="1.55"/><circle cx="285.74" cy="478.59" r="1.55"/><circle cx="286.34" cy="477.94" r="1.55"/><circle cx="287.9" cy="477.3" r="1.55"/><circle cx="288.38" cy="476.41" r="1.55"/><circle cx="288.94" cy="475.02" r="1.55"/><circle cx="288.97" cy="473.27" r="1.55"/><circle cx="289.17" cy="471.97" r="1.55"/><circle cx="290.41" cy="471.01" r="1.55"/><circle cx="290.42" cy="470.18" r="1.55"/><circle cx="290.64" cy="469.5" r="1.55"/><circle cx="292.66" cy="467.35" r="1.55"/><circle cx="294.41" cy="466.08" r="1.55"/><circle cx="294.49" cy="465.34" r="1.55"/><circle cx="294.29" cy="464.15" r="1.55"/><circle cx="295.45" cy="462.29" r="1.55"/><circle cx="296.08" cy="461.62" r="1.55"/></g><g fill="#0072BD"><circle cx="243.75" cy="498.29" r="1.55"/><circle cx="245.19" cy="494.5" r="1.55"/><circle cx="249.04" cy="490.65" r="1.55"/><circle cx="249.76" cy="488.89" r="1.55"/><circle cx="251.94" cy="486.18" r="1.55"/><circle cx="257.65" cy="482.67" r="1.55"/><circle cx="257.94" cy="479.81" r="1.55"/><circle cx="262.82" cy="477.25" r="1.55"/><circle cx="263.6" cy="476.62" r="1.55"/><circle cx="268.88" cy="471.86" r="1.55"/><circle cx="271.92" cy="470.55" r="1.55"/><circle cx="276.71" cy="462.73" r="1.55"/><circle cx="279.32" cy="461.92" r="1.55"/><circle cx="284.65" cy="461.02" r="1.55"/><circle cx="291.33" cy="460.31" r="1.55"/><circle cx="293.13" cy="457.33" r="1.55"/><circle cx="245.69" cy="509.91" r="1.55"/><circle cx="251.27" cy="509.4" r="1.55"/><circle cx="256.41" cy="507.92" r="1.55"/><circle cx="259.01" cy="506.23" r="1.55"/><circle cx="263.49" cy="505.68" r="1.55"/><circle cx="266.4" cy="504.77" r="1.55"/><circle cx="272.3" cy="501.01" r="1.55"/><circle cx="274.48" cy="499.93" r="1.55"/><circle cx="274.67" cy="497.64" r="1.55"/><circle cx="274.7" cy="498.25" r="1.55"/><circle cx="281.63" cy="491.43" r="1.55"/><circle cx="282.93" cy="489.8" r="1.55"/><circle cx="283.5" cy="488.61" r="1.55"/><circle cx="285.81" cy="483.26" r="1.55"/><circle cx="287.03" cy="481.69" r="1.55"/><circle cx="286.84" cy="480.54" r="1.55"/><circle cx="290.56" cy="476.43" r="1.55"/><circle cx="292.03" cy="473.6" r="1.55"/><circle cx="291.57" cy="469.8" r="1.55"/><circle cx="297.37" cy="461.68" r="1.55"/><circle cx="296.68" cy="466.44" r="1.55"/></g><g fill="#0072BD"><circle cx="280.36" cy="491.89" r="1.55"/><circle cx="295.08" cy="482.62" r="1.55"/><circle cx="296.17" cy="488.08" r="1.55"/><circle cx="294.54" cy="471.17" r="1.55"/><circle cx="296.17" cy="472.26" r="1.55"/><circle cx="298.35" cy="476.62" r="1.55"/><circle cx="293.45" cy="447.18" r="1.55"/><circle cx="295.08" cy="451.54" r="1.55"/><circle cx="297.81" cy="452.63" r="1.55"/><circle cx="293.99" cy="455.91" r="1.55"/><circle cx="299.44" cy="458.09" r="1.55"/><circle cx="271.09" cy="448.27" r="1.55"/><circle cx="257.08" cy="478.18" r="1.55"/><circle cx="255.45" cy="482.26" r="1.55"/><circle cx="264.44" cy="506.79" r="1.55"/><circle cx="259.13" cy="508.43" r="1.55"/><circle cx="260.76" cy="470.82" r="1.55"/><circle cx="325.14" cy="389.43" r="1.55"/><circle cx="354.29" cy="384.86" r="1.55"/><circle cx="318" cy="407.14" r="1.55"/><circle cx="348.57" cy="405.71" r="1.55"/><circle cx="347.14" cy="410" r="1.55"/><circle cx="324.29" cy="418" r="1.55"/><circle cx="330" cy="418.57" r="1.55"/><circle cx="340" cy="418" r="1.55"/><circle cx="304.29" cy="424.29" r="1.55"/><circle cx="310" cy="428.57" r="1.55"/><circle cx="330" cy="428.57" r="1.55"/><circle cx="276.85" cy="462.92" r="1.55"/><circle cx="280.67" cy="462.92" r="1.55"/><circle cx="286.8" cy="462.16" r="1.55"/><circle cx="291.39" cy="460.63" r="1.55"/><circle cx="293.69" cy="455.27" r="1.55"/><circle cx="296.75" cy="451.44" r="1.55"/><circle cx="298.28" cy="458.33" r="1.55"/><circle cx="299.82" cy="461.39" r="1.55"/><circle cx="295.99" cy="465.99" r="1.55"/><circle cx="301.35" cy="468.28" r="1.55"/><circle cx="295.22" cy="472.11" r="1.55"/><circle cx="300.58" cy="475.94" r="1.55"/><circle cx="294.46" cy="482.83" r="1.55"/><circle cx="288.33" cy="476.71" r="1.55"/><circle cx="282.97" cy="482.07" r="1.55"/><circle cx="281.44" cy="477.47" r="1.55"/><circle cx="287.57" cy="469.82" r="1.55"/><circle cx="279.91" cy="471.35" r="1.55"/><circle cx="275.31" cy="470.58" r="1.55"/><circle cx="269.19" cy="475.94" r="1.55"/><circle cx="265.36" cy="461.39" r="1.55"/><circle cx="260.77" cy="470.58" r="1.55"/><circle cx="302.88" cy="437.66" r="1.55"/><circle cx="305.94" cy="440.72" r="1.55"/><circle cx="309" cy="439.19" r="1.55"/><circle cx="312.83" cy="435.36" r="1.55"/><circle cx="318.19" cy="446.08" r="1.55"/><circle cx="305.94" cy="450.67" r="1.55"/><circle cx="310.54" cy="451.44" r="1.55"/><circle cx="307.47" cy="455.27" r="1.55"/><circle cx="315.9" cy="456.03" r="1.55"/><circle cx="305.18" cy="461.39" r="1.55"/><circle cx="315.13" cy="461.39" r="1.55"/><circle cx="295.22" cy="446.85" r="1.55"/><circle cx="294.46" cy="432.3" r="1.55"/><circle cx="290.63" cy="466.75" r="1.55"/><circle cx="284.5" cy="474.41" r="1.55"/><circle cx="278.38" cy="466.75" r="1.55"/><circle cx="277.82" cy="421.48" r="1.55"/><circle cx="325.01" cy="417.65" r="1.55"/><circle cx="330.11" cy="418.93" r="1.55"/><circle cx="304.6" cy="424.03" r="1.55"/><circle cx="310.98" cy="429.13" r="1.55"/><circle cx="296.18" cy="432.45" r="1.55"/><circle cx="313.53" cy="435.51" r="1.55"/><circle cx="318.63" cy="435.51" r="1.55"/><circle cx="303.84" cy="438.06" r="1.55"/><circle cx="308.43" cy="439.34" r="1.55"/><circle cx="318.12" cy="443.16" r="1.55"/><circle cx="268.89" cy="448.27" r="1.55"/><circle cx="326.29" cy="448.27" r="1.55"/><circle cx="293.12" cy="447.76" r="1.55"/><circle cx="298.22" cy="452.09" r="1.55"/><circle cx="307.15" cy="450.82" r="1.55"/><circle cx="312.26" cy="450.82" r="1.55"/><circle cx="295.67" cy="455.92" r="1.55"/><circle cx="305.37" cy="456.43" r="1.55"/><circle cx="316.08" cy="461.02" r="1.55"/><circle cx="321.18" cy="460.51" r="1.55"/><circle cx="266.34" cy="461.02" r="1.55"/><circle cx="293.12" cy="463.57" r="1.55"/><circle cx="298.22" cy="464.85" r="1.55"/><circle cx="303.33" cy="462.3" r="1.55"/><circle cx="261.23" cy="470.46" r="1.55"/><circle cx="295.67" cy="472.5" r="1.55"/><circle cx="300.78" cy="468.67" r="1.55"/><circle cx="277.82" cy="463.57" r="1.55"/><circle cx="282.92" cy="467.4" r="1.55"/><circle cx="288.02" cy="464.85" r="1.55"/><circle cx="296.95" cy="485.26" r="1.55"/><circle cx="288.02" cy="477.6" r="1.55"/><circle cx="298.22" cy="478.88" r="1.55"/><circle cx="294.4" cy="482.7" r="1.55"/><circle cx="280.37" cy="486.53" r="1.55"/></g><line x1="237.8" y1="515.3" x2="374.9" y2="379.1" stroke="#141414" stroke-width="1.2"/><line x1="237.8" y1="379.1" x2="237.8" y2="515.6" stroke="#808080" stroke-width="0.6"/><line x1="237.5" y1="515.3" x2="374.9" y2="515.3" stroke="#808080" stroke-width="0.6"/><line x1="237.8" y1="509.1" x2="239.3" y2="509.1" stroke="#808080" stroke-width="0.5"/><line x1="244.7" y1="515.3" x2="244.7" y2="513.8" stroke="#808080" stroke-width="0.5"/><text transform="translate(235.6 511.44) scale(1 1.15)" font-size="6.5" text-anchor="end" fill="#4d4d4d" font-family="Liberation Sans, sans-serif" >0</text><text transform="translate(244.7 525.3) scale(1 1.15)" font-size="6.5" text-anchor="middle" fill="#4d4d4d" font-family="Liberation Sans, sans-serif" >0</text><line x1="237.8" y1="486.94" x2="239.3" y2="486.94" stroke="#808080" stroke-width="0.5"/><line x1="266.8" y1="515.3" x2="266.8" y2="513.8" stroke="#808080" stroke-width="0.5"/><text transform="translate(235.6 489.28) scale(1 1.15)" font-size="6.5" text-anchor="end" fill="#4d4d4d" font-family="Liberation Sans, sans-serif" >100</text><text transform="translate(266.8 525.3) scale(1 1.15)" font-size="6.5" text-anchor="middle" fill="#4d4d4d" font-family="Liberation Sans, sans-serif" >100</text><line x1="237.8" y1="464.78" x2="239.3" y2="464.78" stroke="#808080" stroke-width="0.5"/><line x1="288.9" y1="515.3" x2="288.9" y2="513.8" stroke="#808080" stroke-width="0.5"/><text transform="translate(235.6 467.12) scale(1 1.15)" font-size="6.5" text-anchor="end" fill="#4d4d4d" font-family="Liberation Sans, sans-serif" >200</text><text transform="translate(288.9 525.3) scale(1 1.15)" font-size="6.5" text-anchor="middle" fill="#4d4d4d" font-family="Liberation Sans, sans-serif" >200</text><line x1="237.8" y1="442.62" x2="239.3" y2="442.62" stroke="#808080" stroke-width="0.5"/><line x1="311" y1="515.3" x2="311" y2="513.8" stroke="#808080" stroke-width="0.5"/><text transform="translate(235.6 444.96) scale(1 1.15)" font-size="6.5" text-anchor="end" fill="#4d4d4d" font-family="Liberation Sans, sans-serif" >300</text><text transform="translate(311 525.3) scale(1 1.15)" font-size="6.5" text-anchor="middle" fill="#4d4d4d" font-family="Liberation Sans, sans-serif" >300</text><line x1="237.8" y1="420.46" x2="239.3" y2="420.46" stroke="#808080" stroke-width="0.5"/><line x1="333.1" y1="515.3" x2="333.1" y2="513.8" stroke="#808080" stroke-width="0.5"/><text transform="translate(235.6 422.8) scale(1 1.15)" font-size="6.5" text-anchor="end" fill="#4d4d4d" font-family="Liberation Sans, sans-serif" >400</text><text transform="translate(333.1 525.3) scale(1 1.15)" font-size="6.5" text-anchor="middle" fill="#4d4d4d" font-family="Liberation Sans, sans-serif" >400</text><line x1="237.8" y1="398.3" x2="239.3" y2="398.3" stroke="#808080" stroke-width="0.5"/><line x1="355.2" y1="515.3" x2="355.2" y2="513.8" stroke="#808080" stroke-width="0.5"/><text transform="translate(235.6 400.64) scale(1 1.15)" font-size="6.5" text-anchor="end" fill="#4d4d4d" font-family="Liberation Sans, sans-serif" >500</text><text transform="translate(355.2 525.3) scale(1 1.15)" font-size="6.5" text-anchor="middle" fill="#4d4d4d" font-family="Liberation Sans, sans-serif" >500</text><text x="306" y="374.9" font-size="7.27" text-anchor="middle" font-weight="bold" fill="#1a1a1a" font-family="Liberation Sans, sans-serif" >Predictions: model Cubic SVM</text><text transform="translate(306.2 534.8) scale(1 1.15)" font-size="7" text-anchor="middle" fill="#404040" font-family="Liberation Sans, sans-serif" >True PM10</text><text x="0" y="0" font-size="7.35" text-anchor="middle" fill="#404040" font-family="Liberation Sans, sans-serif" transform="translate(221.6 446.4) rotate(-90) scale(1 1.15)">Predicted PM10</text><rect x="241" y="381.4" width="71" height="17.6" fill="#ffffff" stroke="#9a9a9a" stroke-width="0.6"/><g fill="#0072BD"><circle cx="252.8" cy="386.3" r="1.6"/></g><line x1="243.2" y1="394.5" x2="261" y2="394.5" stroke="#303030" stroke-width="1"/><text transform="translate(266.5 388.35) scale(1 1.15)" font-size="5.7" text-anchor="start" fill="#222" font-family="Liberation Sans, sans-serif" >Observations</text><text transform="translate(266.5 396.55) scale(1 1.15)" font-size="5.7" text-anchor="start" fill="#222" font-family="Liberation Sans, sans-serif" >Perfect prediction</text><text x="296.6" y="543.6" font-size="7.4" text-anchor="middle" fill="#222" font-family="Liberation Serif, serif">(<tspan font-weight="bold">f</tspan>)</text>
</svg></div></body></html>
